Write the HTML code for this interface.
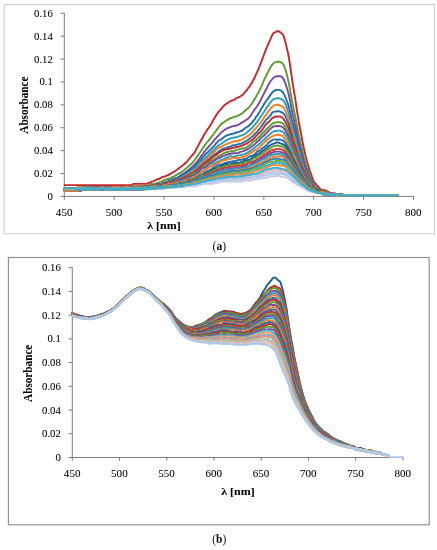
<!DOCTYPE html>
<html lang="en"><head><meta charset="utf-8"><title>Absorbance spectra</title>
<style>html,body{margin:0;padding:0;background:#fff}body{width:437px;height:550px;overflow:hidden}</style>
</head><body>
<svg width="437" height="550" viewBox="0 0 437 550" style="display:block">
<rect width="437" height="550" fill="#fff"/>
<rect x="4.2" y="4.6" width="430.2" height="229.1" fill="#fff" stroke="#d2d2d2" stroke-width="1.2"/>
<rect x="8.4" y="257.5" width="420.8" height="267.3" fill="#fff" stroke="#8e8e8e" stroke-width="1.15"/>
<g stroke="#7c7c7c" stroke-width="1" fill="none">
<path d="M64.30,12.78 V199.80"/>
<path d="M60.50,196.40 H414.00"/>
<path d="M60.50,173.51 H64.30"/>
<path d="M60.50,150.62 H64.30"/>
<path d="M60.50,127.73 H64.30"/>
<path d="M60.50,104.84 H64.30"/>
<path d="M60.50,81.95 H64.30"/>
<path d="M60.50,59.06 H64.30"/>
<path d="M60.50,36.17 H64.30"/>
<path d="M60.50,13.28 H64.30"/>
<path d="M114.19,196.40 V199.80"/>
<path d="M164.07,196.40 V199.80"/>
<path d="M213.96,196.40 V199.80"/>
<path d="M263.84,196.40 V199.80"/>
<path d="M313.73,196.40 V199.80"/>
<path d="M363.61,196.40 V199.80"/>
<path d="M413.50,196.40 V199.80"/>
</g>
<g font-family='"Liberation Serif", "DejaVu Serif", serif' font-size="11.4" fill="#000" stroke="#000" stroke-width="0.06">
<text transform="translate(52.85,199.85) scale(0.945,1)" text-anchor="end">0</text>
<text transform="translate(52.85,176.96) scale(0.945,1)" text-anchor="end">0.02</text>
<text transform="translate(52.85,154.07) scale(0.945,1)" text-anchor="end">0.04</text>
<text transform="translate(52.85,131.18) scale(0.945,1)" text-anchor="end">0.06</text>
<text transform="translate(52.85,108.29) scale(0.945,1)" text-anchor="end">0.08</text>
<text transform="translate(52.85,85.40) scale(0.945,1)" text-anchor="end">0.1</text>
<text transform="translate(52.85,62.51) scale(0.945,1)" text-anchor="end">0.12</text>
<text transform="translate(52.85,39.62) scale(0.945,1)" text-anchor="end">0.14</text>
<text transform="translate(52.85,16.73) scale(0.945,1)" text-anchor="end">0.16</text>
<text transform="translate(64.15,215.75) scale(0.970,1)" text-anchor="middle">450</text>
<text transform="translate(114.04,215.75) scale(0.970,1)" text-anchor="middle">500</text>
<text transform="translate(163.92,215.75) scale(0.970,1)" text-anchor="middle">550</text>
<text transform="translate(213.81,215.75) scale(0.970,1)" text-anchor="middle">600</text>
<text transform="translate(263.69,215.75) scale(0.970,1)" text-anchor="middle">650</text>
<text transform="translate(313.58,215.75) scale(0.970,1)" text-anchor="middle">700</text>
<text transform="translate(363.46,215.75) scale(0.970,1)" text-anchor="middle">750</text>
<text transform="translate(413.35,215.75) scale(0.970,1)" text-anchor="middle">800</text>
<text transform="translate(147.20,228.90) scale(1.120,1)" font-size="10.7" font-weight="bold">λ [nm]</text>
<text transform="translate(27.90,105.10) rotate(-90) scale(0.890,1)" text-anchor="middle" font-size="12.6" font-weight="bold">Absorbance</text>
</g>
<g fill="none" stroke-width="1.9" stroke-linejoin="round" stroke-linecap="round">
<path d="M64.5,188.5 83.4,188.5 84.4,187.4 87.4,187.4 88.4,188.5 95.4,188.5 96.4,187.4 103.4,187.4 104.4,188.5 115.4,188.5 116.4,187.4 119.3,187.4 120.3,188.5 140.3,188.5 141.3,187.4 143.3,187.4 144.3,188.5 147.3,188.5 148.3,187.4 167.2,187.4 168.2,186.2 182.2,186.2 183.2,185.1 191.1,185.1 192.1,183.9 197.1,183.9 198.1,182.8 202.1,182.8 203.1,181.6 206.1,181.6 207.1,180.5 208.1,181.6 209.1,180.5 211.1,180.5 212.1,180.1 213.1,180.1 214.1,179.7 215.1,179.7 216.1,179.4 217.1,179.0 219.1,179.0 220.1,178.6 221.1,178.6 222.1,178.2 223.1,178.2 224.1,178.6 225.0,178.2 227.0,178.2 228.0,177.8 229.0,177.8 230.0,177.5 231.0,177.5 232.0,177.1 235.0,177.1 236.0,177.8 237.0,177.5 239.0,177.5 240.0,176.7 245.0,176.7 246.0,176.3 248.0,176.3 249.0,175.9 250.0,175.9 251.0,175.6 252.0,174.8 253.0,174.8 254.0,174.4 255.0,174.0 256.0,174.4 257.0,174.0 258.0,173.7 260.0,173.7 260.9,173.3 261.9,172.9 262.9,172.9 263.9,172.1 264.9,171.7 265.9,171.4 266.9,171.4 267.9,171.0 268.9,170.6 269.9,170.2 270.9,170.2 271.9,169.8 274.9,169.8 275.9,169.5 278.9,169.5 279.9,169.8 280.9,169.8 281.9,170.2 282.9,170.2 283.9,170.6 284.9,171.0 285.9,171.4 286.9,172.1 287.9,172.5 288.9,173.3 289.9,174.0 290.9,175.2 291.9,176.3 292.9,177.5 293.9,178.2 294.9,179.0 295.9,179.7 296.8,180.5 297.8,181.6 298.8,182.8 299.8,182.8 300.8,183.9 301.8,185.1 302.8,186.2 303.8,186.2 304.8,187.4 305.8,187.4 306.8,188.5 307.8,188.5 308.8,189.6 309.8,189.6 310.8,190.8 312.8,190.8 313.8,191.9 316.8,191.9 317.8,193.1 326.8,193.1 327.8,194.2 338.7,194.2 339.7,195.4 397.6,195.4" stroke="#f2b0b0"/>
<path d="M64.5,189.6 72.5,189.6 73.5,188.5 115.4,188.5 116.4,187.4 119.3,187.4 120.3,188.5 155.2,188.5 156.2,187.4 175.2,187.4 176.2,186.2 188.2,186.2 189.1,185.1 197.1,185.1 198.1,183.9 202.1,183.9 203.1,182.8 206.1,182.8 207.1,181.6 208.1,182.8 209.1,182.8 210.1,181.6 212.1,181.6 213.1,180.5 219.1,180.5 220.1,179.7 221.1,179.7 222.1,179.4 223.1,179.4 224.1,179.7 225.0,179.4 227.0,179.4 228.0,179.0 229.0,179.0 230.0,178.6 235.0,178.6 236.0,179.0 239.0,179.0 240.0,178.2 241.0,178.2 242.0,177.8 244.0,177.8 245.0,177.5 249.0,177.5 250.0,177.1 251.0,177.1 252.0,176.7 253.0,176.7 254.0,176.3 255.0,176.3 256.0,175.9 257.0,175.6 258.0,175.6 259.0,175.2 260.0,175.2 260.9,174.8 261.9,174.8 262.9,174.4 263.9,173.7 264.9,173.3 265.9,172.9 267.9,172.9 268.9,172.5 269.9,172.5 270.9,172.1 271.9,171.7 273.9,171.7 274.9,171.4 275.9,171.7 280.9,171.7 281.9,172.1 282.9,172.1 283.9,172.9 284.9,173.3 285.9,173.7 286.9,174.0 287.9,174.0 288.9,174.8 289.9,175.6 290.9,176.7 291.9,177.8 292.9,178.6 293.9,179.4 294.9,180.1 295.9,180.5 296.8,181.6 297.8,182.8 298.8,182.8 299.8,183.9 300.8,185.1 301.8,185.1 302.8,186.2 303.8,187.4 304.8,187.4 305.8,188.5 306.8,188.5 307.8,189.6 308.8,189.6 309.8,190.8 311.8,190.8 312.8,191.9 315.8,191.9 316.8,193.1 322.8,193.1 323.8,194.2 338.7,194.2 339.7,195.4 397.6,195.4" stroke="#cbbfe0"/>
<path d="M64.5,188.5 67.5,188.5 68.5,189.6 79.5,189.6 80.5,188.5 81.5,188.5 82.4,187.4 111.4,187.4 112.4,188.5 115.4,188.5 116.4,187.4 163.2,187.4 164.2,186.2 183.2,186.2 184.2,185.1 194.1,185.1 195.1,183.9 204.1,183.9 205.1,182.8 208.1,182.8 209.1,181.6 216.1,181.6 217.1,180.5 221.1,180.5 222.1,180.1 231.0,180.1 232.0,179.7 234.0,179.7 235.0,179.4 236.0,179.7 238.0,179.7 239.0,179.4 240.0,179.7 241.0,179.7 242.0,179.4 243.0,179.4 244.0,179.0 245.0,178.6 249.0,178.6 250.0,178.2 251.0,178.2 252.0,177.8 253.0,177.8 254.0,177.5 256.0,177.5 257.0,177.1 258.0,177.1 259.0,176.7 260.0,176.7 260.9,176.3 261.9,175.9 262.9,175.9 263.9,175.6 264.9,175.6 265.9,175.2 266.9,175.2 267.9,174.8 268.9,174.4 269.9,174.4 270.9,174.0 271.9,173.7 277.9,173.7 278.9,174.0 279.9,173.7 280.9,173.7 281.9,174.0 282.9,174.0 283.9,174.4 284.9,174.8 285.9,175.2 286.9,175.6 287.9,175.9 288.9,176.3 289.9,177.1 290.9,177.8 291.9,179.4 292.9,180.1 293.9,180.5 294.9,181.6 295.9,181.6 296.8,182.8 297.8,182.8 298.8,183.9 299.8,185.1 300.8,185.1 301.8,186.2 302.8,186.2 303.8,187.4 304.8,187.4 305.8,188.5 306.8,188.5 307.8,189.6 308.8,189.6 309.8,190.8 311.8,190.8 312.8,191.9 317.8,191.9 318.8,193.1 325.8,193.1 326.8,194.2 338.7,194.2 339.7,195.4 397.6,195.4" stroke="#a8cbe8"/>
<path d="M64.5,190.8 67.5,190.8 68.5,189.6 71.5,189.6 72.5,190.8 75.5,190.8 76.5,189.6 80.5,189.6 81.5,188.5 83.4,188.5 84.4,189.6 87.4,189.6 88.4,188.5 107.4,188.5 108.4,189.6 111.4,189.6 112.4,188.5 163.2,188.5 164.2,187.4 185.2,187.4 186.2,186.2 196.1,186.2 197.1,185.1 201.1,185.1 202.1,183.9 213.1,183.9 214.1,182.8 219.1,182.8 220.1,181.6 242.0,181.6 243.0,180.5 250.0,180.5 251.0,180.1 252.0,180.1 253.0,179.7 255.0,179.7 256.0,179.4 257.0,179.4 258.0,179.0 259.0,179.0 260.0,178.6 260.9,178.2 261.9,178.2 262.9,177.8 263.9,178.2 264.9,177.8 265.9,177.8 266.9,177.5 267.9,177.1 268.9,176.7 269.9,176.7 270.9,176.3 274.9,176.3 275.9,175.9 278.9,175.9 279.9,176.3 280.9,176.7 283.9,176.7 284.9,177.1 285.9,177.5 286.9,177.8 287.9,178.2 288.9,178.6 289.9,179.4 290.9,180.1 291.9,181.6 292.9,181.6 293.9,182.8 294.9,182.8 295.9,183.9 296.8,183.9 297.8,185.1 298.8,185.1 299.8,186.2 300.8,186.2 301.8,187.4 302.8,187.4 303.8,188.5 304.8,188.5 305.8,189.6 306.8,189.6 307.8,190.8 309.8,190.8 310.8,191.9 316.8,191.9 317.8,193.1 320.8,193.1 321.8,194.2 334.7,194.2 335.7,195.4 397.6,195.4" stroke="#c9c6e6"/>
<path d="M64.5,185.1 132.3,185.1 133.3,183.9 147.3,183.9 148.3,182.8 150.3,182.8 151.3,181.6 153.3,181.6 154.2,180.5 155.2,180.5 156.2,179.7 157.2,179.4 158.2,179.0 159.2,179.0 160.2,178.2 161.2,177.8 162.2,177.1 163.2,176.7 164.2,176.7 165.2,176.3 166.2,175.9 167.2,175.2 168.2,175.2 169.2,174.4 170.2,174.0 171.2,173.3 172.2,172.9 173.2,172.1 174.2,171.7 175.2,171.0 176.2,170.2 177.2,169.5 178.2,168.7 179.2,167.9 180.2,167.2 181.2,166.4 182.2,165.7 183.2,164.9 184.2,164.1 185.2,163.4 186.2,162.2 187.2,161.5 188.2,159.9 189.1,158.8 190.1,157.7 191.1,156.5 192.1,155.4 193.1,154.2 194.1,153.1 195.1,151.6 196.1,149.3 197.1,147.8 198.1,145.8 199.1,143.9 200.1,142.0 201.1,140.1 202.1,138.6 203.1,136.7 204.1,134.8 205.1,133.3 206.1,131.8 207.1,129.9 208.1,128.7 209.1,127.2 210.1,125.7 211.1,124.1 212.1,122.2 213.1,120.3 214.1,118.8 215.1,116.9 216.1,115.4 217.1,113.9 218.1,112.3 219.1,111.2 220.1,110.1 221.1,108.9 222.1,107.8 223.1,106.6 224.1,105.5 225.0,104.7 226.0,104.0 227.0,103.2 228.0,102.8 229.0,102.1 230.0,101.3 231.0,100.9 232.0,100.5 233.0,100.1 234.0,99.8 235.0,99.4 236.0,98.2 237.0,97.9 238.0,97.5 239.0,97.1 240.0,96.7 241.0,96.0 242.0,95.2 243.0,94.4 244.0,93.3 245.0,92.2 246.0,91.0 247.0,89.9 248.0,88.3 249.0,87.2 250.0,85.7 251.0,83.8 252.0,82.6 253.0,80.7 254.0,78.8 255.0,76.9 256.0,74.3 257.0,72.3 258.0,70.1 259.0,67.8 260.0,65.1 260.9,62.8 261.9,60.2 262.9,57.5 263.9,54.8 264.9,52.2 265.9,49.5 266.9,47.2 267.9,44.9 268.9,42.6 269.9,40.4 270.9,38.1 271.9,35.8 272.9,33.9 273.9,32.7 274.9,32.4 275.9,32.0 276.9,31.2 278.9,31.2 279.9,32.0 280.9,32.7 281.9,33.5 282.9,34.6 283.9,36.9 284.9,40.4 285.9,44.2 286.9,48.4 287.9,52.5 288.9,57.5 289.9,64.0 290.9,70.8 291.9,78.1 292.9,84.9 293.9,91.0 294.9,96.7 295.9,103.2 296.8,109.7 297.8,115.8 298.8,121.9 299.8,127.2 300.8,132.5 301.8,137.9 302.8,143.2 303.8,148.1 304.8,152.7 305.8,156.9 306.8,160.7 307.8,164.1 308.8,167.6 309.8,170.6 310.8,173.3 311.8,176.3 312.8,179.0 313.8,181.6 314.8,182.8 315.8,183.9 316.8,185.1 317.8,186.2 318.8,187.4 319.8,188.5 320.8,189.6 321.8,189.6 322.8,190.8 323.8,189.6 324.8,190.8 326.8,190.8 327.8,191.9 328.8,191.9 329.8,193.1 334.7,193.1 335.7,194.2 342.7,194.2 343.7,195.4 397.6,195.4" stroke="#c8282d"/>
<path d="M64.5,188.5 76.5,188.5 77.5,187.4 131.3,187.4 132.3,186.2 135.3,186.2 136.3,187.4 139.3,187.4 140.3,186.2 147.3,186.2 148.3,185.1 150.3,185.1 151.3,183.9 152.3,185.1 153.3,183.9 156.2,183.9 157.2,182.8 159.2,182.8 160.2,181.6 162.2,181.6 163.2,180.5 164.2,180.1 165.2,179.7 166.2,179.4 167.2,179.0 168.2,179.4 169.2,178.6 170.2,178.2 171.2,177.8 172.2,177.1 173.2,176.7 174.2,176.3 175.2,175.6 176.2,175.2 177.2,174.4 178.2,174.0 179.2,173.3 180.2,172.9 181.2,172.1 182.2,171.7 183.2,171.0 184.2,169.8 185.2,169.1 186.2,168.3 187.2,167.6 188.2,166.8 189.1,166.0 190.1,164.9 191.1,164.1 192.1,163.0 193.1,161.8 194.1,160.7 195.1,159.6 196.1,158.0 197.1,156.5 198.1,155.4 199.1,153.8 200.1,152.3 201.1,150.8 202.1,149.3 203.1,147.8 204.1,146.2 205.1,144.7 206.1,143.6 207.1,142.0 208.1,141.3 209.1,139.8 210.1,138.6 211.1,137.5 212.1,135.9 213.1,134.8 214.1,133.3 215.1,131.8 216.1,130.6 217.1,129.1 218.1,128.0 219.1,126.8 220.1,125.3 221.1,124.1 222.1,123.4 223.1,122.6 224.1,122.2 225.0,121.5 226.0,120.7 227.0,120.0 228.0,119.6 229.0,118.8 230.0,118.4 231.0,118.0 232.0,117.7 233.0,117.3 234.0,116.9 235.0,116.9 236.0,116.5 237.0,116.1 238.0,115.8 239.0,115.0 240.0,114.6 241.0,114.2 242.0,113.5 243.0,112.7 244.0,111.6 245.0,110.8 246.0,109.7 247.0,108.9 248.0,108.5 249.0,107.4 250.0,106.2 251.0,104.7 252.0,103.6 253.0,101.7 254.0,100.1 255.0,98.6 256.0,96.7 257.0,94.8 258.0,93.3 259.0,91.4 260.0,89.5 260.9,87.6 261.9,85.3 262.9,83.0 263.9,80.3 264.9,78.4 265.9,76.2 266.9,74.3 267.9,72.3 268.9,70.4 269.9,68.5 270.9,66.6 271.9,65.1 272.9,64.0 273.9,62.8 274.9,62.4 275.9,62.1 276.9,61.7 279.9,61.7 280.9,62.4 281.9,62.8 282.9,64.0 283.9,65.5 284.9,68.2 285.9,71.2 286.9,74.6 287.9,79.2 288.9,83.4 289.9,88.7 290.9,94.4 291.9,99.8 292.9,105.1 293.9,110.1 294.9,115.0 295.9,120.3 296.8,125.3 297.8,130.2 298.8,135.6 299.8,139.8 300.8,144.3 301.8,148.5 302.8,152.7 303.8,157.3 304.8,161.1 305.8,164.5 306.8,167.6 307.8,170.2 308.8,173.3 309.8,175.6 310.8,177.8 311.8,180.5 312.8,182.8 313.8,183.9 314.8,186.2 315.8,187.4 316.8,187.4 317.8,188.5 318.8,189.6 319.8,189.6 320.8,190.8 322.8,190.8 323.8,191.9 326.8,191.9 327.8,193.1 330.8,193.1 331.7,194.2 337.7,194.2 338.7,195.4 339.7,194.2 340.7,195.4 397.6,195.4" stroke="#5a9e2f"/>
<path d="M64.5,190.8 75.5,190.8 76.5,188.5 79.5,188.5 80.5,189.6 83.4,189.6 84.4,188.5 91.4,188.5 92.4,189.6 95.4,189.6 96.4,188.5 99.4,188.5 100.4,189.6 103.4,189.6 104.4,188.5 111.4,188.5 112.4,189.6 115.4,189.6 116.4,188.5 144.3,188.5 145.3,187.4 149.3,187.4 150.3,186.2 155.2,186.2 156.2,185.1 158.2,185.1 159.2,183.9 162.2,183.9 163.2,182.8 165.2,182.8 166.2,181.6 168.2,181.6 169.2,180.5 170.2,180.5 171.2,180.1 172.2,179.4 173.2,179.0 174.2,178.6 175.2,178.2 176.2,178.2 177.2,177.8 178.2,177.1 179.2,176.7 180.2,175.6 181.2,175.2 182.2,174.4 183.2,173.7 184.2,173.3 185.2,172.5 186.2,171.7 187.2,171.0 188.2,170.2 189.1,169.5 190.1,168.7 191.1,167.9 192.1,166.8 193.1,166.0 194.1,164.9 195.1,163.7 196.1,163.0 197.1,161.8 198.1,160.3 199.1,159.2 200.1,157.7 201.1,156.1 202.1,155.0 203.1,153.5 204.1,151.9 205.1,150.8 206.1,149.7 207.1,148.5 208.1,147.4 209.1,146.2 210.1,145.1 211.1,143.9 212.1,142.8 213.1,141.7 214.1,140.1 215.1,139.0 216.1,138.2 217.1,136.7 218.1,135.9 219.1,134.8 220.1,133.7 221.1,132.5 222.1,131.8 223.1,131.0 224.1,130.2 225.0,129.5 226.0,129.1 227.0,128.3 228.0,128.0 229.0,127.6 230.0,127.2 231.0,126.8 232.0,126.4 233.0,126.4 234.0,126.0 235.0,125.7 236.0,125.7 237.0,125.3 238.0,124.9 239.0,124.5 240.0,123.8 241.0,123.0 242.0,122.6 243.0,121.9 244.0,121.5 245.0,120.7 246.0,120.0 247.0,119.2 248.0,118.8 249.0,117.7 250.0,116.5 251.0,115.4 252.0,113.5 253.0,112.0 254.0,110.4 255.0,108.9 256.0,107.8 257.0,106.2 258.0,104.7 259.0,103.2 260.0,101.3 260.9,99.4 261.9,97.5 262.9,95.6 263.9,93.7 264.9,91.4 265.9,89.9 266.9,88.0 267.9,85.7 268.9,84.2 269.9,82.3 270.9,80.7 271.9,79.6 272.9,78.4 273.9,77.3 274.9,76.9 275.9,76.5 276.9,76.2 279.9,76.2 280.9,76.5 281.9,76.9 282.9,78.1 283.9,79.6 284.9,82.3 285.9,84.9 286.9,88.0 287.9,91.4 288.9,95.2 289.9,100.1 290.9,105.1 291.9,110.4 292.9,115.4 293.9,119.6 294.9,124.1 295.9,128.7 296.8,133.3 297.8,137.9 298.8,142.4 299.8,146.6 300.8,150.4 301.8,154.2 302.8,158.0 303.8,161.5 304.8,164.9 305.8,167.9 306.8,170.6 307.8,173.3 308.8,175.9 309.8,177.8 310.8,180.1 311.8,181.6 312.8,183.9 313.8,185.1 314.8,187.4 315.8,187.4 316.8,188.5 317.8,189.6 318.8,189.6 319.8,190.8 320.8,191.9 323.8,191.9 324.8,193.1 329.8,193.1 330.8,194.2 338.7,194.2 339.7,195.4 397.6,195.4" stroke="#7a4aa3"/>
<path d="M64.5,189.6 71.5,189.6 72.5,188.5 80.5,188.5 81.5,187.4 144.3,187.4 145.3,186.2 151.3,186.2 152.3,185.1 155.2,185.1 156.2,183.9 162.2,183.9 163.2,182.8 165.2,182.8 166.2,181.6 168.2,181.6 169.2,180.5 170.2,180.5 171.2,180.1 172.2,179.7 173.2,179.4 174.2,179.0 175.2,178.6 176.2,178.6 177.2,178.2 178.2,177.5 179.2,177.1 180.2,175.9 181.2,175.6 182.2,175.2 183.2,174.4 184.2,174.0 185.2,173.7 186.2,172.9 187.2,172.1 188.2,171.7 189.1,171.0 190.1,170.2 191.1,169.5 192.1,168.7 193.1,167.9 194.1,167.2 195.1,166.4 196.1,164.9 197.1,163.7 198.1,162.6 199.1,161.5 200.1,160.7 201.1,159.6 202.1,158.0 203.1,156.9 204.1,155.8 205.1,154.6 206.1,153.5 207.1,152.7 208.1,151.9 209.1,150.8 210.1,150.0 211.1,148.9 212.1,147.8 213.1,147.0 214.1,145.8 215.1,144.7 216.1,143.2 217.1,142.4 218.1,141.3 219.1,140.5 220.1,140.1 221.1,139.4 222.1,138.6 223.1,137.9 224.1,137.1 225.0,136.3 226.0,135.9 227.0,135.2 228.0,135.2 229.0,134.8 230.0,134.4 231.0,134.0 232.0,134.0 233.0,133.7 234.0,133.3 235.0,133.3 236.0,132.5 237.0,132.5 238.0,132.1 239.0,131.8 240.0,131.4 241.0,131.0 242.0,130.6 243.0,129.9 244.0,129.1 245.0,128.3 246.0,127.6 247.0,126.8 248.0,126.4 249.0,125.7 250.0,124.5 251.0,123.8 252.0,122.6 253.0,121.1 254.0,120.0 255.0,118.8 256.0,116.9 257.0,115.8 258.0,114.2 259.0,112.7 260.0,111.2 260.9,109.3 261.9,107.8 262.9,106.2 263.9,104.3 264.9,102.8 265.9,101.3 266.9,99.8 267.9,98.6 268.9,97.1 269.9,95.6 270.9,94.1 271.9,92.9 272.9,91.8 273.9,91.0 274.9,90.6 275.9,89.9 278.9,89.9 279.9,90.2 280.9,90.6 281.9,91.4 282.9,92.2 283.9,94.1 284.9,96.0 285.9,98.2 286.9,101.3 287.9,103.6 288.9,107.0 289.9,111.2 290.9,115.4 291.9,120.0 292.9,124.1 293.9,128.0 294.9,131.8 295.9,135.9 296.8,140.1 297.8,143.9 298.8,147.8 299.8,151.9 300.8,155.4 301.8,158.8 302.8,162.2 303.8,165.3 304.8,168.3 305.8,171.0 306.8,173.3 307.8,175.2 308.8,177.5 309.8,179.4 310.8,181.6 311.8,182.8 312.8,185.1 313.8,186.2 314.8,187.4 315.8,188.5 316.8,188.5 317.8,189.6 318.8,190.8 320.8,190.8 321.8,191.9 324.8,191.9 325.8,193.1 329.8,193.1 330.8,194.2 337.7,194.2 338.7,195.4 397.6,195.4" stroke="#1f6fae"/>
<path d="M64.5,189.6 75.5,189.6 76.5,188.5 143.3,188.5 144.3,187.4 148.3,187.4 149.3,186.2 153.3,186.2 154.2,185.1 158.2,185.1 159.2,183.9 160.2,185.1 161.2,183.9 166.2,183.9 167.2,182.8 169.2,182.8 170.2,181.6 172.2,181.6 173.2,180.5 174.2,180.5 175.2,180.1 176.2,179.7 177.2,179.4 178.2,179.0 179.2,178.6 180.2,177.8 181.2,177.5 182.2,177.1 183.2,176.3 184.2,176.3 185.2,175.9 186.2,175.2 187.2,174.8 188.2,173.7 189.1,172.9 190.1,172.1 191.1,171.4 192.1,171.4 193.1,170.6 194.1,169.5 195.1,168.7 196.1,167.6 197.1,166.4 198.1,165.3 199.1,164.1 200.1,163.4 201.1,162.2 202.1,161.1 203.1,159.9 204.1,159.2 205.1,158.0 206.1,157.3 207.1,156.1 208.1,155.4 209.1,154.2 210.1,153.5 211.1,152.3 212.1,151.6 213.1,150.4 214.1,149.7 215.1,148.5 216.1,147.4 217.1,146.6 218.1,145.8 219.1,145.1 220.1,144.3 221.1,143.9 222.1,143.2 223.1,142.4 224.1,141.7 225.0,140.9 226.0,140.5 227.0,140.1 228.0,139.4 229.0,139.0 230.0,138.6 231.0,138.2 232.0,137.9 233.0,137.9 234.0,137.5 235.0,137.5 236.0,137.1 237.0,137.1 238.0,136.7 239.0,136.3 240.0,135.9 241.0,135.6 242.0,135.2 243.0,134.8 244.0,134.4 245.0,134.0 246.0,133.3 247.0,132.5 248.0,131.4 249.0,130.6 250.0,129.5 251.0,128.7 252.0,128.0 253.0,126.8 254.0,125.7 255.0,124.5 256.0,123.4 257.0,121.9 258.0,120.7 259.0,119.2 260.0,118.0 260.9,116.5 261.9,115.0 262.9,113.5 263.9,112.0 264.9,110.4 265.9,108.9 266.9,107.4 267.9,106.2 268.9,104.7 269.9,103.2 270.9,102.1 271.9,100.5 272.9,99.8 273.9,99.0 274.9,98.6 275.9,98.6 276.9,98.2 278.9,98.2 279.9,98.6 280.9,98.6 281.9,99.4 282.9,100.1 283.9,100.9 284.9,102.8 285.9,105.1 286.9,107.4 287.9,110.8 288.9,113.9 289.9,117.7 290.9,121.9 291.9,126.0 292.9,129.9 293.9,133.3 294.9,137.1 295.9,140.1 296.8,143.9 297.8,147.8 298.8,151.2 299.8,154.6 300.8,158.0 301.8,161.1 302.8,164.1 303.8,167.6 304.8,170.2 305.8,172.9 306.8,175.2 307.8,177.1 308.8,179.0 309.8,180.5 310.8,182.8 311.8,183.9 312.8,185.1 313.8,186.2 314.8,187.4 315.8,188.5 316.8,189.6 317.8,189.6 318.8,190.8 319.8,190.8 320.8,191.9 324.8,191.9 325.8,193.1 327.8,193.1 328.8,194.2 337.7,194.2 338.7,195.4 339.7,194.2 340.7,194.2 341.7,195.4 397.6,195.4" stroke="#2b9dbd"/>
<path d="M64.5,188.5 127.3,188.5 128.3,187.4 131.3,187.4 132.3,188.5 139.3,188.5 140.3,187.4 143.3,187.4 144.3,188.5 145.3,187.4 150.3,187.4 151.3,186.2 155.2,186.2 156.2,185.1 162.2,185.1 163.2,183.9 164.2,183.9 165.2,182.8 169.2,182.8 170.2,181.6 174.2,181.6 175.2,180.5 176.2,180.5 177.2,180.1 178.2,179.7 179.2,179.4 180.2,178.6 181.2,178.2 182.2,177.8 183.2,177.5 184.2,176.7 185.2,176.3 186.2,175.9 187.2,175.2 188.2,174.8 189.1,174.0 190.1,173.7 191.1,172.9 192.1,172.1 193.1,171.4 194.1,170.6 195.1,169.8 196.1,169.1 197.1,168.3 198.1,167.2 199.1,166.4 200.1,164.9 201.1,163.7 202.1,163.0 203.1,161.8 204.1,161.5 205.1,160.3 206.1,159.6 207.1,158.8 208.1,157.7 209.1,156.9 210.1,155.8 211.1,155.0 212.1,153.8 213.1,153.1 214.1,151.9 215.1,151.2 216.1,149.7 217.1,148.9 218.1,148.1 219.1,147.4 220.1,147.4 221.1,147.0 222.1,146.2 223.1,145.8 224.1,145.1 225.0,144.7 226.0,144.3 227.0,143.6 228.0,143.6 229.0,143.2 230.0,142.8 231.0,142.4 232.0,142.0 233.0,141.7 234.0,141.3 237.0,141.3 238.0,140.9 239.0,140.5 240.0,140.1 241.0,139.8 242.0,139.4 243.0,139.0 244.0,138.2 245.0,137.9 246.0,137.1 247.0,136.3 248.0,135.9 249.0,135.2 250.0,134.4 251.0,133.7 252.0,132.5 253.0,131.4 254.0,130.2 255.0,129.1 256.0,128.0 257.0,126.8 258.0,125.7 259.0,124.5 260.0,123.4 260.9,122.2 261.9,120.7 262.9,119.2 263.9,117.7 264.9,116.1 265.9,115.0 266.9,113.5 267.9,112.0 268.9,110.8 269.9,109.7 270.9,108.1 271.9,107.0 272.9,106.2 273.9,105.5 274.9,105.1 275.9,105.1 276.9,104.7 278.9,104.7 279.9,105.5 280.9,105.9 281.9,106.2 282.9,107.0 283.9,107.8 284.9,109.7 285.9,112.0 286.9,114.2 287.9,116.1 288.9,119.2 289.9,122.6 290.9,126.4 291.9,130.2 292.9,134.0 293.9,137.5 294.9,140.5 295.9,143.9 296.8,147.4 297.8,150.8 298.8,154.2 299.8,157.7 300.8,160.7 301.8,163.7 302.8,166.4 303.8,169.1 304.8,171.4 305.8,173.7 306.8,175.9 307.8,178.2 308.8,180.1 309.8,181.6 310.8,182.8 311.8,185.1 312.8,186.2 313.8,187.4 314.8,188.5 315.8,189.6 316.8,189.6 317.8,190.8 319.8,190.8 320.8,191.9 322.8,191.9 323.8,193.1 329.8,193.1 330.8,194.2 338.7,194.2 339.7,195.4 397.6,195.4" stroke="#f47d20"/>
<path d="M64.5,189.6 72.5,189.6 73.5,188.5 143.3,188.5 144.3,187.4 151.3,187.4 152.3,186.2 155.2,186.2 156.2,185.1 161.2,185.1 162.2,183.9 167.2,183.9 168.2,182.8 171.2,182.8 172.2,181.6 175.2,181.6 176.2,180.5 177.2,180.5 178.2,180.1 179.2,179.7 180.2,179.4 181.2,178.6 182.2,178.2 183.2,177.8 184.2,178.2 185.2,177.8 186.2,177.1 187.2,176.7 188.2,175.6 189.1,175.2 190.1,174.4 191.1,174.0 192.1,173.7 193.1,172.9 194.1,172.1 195.1,171.4 196.1,170.2 197.1,169.5 198.1,168.7 199.1,167.6 200.1,166.8 201.1,166.0 202.1,165.3 203.1,164.1 204.1,163.4 205.1,162.6 206.1,161.8 207.1,161.1 208.1,159.9 209.1,159.2 210.1,158.4 211.1,157.7 212.1,156.5 213.1,155.8 214.1,155.0 215.1,154.2 216.1,153.5 217.1,152.7 218.1,151.9 219.1,151.2 220.1,150.4 221.1,150.0 222.1,149.3 223.1,148.9 224.1,148.5 225.0,148.1 226.0,147.8 227.0,147.4 228.0,147.4 229.0,147.0 230.0,146.6 231.0,146.6 232.0,145.5 233.0,145.5 234.0,145.1 235.0,145.1 236.0,144.7 237.0,144.7 238.0,144.3 239.0,143.9 240.0,143.9 241.0,143.6 242.0,143.2 243.0,142.8 244.0,142.0 245.0,141.7 246.0,141.3 247.0,140.5 248.0,139.8 249.0,139.0 250.0,138.2 251.0,137.5 252.0,136.7 253.0,135.9 254.0,134.8 255.0,133.7 256.0,132.9 257.0,131.8 258.0,130.6 259.0,129.5 260.0,128.3 260.9,126.8 261.9,125.7 262.9,124.1 263.9,122.6 264.9,121.5 265.9,120.0 266.9,118.8 267.9,118.4 268.9,116.9 269.9,115.8 270.9,114.6 271.9,113.1 272.9,112.3 273.9,111.6 275.9,111.6 276.9,111.2 278.9,111.2 279.9,111.6 280.9,112.0 281.9,112.3 282.9,113.1 283.9,113.9 284.9,115.4 285.9,117.3 286.9,119.6 287.9,122.2 288.9,124.5 289.9,128.0 290.9,131.4 291.9,135.6 292.9,139.0 293.9,142.0 294.9,145.1 295.9,147.8 296.8,150.8 297.8,154.2 298.8,157.3 299.8,159.9 300.8,162.6 301.8,165.7 302.8,168.3 303.8,170.6 304.8,172.9 305.8,175.2 306.8,177.1 307.8,179.4 308.8,180.5 309.8,182.8 310.8,183.9 311.8,185.1 312.8,186.2 313.8,187.4 314.8,188.5 315.8,189.6 316.8,189.6 317.8,190.8 318.8,190.8 319.8,191.9 320.8,191.9 321.8,193.1 327.8,193.1 328.8,194.2 336.7,194.2 337.7,195.4 397.6,195.4" stroke="#1f6fae"/>
<path d="M64.5,188.5 80.5,188.5 81.5,187.4 135.3,187.4 136.3,186.2 139.3,186.2 140.3,187.4 142.3,187.4 143.3,186.2 151.3,186.2 152.3,185.1 157.2,185.1 158.2,183.9 164.2,183.9 165.2,182.8 169.2,182.8 170.2,181.6 173.2,181.6 174.2,180.5 175.2,180.5 176.2,180.1 177.2,180.1 178.2,179.7 179.2,179.4 180.2,179.0 181.2,178.6 182.2,178.6 183.2,177.8 184.2,177.1 185.2,176.7 186.2,176.3 187.2,175.9 188.2,175.6 189.1,175.2 190.1,174.8 191.1,174.0 192.1,173.3 193.1,172.9 194.1,172.1 195.1,171.4 196.1,171.0 197.1,170.2 198.1,169.5 199.1,168.7 200.1,167.6 201.1,166.4 202.1,165.7 203.1,164.9 204.1,164.1 205.1,163.4 206.1,162.6 207.1,161.8 208.1,161.1 209.1,160.3 210.1,159.6 211.1,158.8 212.1,157.7 213.1,156.9 214.1,156.1 215.1,155.4 216.1,155.0 217.1,154.2 218.1,153.5 219.1,152.7 220.1,151.9 221.1,151.6 222.1,150.8 223.1,150.4 224.1,150.0 225.0,149.7 226.0,149.3 227.0,148.9 228.0,149.3 229.0,148.9 230.0,148.5 231.0,148.5 232.0,148.1 233.0,147.8 234.0,147.8 235.0,147.4 236.0,147.0 237.0,147.0 238.0,146.6 239.0,146.6 240.0,146.2 241.0,145.8 242.0,145.5 243.0,145.1 244.0,144.7 245.0,144.3 246.0,143.9 247.0,143.2 248.0,142.8 249.0,142.0 250.0,141.3 251.0,140.5 252.0,140.1 253.0,139.4 254.0,138.2 255.0,137.5 256.0,135.9 257.0,135.2 258.0,134.0 259.0,132.9 260.0,132.5 260.9,131.4 261.9,130.2 262.9,128.7 263.9,127.2 264.9,125.7 265.9,124.5 266.9,123.4 267.9,122.6 268.9,121.9 269.9,120.7 270.9,119.6 271.9,118.4 272.9,117.7 273.9,117.3 274.9,116.9 275.9,116.5 279.9,116.5 280.9,116.9 281.9,117.3 282.9,118.0 283.9,119.6 284.9,121.1 285.9,123.0 286.9,124.9 287.9,126.8 288.9,129.5 289.9,132.5 290.9,135.6 291.9,139.0 292.9,142.0 293.9,145.1 294.9,147.8 295.9,150.8 296.8,153.8 297.8,156.5 298.8,159.6 299.8,162.2 300.8,164.9 301.8,167.2 302.8,169.8 303.8,171.4 304.8,173.7 305.8,175.6 306.8,177.5 307.8,179.7 308.8,181.6 309.8,182.8 310.8,183.9 311.8,185.1 312.8,186.2 313.8,187.4 314.8,188.5 315.8,189.6 316.8,189.6 317.8,190.8 319.8,190.8 320.8,191.9 322.8,191.9 323.8,193.1 329.8,193.1 330.8,194.2 340.7,194.2 341.7,195.4 397.6,195.4" stroke="#c8282d"/>
<path d="M64.5,188.5 76.5,188.5 77.5,187.4 125.3,187.4 126.3,186.2 127.3,186.2 128.3,187.4 139.3,187.4 140.3,186.2 143.3,186.2 144.3,187.4 145.3,187.4 146.3,186.2 153.3,186.2 154.2,185.1 159.2,185.1 160.2,183.9 167.2,183.9 168.2,182.8 171.2,182.8 172.2,181.6 175.2,181.6 176.2,180.5 178.2,180.5 179.2,180.1 180.2,179.7 181.2,179.4 182.2,179.0 183.2,178.6 184.2,178.2 185.2,177.8 186.2,177.5 187.2,177.1 188.2,176.7 189.1,176.3 190.1,175.6 191.1,175.2 192.1,174.4 193.1,173.7 194.1,173.3 195.1,172.5 196.1,172.5 197.1,172.1 198.1,171.4 199.1,170.6 200.1,169.1 201.1,168.3 202.1,167.6 203.1,166.8 204.1,166.0 205.1,165.7 206.1,164.9 207.1,164.1 208.1,163.4 209.1,162.6 210.1,161.8 211.1,161.1 212.1,160.3 213.1,159.9 214.1,159.2 215.1,158.4 216.1,157.7 217.1,157.3 218.1,156.5 219.1,156.1 220.1,155.4 221.1,155.0 222.1,154.6 223.1,153.8 224.1,153.1 225.0,152.7 226.0,152.3 227.0,152.3 228.0,151.9 229.0,151.6 230.0,151.6 231.0,151.2 233.0,151.2 234.0,150.8 235.0,150.8 236.0,150.0 237.0,149.7 238.0,149.7 239.0,149.3 240.0,148.9 241.0,148.9 242.0,148.5 243.0,148.1 244.0,148.5 245.0,148.1 246.0,147.8 247.0,147.0 248.0,146.2 249.0,145.5 250.0,145.1 251.0,144.3 252.0,142.8 253.0,142.0 254.0,141.3 255.0,140.5 256.0,140.1 257.0,139.0 258.0,138.2 259.0,137.1 260.0,136.3 260.9,135.2 261.9,134.0 262.9,132.9 263.9,132.1 264.9,131.0 265.9,129.9 266.9,128.7 267.9,128.0 268.9,126.8 269.9,126.0 270.9,124.9 271.9,124.1 272.9,123.4 273.9,123.0 274.9,122.6 275.9,122.6 276.9,122.2 279.9,122.2 280.9,122.6 281.9,123.0 282.9,123.4 283.9,124.9 284.9,126.0 285.9,128.0 286.9,129.9 287.9,131.8 288.9,134.0 289.9,136.7 290.9,139.8 291.9,143.2 292.9,145.8 293.9,148.5 294.9,151.2 295.9,153.5 296.8,156.1 297.8,158.8 298.8,161.5 299.8,164.5 300.8,166.8 301.8,169.1 302.8,171.4 303.8,173.3 304.8,175.6 305.8,177.1 306.8,179.0 307.8,180.1 308.8,181.6 309.8,182.8 310.8,183.9 311.8,186.2 312.8,187.4 313.8,188.5 314.8,188.5 315.8,189.6 316.8,189.6 317.8,190.8 318.8,190.8 319.8,191.9 322.8,191.9 323.8,193.1 329.8,193.1 330.8,194.2 338.7,194.2 339.7,195.4 397.6,195.4" stroke="#5a9e2f"/>
<path d="M64.5,188.5 81.5,188.5 82.4,187.4 146.3,187.4 147.3,186.2 156.2,186.2 157.2,185.1 161.2,185.1 162.2,183.9 169.2,183.9 170.2,182.8 173.2,182.8 174.2,181.6 177.2,181.6 178.2,180.5 179.2,180.5 180.2,180.1 181.2,179.7 182.2,179.7 183.2,179.4 184.2,179.0 185.2,178.6 186.2,178.2 187.2,177.8 188.2,177.5 189.1,177.1 190.1,176.7 191.1,175.9 192.1,175.9 193.1,175.6 194.1,174.8 195.1,174.4 196.1,173.7 197.1,172.9 198.1,172.1 199.1,171.4 200.1,169.8 201.1,169.1 202.1,168.3 203.1,167.9 204.1,167.9 205.1,167.2 206.1,166.8 207.1,166.0 208.1,164.9 209.1,164.1 210.1,163.7 211.1,163.0 212.1,162.2 213.1,161.5 214.1,161.1 215.1,160.3 216.1,159.6 217.1,158.8 218.1,158.4 219.1,158.0 220.1,157.7 221.1,156.9 222.1,156.5 223.1,156.1 224.1,155.8 225.0,155.4 226.0,155.0 227.0,154.6 228.0,154.2 229.0,154.2 230.0,153.8 231.0,153.8 232.0,153.5 233.0,153.5 234.0,153.1 237.0,153.1 238.0,152.7 239.0,152.7 240.0,151.9 241.0,151.9 242.0,151.6 243.0,151.2 244.0,150.8 245.0,150.4 246.0,150.0 247.0,149.7 248.0,148.9 249.0,148.5 250.0,147.8 251.0,147.0 252.0,146.2 253.0,145.5 254.0,144.7 255.0,143.9 256.0,142.8 257.0,142.0 258.0,141.3 259.0,140.5 260.0,139.4 260.9,138.2 261.9,137.5 262.9,136.3 263.9,135.6 264.9,134.4 265.9,133.7 266.9,132.5 267.9,131.4 268.9,130.2 269.9,129.5 270.9,128.3 271.9,127.6 272.9,126.8 273.9,126.4 274.9,126.4 275.9,126.0 279.9,126.0 280.9,126.4 281.9,126.8 282.9,127.2 283.9,128.7 284.9,129.9 285.9,131.8 286.9,133.3 287.9,135.2 288.9,137.1 289.9,139.8 290.9,142.8 291.9,145.5 292.9,148.1 293.9,150.8 294.9,153.1 295.9,156.1 296.8,158.8 297.8,161.1 298.8,163.7 299.8,165.7 300.8,167.9 301.8,170.2 302.8,172.5 303.8,174.8 304.8,176.7 305.8,178.2 306.8,179.7 307.8,181.6 308.8,182.8 309.8,183.9 310.8,185.1 311.8,186.2 312.8,187.4 313.8,188.5 314.8,189.6 315.8,189.6 316.8,190.8 317.8,190.8 318.8,191.9 321.8,191.9 322.8,193.1 330.8,193.1 331.7,194.2 338.7,194.2 339.7,195.4 397.6,195.4" stroke="#7a4aa3"/>
<path d="M64.5,190.8 67.5,190.8 68.5,189.6 77.5,189.6 78.5,188.5 87.4,188.5 88.4,189.6 91.4,189.6 92.4,188.5 111.4,188.5 112.4,189.6 115.4,189.6 116.4,188.5 139.3,188.5 140.3,189.6 143.3,189.6 144.3,188.5 150.3,188.5 151.3,187.4 157.2,187.4 158.2,186.2 165.2,186.2 166.2,185.1 171.2,185.1 172.2,183.9 173.2,183.9 174.2,182.8 180.2,182.8 181.2,181.6 183.2,181.6 184.2,180.5 185.2,180.5 186.2,180.1 187.2,179.7 188.2,179.4 189.1,179.0 190.1,178.6 191.1,177.8 192.1,177.8 193.1,177.5 194.1,176.7 195.1,176.3 196.1,175.2 197.1,174.8 198.1,174.0 199.1,173.3 200.1,172.9 201.1,172.1 202.1,171.4 203.1,170.6 204.1,170.2 205.1,169.5 206.1,169.1 207.1,168.3 208.1,167.6 209.1,166.8 210.1,166.4 211.1,165.7 212.1,164.9 213.1,164.1 214.1,163.7 215.1,163.0 216.1,162.6 217.1,161.8 218.1,161.5 219.1,161.1 220.1,160.3 221.1,159.9 222.1,159.6 223.1,159.2 224.1,158.8 225.0,158.4 226.0,158.0 227.0,157.7 228.0,156.9 229.0,156.5 230.0,156.5 231.0,156.1 232.0,156.9 233.0,156.9 234.0,156.5 235.0,156.5 236.0,155.8 237.0,155.8 238.0,155.4 240.0,155.4 241.0,155.0 242.0,154.6 243.0,154.6 244.0,154.2 245.0,153.8 246.0,153.5 247.0,152.7 248.0,152.3 249.0,151.6 250.0,151.2 251.0,150.4 252.0,149.7 253.0,148.9 254.0,148.1 255.0,147.4 256.0,146.6 257.0,145.8 258.0,145.1 259.0,144.3 260.0,143.6 260.9,142.4 261.9,141.7 262.9,140.5 263.9,139.8 264.9,138.6 265.9,137.9 266.9,136.7 267.9,135.9 268.9,135.2 269.9,134.0 270.9,133.3 271.9,132.5 272.9,131.8 273.9,131.4 274.9,131.0 275.9,131.0 276.9,130.6 279.9,130.6 280.9,131.0 281.9,131.4 282.9,131.8 283.9,132.9 284.9,134.4 285.9,135.6 286.9,137.5 287.9,139.0 288.9,140.9 289.9,143.6 290.9,146.2 291.9,148.9 292.9,151.2 293.9,153.8 294.9,156.1 295.9,158.4 296.8,161.1 297.8,163.4 298.8,165.7 299.8,168.3 300.8,170.6 301.8,172.5 302.8,174.8 303.8,176.7 304.8,178.2 305.8,180.1 306.8,181.6 307.8,182.8 308.8,183.9 309.8,185.1 310.8,186.2 311.8,187.4 312.8,188.5 313.8,188.5 314.8,189.6 315.8,190.8 316.8,190.8 317.8,191.9 320.8,191.9 321.8,193.1 328.8,193.1 329.8,194.2 336.7,194.2 337.7,195.4 397.6,195.4" stroke="#2b9dbd"/>
<path d="M64.5,189.6 76.5,189.6 77.5,188.5 87.4,188.5 88.4,187.4 95.4,187.4 96.4,188.5 107.4,188.5 108.4,187.4 127.3,187.4 128.3,188.5 131.3,188.5 132.3,187.4 135.3,187.4 136.3,188.5 139.3,188.5 140.3,187.4 150.3,187.4 151.3,186.2 162.2,186.2 163.2,185.1 167.2,185.1 168.2,183.9 174.2,183.9 175.2,182.8 179.2,182.8 180.2,181.6 183.2,181.6 184.2,180.5 185.2,180.5 186.2,180.1 187.2,179.7 188.2,179.7 189.1,179.4 190.1,179.0 191.1,178.6 192.1,177.8 193.1,177.5 194.1,177.1 195.1,176.7 196.1,175.9 197.1,175.6 198.1,174.8 199.1,174.4 200.1,173.3 201.1,172.5 202.1,171.7 203.1,171.4 204.1,170.6 205.1,169.8 206.1,169.5 207.1,168.7 208.1,167.9 209.1,167.6 210.1,166.8 211.1,166.4 212.1,166.4 213.1,166.0 214.1,165.3 215.1,164.9 216.1,164.1 217.1,163.4 218.1,163.0 219.1,162.6 220.1,161.8 221.1,161.1 222.1,160.7 223.1,160.7 224.1,160.3 225.0,160.3 226.0,159.9 227.0,159.6 228.0,159.2 229.0,159.2 230.0,158.8 231.0,158.8 232.0,158.0 234.0,158.0 235.0,157.7 236.0,158.0 237.0,158.0 238.0,157.7 240.0,157.7 241.0,157.3 242.0,156.9 243.0,156.9 244.0,156.5 245.0,156.1 246.0,155.8 247.0,155.4 248.0,154.6 249.0,153.8 250.0,153.5 251.0,152.7 252.0,152.3 253.0,151.6 254.0,150.8 255.0,150.0 256.0,150.0 257.0,149.3 258.0,148.5 259.0,147.8 260.0,146.6 260.9,145.8 261.9,145.1 262.9,143.9 263.9,142.8 264.9,141.7 265.9,140.9 266.9,140.1 267.9,139.4 268.9,138.6 269.9,137.9 270.9,137.1 271.9,136.3 272.9,135.9 273.9,135.6 274.9,135.6 275.9,134.8 278.9,134.8 279.9,135.2 280.9,135.2 281.9,135.6 282.9,135.9 283.9,137.5 284.9,138.6 285.9,140.1 286.9,141.7 287.9,142.8 288.9,144.7 289.9,147.0 290.9,149.3 291.9,151.9 292.9,154.2 293.9,156.1 294.9,158.4 295.9,160.7 296.8,163.0 297.8,165.3 298.8,167.6 299.8,169.8 300.8,172.1 301.8,174.0 302.8,175.9 303.8,177.1 304.8,178.6 305.8,180.1 306.8,181.6 307.8,182.8 308.8,183.9 309.8,185.1 310.8,186.2 311.8,187.4 312.8,188.5 313.8,188.5 314.8,189.6 315.8,190.8 316.8,191.9 322.8,191.9 323.8,193.1 325.8,193.1 326.8,194.2 327.8,193.1 328.8,193.1 329.8,194.2 338.7,194.2 339.7,195.4 397.6,195.4" stroke="#f47d20"/>
<path d="M64.5,189.6 75.5,189.6 76.5,188.5 83.4,188.5 84.4,189.6 87.4,189.6 88.4,188.5 91.4,188.5 92.4,189.6 99.4,189.6 100.4,188.5 103.4,188.5 104.4,189.6 118.3,189.6 119.3,188.5 123.3,188.5 124.3,189.6 127.3,189.6 128.3,188.5 131.3,188.5 132.3,189.6 143.3,189.6 144.3,188.5 147.3,188.5 148.3,187.4 160.2,187.4 161.2,186.2 167.2,186.2 168.2,185.1 174.2,185.1 175.2,183.9 179.2,183.9 180.2,182.8 184.2,182.8 185.2,181.6 187.2,181.6 188.2,180.5 190.1,180.5 191.1,179.7 192.1,179.7 193.1,179.4 194.1,179.0 195.1,178.6 196.1,177.8 197.1,177.1 198.1,176.7 199.1,175.9 200.1,175.6 201.1,174.8 202.1,174.4 203.1,173.7 204.1,172.9 205.1,172.5 206.1,171.7 207.1,171.4 208.1,171.0 209.1,170.6 210.1,169.8 211.1,169.5 212.1,168.7 213.1,167.9 214.1,167.6 215.1,167.2 216.1,166.4 217.1,165.7 218.1,165.3 219.1,164.9 220.1,164.9 221.1,164.5 222.1,164.1 223.1,163.7 224.1,163.4 225.0,163.0 226.0,163.0 227.0,162.6 228.0,162.2 229.0,162.2 230.0,161.8 231.0,161.8 232.0,161.5 233.0,161.1 235.0,161.1 236.0,160.7 237.0,160.3 238.0,160.3 239.0,159.9 241.0,159.9 242.0,159.6 243.0,159.2 244.0,159.2 245.0,158.8 246.0,158.8 247.0,158.4 248.0,157.3 249.0,156.9 250.0,156.5 251.0,155.8 252.0,156.1 253.0,155.4 254.0,154.6 255.0,154.2 256.0,152.7 257.0,151.9 258.0,151.2 259.0,150.8 260.0,150.4 260.9,149.7 261.9,148.5 262.9,147.8 263.9,147.4 264.9,146.6 265.9,145.8 266.9,145.1 267.9,143.2 268.9,142.4 269.9,141.7 270.9,140.9 271.9,140.5 272.9,139.8 273.9,139.4 274.9,139.4 275.9,139.8 276.9,139.8 277.9,139.4 278.9,139.8 279.9,139.4 280.9,139.8 281.9,140.1 282.9,140.5 283.9,141.3 284.9,142.4 285.9,143.6 286.9,145.1 287.9,146.6 288.9,148.1 289.9,150.4 290.9,152.7 291.9,155.4 292.9,157.7 293.9,159.6 294.9,161.8 295.9,163.4 296.8,165.7 297.8,167.6 298.8,169.8 299.8,171.4 300.8,173.3 301.8,175.2 302.8,176.7 303.8,178.6 304.8,180.1 305.8,181.6 306.8,182.8 307.8,183.9 308.8,185.1 309.8,186.2 310.8,187.4 311.8,188.5 312.8,188.5 313.8,189.6 314.8,190.8 317.8,190.8 318.8,191.9 319.8,193.1 325.8,193.1 326.8,194.2 332.7,194.2 333.7,195.4 334.7,195.4 335.7,194.2 338.7,194.2 339.7,195.4 397.6,195.4" stroke="#1f6fae"/>
<path d="M64.5,190.8 80.5,190.8 81.5,189.6 95.4,189.6 96.4,188.5 99.4,188.5 100.4,189.6 103.4,189.6 104.4,188.5 107.4,188.5 108.4,189.6 111.4,189.6 112.4,188.5 115.4,188.5 116.4,189.6 123.3,189.6 124.3,188.5 127.3,188.5 128.3,189.6 131.3,189.6 132.3,188.5 155.2,188.5 156.2,187.4 165.2,187.4 166.2,186.2 171.2,186.2 172.2,185.1 177.2,185.1 178.2,183.9 181.2,183.9 182.2,182.8 187.2,182.8 188.2,181.6 189.1,180.5 190.1,180.5 191.1,180.1 192.1,180.1 193.1,179.7 194.1,179.4 195.1,178.6 196.1,178.2 197.1,177.8 198.1,177.5 199.1,176.7 200.1,176.3 201.1,175.9 202.1,175.2 203.1,174.8 204.1,174.0 205.1,173.7 206.1,173.3 207.1,172.9 208.1,172.1 209.1,171.7 210.1,171.0 211.1,170.6 212.1,170.2 213.1,169.8 214.1,169.1 215.1,168.7 216.1,168.7 217.1,167.9 218.1,167.6 219.1,167.2 220.1,166.4 221.1,166.0 222.1,165.7 223.1,165.3 224.1,164.5 225.0,164.1 226.0,164.1 227.0,163.7 228.0,164.5 229.0,164.5 230.0,164.1 231.0,164.1 232.0,163.4 233.0,163.4 234.0,163.0 237.0,163.0 238.0,162.6 240.0,162.6 241.0,162.2 242.0,161.8 243.0,161.8 244.0,161.1 245.0,160.7 246.0,160.3 248.0,160.3 249.0,159.9 250.0,159.6 251.0,158.8 252.0,158.0 253.0,157.7 254.0,156.9 255.0,156.1 256.0,155.4 257.0,154.6 258.0,154.2 259.0,153.5 260.0,153.1 260.9,152.3 261.9,151.6 262.9,150.8 263.9,150.0 264.9,149.3 265.9,148.5 266.9,147.8 267.9,147.0 268.9,146.2 269.9,145.5 270.9,144.7 271.9,144.3 272.9,143.9 273.9,143.6 274.9,143.2 275.9,142.8 276.9,142.4 277.9,142.4 278.9,142.8 279.9,143.2 280.9,143.6 281.9,143.9 282.9,144.3 283.9,144.7 284.9,145.5 285.9,146.6 286.9,148.1 287.9,150.0 288.9,151.6 289.9,153.5 290.9,155.8 291.9,157.7 292.9,159.6 293.9,161.5 294.9,163.4 295.9,165.3 296.8,167.2 297.8,169.5 298.8,171.4 299.8,173.7 300.8,175.6 301.8,177.1 302.8,178.6 303.8,179.7 304.8,181.6 305.8,182.8 306.8,183.9 307.8,185.1 308.8,186.2 309.8,187.4 310.8,188.5 311.8,188.5 312.8,189.6 313.8,190.8 316.8,190.8 317.8,191.9 318.8,191.9 319.8,193.1 322.8,193.1 323.8,194.2 338.7,194.2 339.7,195.4 397.6,195.4" stroke="#1a5a90"/>
<path d="M64.5,190.8 67.5,190.8 68.5,189.6 78.5,189.6 79.5,188.5 148.3,188.5 149.3,187.4 159.2,187.4 160.2,186.2 168.2,186.2 169.2,185.1 173.2,185.1 174.2,183.9 175.2,183.9 176.2,185.1 177.2,183.9 181.2,183.9 182.2,182.8 184.2,182.8 185.2,181.6 189.1,181.6 190.1,180.5 191.1,180.5 192.1,180.1 193.1,180.1 194.1,179.7 195.1,179.0 196.1,178.6 197.1,178.2 198.1,177.5 199.1,177.1 200.1,176.3 201.1,175.9 202.1,175.2 203.1,174.8 204.1,175.2 205.1,174.8 206.1,174.0 207.1,173.7 208.1,172.9 209.1,172.5 210.1,172.1 211.1,171.7 212.1,171.4 213.1,170.6 214.1,170.2 215.1,169.8 216.1,169.5 217.1,168.7 218.1,168.3 219.1,167.9 220.1,167.6 221.1,167.2 222.1,167.2 223.1,166.8 224.1,166.4 225.0,166.4 226.0,166.0 227.0,165.7 228.0,165.3 229.0,165.3 230.0,164.9 234.0,164.9 235.0,164.5 236.0,164.1 238.0,164.1 239.0,163.7 240.0,163.7 241.0,163.4 242.0,163.4 243.0,163.0 244.0,163.0 245.0,162.6 246.0,162.6 247.0,162.2 248.0,161.5 249.0,161.1 250.0,160.7 251.0,160.3 252.0,159.6 253.0,158.8 254.0,158.4 255.0,157.7 256.0,157.7 257.0,156.9 258.0,156.1 259.0,155.8 260.0,155.4 260.9,154.6 261.9,153.8 262.9,153.1 263.9,152.3 264.9,151.6 265.9,150.8 266.9,150.0 267.9,149.7 268.9,148.9 269.9,148.5 270.9,147.8 271.9,147.0 272.9,146.6 273.9,146.2 274.9,145.8 275.9,145.8 276.9,145.5 277.9,145.5 278.9,145.8 279.9,146.2 280.9,146.2 281.9,146.6 282.9,147.0 283.9,147.8 284.9,148.5 285.9,149.7 286.9,150.8 287.9,151.9 288.9,153.5 289.9,155.4 290.9,157.3 291.9,159.9 292.9,161.8 293.9,163.4 294.9,165.3 295.9,166.8 296.8,168.7 297.8,170.2 298.8,172.1 299.8,174.0 300.8,175.9 301.8,177.5 302.8,179.0 303.8,180.5 304.8,181.6 305.8,182.8 306.8,183.9 307.8,185.1 308.8,186.2 309.8,187.4 310.8,187.4 311.8,188.5 312.8,188.5 313.8,189.6 314.8,189.6 315.8,190.8 316.8,191.9 318.8,191.9 319.8,193.1 324.8,193.1 325.8,194.2 337.7,194.2 338.7,195.4 339.7,194.2 340.7,194.2 341.7,195.4 397.6,195.4" stroke="#5a9e2f"/>
<path d="M64.5,188.5 75.5,188.5 76.5,189.6 83.4,189.6 84.4,188.5 91.4,188.5 92.4,189.6 95.4,189.6 96.4,188.5 111.4,188.5 112.4,189.6 123.3,189.6 124.3,188.5 139.3,188.5 140.3,189.6 143.3,189.6 144.3,188.5 154.2,188.5 155.2,187.4 166.2,187.4 167.2,186.2 171.2,186.2 172.2,185.1 177.2,185.1 178.2,183.9 185.2,183.9 186.2,182.8 189.1,182.8 190.1,181.6 192.1,181.6 193.1,180.5 194.1,180.5 195.1,180.1 196.1,179.4 197.1,179.0 198.1,178.6 199.1,178.2 200.1,178.2 201.1,177.8 202.1,177.1 203.1,176.7 204.1,175.6 205.1,175.2 206.1,174.8 207.1,174.4 208.1,174.4 209.1,174.0 210.1,173.3 211.1,172.9 212.1,172.5 213.1,172.1 214.1,171.7 215.1,171.4 216.1,170.6 217.1,170.2 218.1,169.8 219.1,169.5 220.1,169.1 221.1,168.7 222.1,168.3 223.1,168.3 224.1,167.9 225.0,167.9 226.0,167.6 227.0,167.6 228.0,167.2 229.0,166.8 233.0,166.8 234.0,166.4 235.0,166.4 236.0,166.0 237.0,166.0 238.0,165.7 240.0,165.7 241.0,165.3 242.0,165.3 243.0,164.9 245.0,164.9 246.0,164.5 247.0,164.1 248.0,163.4 249.0,163.0 250.0,162.6 251.0,162.2 252.0,162.2 253.0,161.5 254.0,161.1 255.0,160.7 256.0,159.9 257.0,159.6 258.0,158.8 259.0,158.4 260.0,158.0 260.9,157.3 261.9,156.5 262.9,155.8 263.9,155.0 264.9,154.2 265.9,153.8 266.9,153.1 267.9,152.3 268.9,151.6 269.9,151.2 270.9,150.4 271.9,150.4 272.9,150.0 273.9,149.7 274.9,149.7 275.9,148.9 278.9,148.9 279.9,149.3 280.9,149.3 281.9,149.7 282.9,150.0 283.9,150.8 284.9,151.6 285.9,152.7 286.9,153.8 287.9,155.4 288.9,156.9 289.9,158.8 290.9,160.7 291.9,162.2 292.9,163.7 293.9,165.7 294.9,167.2 295.9,168.7 296.8,170.2 297.8,171.7 298.8,173.7 299.8,175.6 300.8,177.1 301.8,178.6 302.8,180.1 303.8,181.6 304.8,182.8 305.8,183.9 306.8,185.1 307.8,186.2 308.8,187.4 309.8,188.5 311.8,188.5 312.8,189.6 313.8,190.8 314.8,190.8 315.8,191.9 317.8,191.9 318.8,193.1 322.8,193.1 323.8,194.2 338.7,194.2 339.7,195.4 397.6,195.4" stroke="#d8383a"/>
<path d="M64.5,190.8 71.5,190.8 72.5,189.6 75.5,189.6 76.5,190.8 81.5,190.8 82.4,189.6 87.4,189.6 88.4,188.5 91.4,188.5 92.4,189.6 103.4,189.6 104.4,188.5 107.4,188.5 108.4,189.6 115.4,189.6 116.4,188.5 119.3,188.5 120.3,189.6 136.3,189.6 137.3,188.5 139.3,188.5 140.3,189.6 141.3,188.5 155.2,188.5 156.2,187.4 166.2,187.4 167.2,186.2 176.2,186.2 177.2,185.1 180.2,185.1 181.2,183.9 188.2,183.9 189.1,182.8 191.1,182.8 192.1,181.6 193.1,181.6 194.1,180.5 196.1,180.5 197.1,180.1 198.1,179.7 199.1,179.4 200.1,178.6 201.1,178.2 202.1,177.8 203.1,177.5 204.1,177.1 205.1,176.7 206.1,176.3 207.1,175.9 208.1,175.6 209.1,175.2 210.1,174.8 211.1,174.4 212.1,174.0 213.1,173.7 214.1,173.3 215.1,172.9 216.1,172.1 217.1,171.7 218.1,171.4 219.1,171.0 220.1,170.6 221.1,170.2 222.1,169.8 223.1,169.8 224.1,170.2 225.0,169.8 226.0,169.8 227.0,169.5 228.0,168.7 229.0,168.3 231.0,168.3 232.0,168.7 233.0,168.3 236.0,168.3 237.0,167.9 239.0,167.9 240.0,167.2 241.0,167.2 242.0,166.8 244.0,166.8 245.0,166.4 246.0,166.0 247.0,165.7 249.0,165.7 250.0,165.3 251.0,164.5 252.0,163.4 253.0,163.0 254.0,162.6 255.0,161.8 256.0,162.2 257.0,161.5 258.0,161.1 259.0,160.7 260.0,159.6 260.9,159.2 261.9,158.4 262.9,157.7 263.9,157.3 264.9,156.5 265.9,155.8 266.9,155.4 267.9,154.6 268.9,153.8 269.9,153.5 270.9,152.7 271.9,152.7 272.9,152.3 273.9,151.9 274.9,151.9 275.9,151.6 278.9,151.6 279.9,151.9 280.9,152.3 281.9,152.3 282.9,152.7 283.9,153.1 284.9,153.8 285.9,154.6 286.9,155.8 287.9,157.3 288.9,158.8 289.9,160.3 290.9,162.2 291.9,163.7 292.9,165.7 293.9,167.2 294.9,168.7 295.9,169.8 296.8,171.4 297.8,172.9 298.8,174.4 299.8,176.3 300.8,177.8 301.8,179.4 302.8,180.5 303.8,181.6 304.8,182.8 305.8,183.9 306.8,185.1 307.8,186.2 308.8,186.2 309.8,187.4 310.8,188.5 311.8,189.6 312.8,189.6 313.8,190.8 314.8,190.8 315.8,191.9 316.8,191.9 317.8,193.1 322.8,193.1 323.8,194.2 334.7,194.2 335.7,195.4 397.6,195.4" stroke="#7a4aa3"/>
<path d="M64.5,189.6 72.5,189.6 73.5,188.5 135.3,188.5 136.3,187.4 139.3,187.4 140.3,188.5 143.3,188.5 144.3,187.4 156.2,187.4 157.2,186.2 159.2,186.2 160.2,187.4 162.2,187.4 163.2,186.2 164.2,187.4 165.2,186.2 172.2,186.2 173.2,185.1 176.2,185.1 177.2,183.9 184.2,183.9 185.2,182.8 190.1,182.8 191.1,181.6 193.1,181.6 194.1,180.5 195.1,180.5 196.1,180.1 197.1,179.7 198.1,179.4 199.1,179.0 200.1,178.2 201.1,177.8 202.1,177.5 203.1,177.1 204.1,177.5 205.1,177.1 206.1,176.7 207.1,176.3 208.1,175.6 209.1,175.2 210.1,174.8 211.1,174.4 212.1,174.0 213.1,173.7 214.1,173.3 215.1,172.9 216.1,172.9 217.1,172.5 218.1,172.1 219.1,171.7 220.1,171.4 221.1,171.0 222.1,171.0 223.1,170.6 224.1,170.6 225.0,170.2 226.0,170.2 227.0,169.8 228.0,170.2 229.0,170.2 230.0,169.8 231.0,169.8 232.0,169.1 233.0,169.1 234.0,168.7 237.0,168.7 238.0,168.3 242.0,168.3 243.0,167.9 244.0,167.9 245.0,167.6 246.0,167.6 247.0,167.2 248.0,166.4 249.0,166.0 250.0,165.7 251.0,165.3 252.0,165.3 253.0,164.5 254.0,164.1 255.0,163.7 256.0,163.0 257.0,162.6 258.0,162.2 259.0,161.8 260.0,161.1 260.9,160.3 261.9,159.9 262.9,159.2 263.9,159.2 264.9,158.4 265.9,158.0 266.9,157.7 267.9,156.5 268.9,156.1 269.9,155.8 270.9,155.0 271.9,155.0 272.9,154.6 273.9,154.2 275.9,154.2 276.9,153.8 277.9,153.8 278.9,154.2 280.9,154.2 281.9,154.6 282.9,155.0 283.9,155.4 284.9,156.1 285.9,157.3 286.9,158.4 287.9,159.2 288.9,160.3 289.9,161.8 290.9,163.4 291.9,165.3 292.9,166.8 293.9,168.3 294.9,169.8 295.9,171.4 296.8,172.9 297.8,174.4 298.8,175.9 299.8,177.1 300.8,178.6 301.8,179.7 302.8,181.6 303.8,181.6 304.8,182.8 305.8,183.9 306.8,185.1 307.8,186.2 308.8,187.4 309.8,188.5 310.8,188.5 311.8,189.6 312.8,189.6 313.8,190.8 314.8,190.8 315.8,191.9 318.8,191.9 319.8,193.1 324.8,193.1 325.8,194.2 338.7,194.2 339.7,195.4 397.6,195.4" stroke="#2b9dbd"/>
<path d="M64.5,190.8 78.5,190.8 79.5,189.6 99.4,189.6 100.4,188.5 103.4,188.5 104.4,189.6 131.3,189.6 132.3,188.5 135.3,188.5 136.3,189.6 138.3,189.6 139.3,188.5 140.3,189.6 141.3,189.6 142.3,188.5 156.2,188.5 157.2,187.4 168.2,187.4 169.2,186.2 179.2,186.2 180.2,185.1 183.2,185.1 184.2,183.9 188.2,183.9 189.1,182.8 194.1,182.8 195.1,181.6 198.1,181.6 199.1,180.5 200.1,180.1 201.1,179.7 202.1,179.4 203.1,179.0 204.1,178.6 205.1,178.2 206.1,177.8 207.1,177.5 208.1,177.5 209.1,177.1 210.1,176.7 211.1,176.3 212.1,175.6 213.1,175.2 214.1,175.2 215.1,174.8 216.1,174.4 217.1,174.0 218.1,174.0 219.1,173.7 220.1,173.3 221.1,172.9 222.1,172.9 223.1,172.5 224.1,171.7 225.0,171.7 226.0,171.4 227.0,171.4 228.0,171.7 229.0,171.4 231.0,171.4 232.0,171.0 234.0,171.0 235.0,170.6 236.0,170.6 237.0,170.2 239.0,170.2 240.0,169.8 242.0,169.8 243.0,169.5 245.0,169.5 246.0,169.1 247.0,168.7 248.0,168.3 249.0,168.3 250.0,167.9 251.0,167.6 252.0,167.2 253.0,166.8 254.0,166.4 255.0,166.0 256.0,164.9 257.0,164.5 258.0,164.1 259.0,163.7 260.0,163.4 260.9,163.0 261.9,162.2 262.9,161.8 263.9,161.5 264.9,161.1 265.9,160.3 266.9,159.9 267.9,159.2 268.9,158.8 269.9,158.4 270.9,157.7 271.9,157.3 272.9,156.9 273.9,156.5 278.9,156.5 279.9,156.1 280.9,156.5 281.9,156.5 282.9,156.9 283.9,157.7 284.9,158.4 285.9,159.2 286.9,160.3 287.9,161.5 288.9,162.6 289.9,164.1 290.9,165.7 291.9,167.2 292.9,168.7 293.9,170.2 294.9,171.4 295.9,173.3 296.8,174.4 297.8,175.9 298.8,177.5 299.8,178.2 300.8,179.7 301.8,180.5 302.8,181.6 303.8,182.8 304.8,183.9 305.8,185.1 306.8,186.2 307.8,186.2 308.8,187.4 309.8,188.5 310.8,188.5 311.8,189.6 312.8,190.8 313.8,190.8 314.8,191.9 315.8,191.9 316.8,193.1 321.8,193.1 322.8,194.2 332.7,194.2 333.7,195.4 397.6,195.4" stroke="#f47d20"/>
<path d="M64.5,189.6 67.5,189.6 68.5,188.5 75.5,188.5 76.5,189.6 79.5,189.6 80.5,188.5 81.5,187.4 83.4,187.4 84.4,188.5 87.4,188.5 88.4,187.4 99.4,187.4 100.4,188.5 103.4,188.5 104.4,187.4 111.4,187.4 112.4,188.5 119.3,188.5 120.3,187.4 123.3,187.4 124.3,188.5 126.3,188.5 127.3,187.4 128.3,188.5 131.3,188.5 132.3,187.4 156.2,187.4 157.2,186.2 159.2,186.2 160.2,187.4 161.2,186.2 169.2,186.2 170.2,185.1 179.2,185.1 180.2,183.9 185.2,183.9 186.2,182.8 190.1,182.8 191.1,181.6 195.1,181.6 196.1,180.5 197.1,180.5 198.1,180.1 199.1,179.7 200.1,179.4 201.1,179.0 202.1,178.6 203.1,178.2 204.1,178.2 205.1,177.8 206.1,177.5 207.1,177.1 208.1,176.3 209.1,176.3 210.1,175.9 211.1,175.6 212.1,175.9 213.1,175.6 214.1,175.2 215.1,174.8 216.1,174.4 217.1,174.0 218.1,173.7 220.1,173.7 221.1,173.3 222.1,173.3 223.1,172.9 224.1,172.5 225.0,172.5 226.0,172.1 227.0,172.1 228.0,171.7 229.0,171.7 230.0,171.4 231.0,171.4 232.0,171.0 235.0,171.0 236.0,171.4 237.0,171.4 238.0,171.0 239.0,171.0 240.0,170.6 242.0,170.6 243.0,170.2 244.0,170.2 245.0,169.8 246.0,169.8 247.0,169.5 248.0,169.5 249.0,169.1 250.0,168.7 251.0,168.7 252.0,168.3 253.0,167.9 254.0,167.6 255.0,167.2 256.0,166.4 257.0,166.0 258.0,165.7 259.0,165.3 260.0,165.3 260.9,164.9 261.9,164.1 262.9,163.7 263.9,162.6 264.9,162.2 265.9,161.8 266.9,161.5 267.9,161.1 268.9,160.7 269.9,159.9 270.9,159.6 271.9,159.6 272.9,159.2 273.9,158.8 278.9,158.8 279.9,159.2 280.9,159.2 281.9,159.6 282.9,159.9 283.9,159.6 284.9,160.3 285.9,161.1 286.9,161.8 287.9,163.7 288.9,164.5 289.9,166.0 290.9,167.6 291.9,168.3 292.9,169.5 293.9,171.0 294.9,172.1 295.9,173.7 296.8,174.8 297.8,176.3 298.8,177.5 299.8,179.0 300.8,180.1 301.8,181.6 302.8,182.8 303.8,183.9 304.8,185.1 305.8,185.1 306.8,186.2 307.8,186.2 308.8,187.4 309.8,188.5 310.8,188.5 311.8,189.6 312.8,189.6 313.8,190.8 314.8,190.8 315.8,191.9 317.8,191.9 318.8,193.1 327.8,193.1 328.8,194.2 337.7,194.2 338.7,195.4 339.7,194.2 340.7,195.4 397.6,195.4" stroke="#2f7fc0"/>
<path d="M64.5,188.5 71.5,188.5 72.5,189.6 75.5,189.6 76.5,188.5 119.3,188.5 120.3,189.6 123.3,189.6 124.3,188.5 143.3,188.5 144.3,189.6 146.3,189.6 147.3,188.5 155.2,188.5 156.2,187.4 162.2,187.4 163.2,186.2 164.2,187.4 168.2,187.4 169.2,186.2 178.2,186.2 179.2,185.1 184.2,185.1 185.2,183.9 191.1,183.9 192.1,182.8 194.1,182.8 195.1,181.6 196.1,182.8 197.1,181.6 199.1,181.6 200.1,180.5 201.1,180.5 202.1,180.1 203.1,179.7 204.1,179.4 205.1,179.0 206.1,178.6 207.1,178.6 208.1,178.2 209.1,177.8 210.1,177.5 212.1,177.5 213.1,177.1 214.1,176.7 215.1,176.3 216.1,175.9 217.1,175.9 218.1,175.6 219.1,175.2 220.1,175.2 221.1,174.8 222.1,174.8 223.1,174.4 224.1,174.0 225.0,174.0 226.0,173.7 227.0,173.7 228.0,173.3 229.0,173.3 230.0,172.9 231.0,172.9 232.0,173.3 235.0,173.3 236.0,172.9 237.0,172.5 240.0,172.5 241.0,172.1 242.0,172.1 243.0,171.7 245.0,171.7 246.0,171.4 247.0,171.0 248.0,171.0 249.0,170.6 250.0,170.6 251.0,170.2 252.0,169.5 253.0,169.1 254.0,168.7 255.0,168.3 256.0,168.3 257.0,167.9 258.0,167.6 259.0,167.2 260.0,166.8 260.9,166.0 261.9,165.7 262.9,165.3 263.9,164.9 264.9,164.5 265.9,163.7 266.9,163.4 267.9,162.6 268.9,162.2 269.9,161.8 270.9,161.5 271.9,161.8 272.9,161.8 273.9,161.5 274.9,161.5 275.9,160.7 278.9,160.7 279.9,161.1 280.9,161.5 281.9,161.5 282.9,161.8 283.9,162.2 284.9,163.0 285.9,163.7 286.9,164.5 287.9,165.7 288.9,166.4 289.9,167.9 290.9,169.1 291.9,170.6 292.9,172.1 293.9,173.3 294.9,174.4 295.9,175.2 296.8,176.3 297.8,177.8 298.8,179.0 299.8,180.1 300.8,181.6 301.8,182.8 302.8,183.9 303.8,183.9 304.8,185.1 305.8,186.2 306.8,186.2 307.8,188.5 308.8,188.5 309.8,189.6 311.8,189.6 312.8,190.8 314.8,190.8 315.8,191.9 317.8,191.9 318.8,193.1 322.8,193.1 323.8,194.2 333.7,194.2 334.7,195.4 397.6,195.4" stroke="#6aae3f"/>
<path d="M64.5,189.6 99.4,189.6 100.4,188.5 103.4,188.5 104.4,189.6 131.3,189.6 132.3,188.5 135.3,188.5 136.3,189.6 143.3,189.6 144.3,188.5 147.3,188.5 148.3,189.6 149.3,188.5 163.2,188.5 164.2,187.4 175.2,187.4 176.2,186.2 180.2,186.2 181.2,185.1 189.1,185.1 190.1,183.9 195.1,183.9 196.1,182.8 199.1,182.8 200.1,181.6 203.1,181.6 204.1,180.5 205.1,180.5 206.1,180.1 207.1,180.1 208.1,179.4 209.1,179.0 210.1,178.6 212.1,178.6 213.1,178.2 214.1,178.2 215.1,177.8 216.1,177.1 217.1,177.1 218.1,176.7 219.1,176.3 220.1,176.7 221.1,176.3 222.1,176.3 223.1,175.9 224.1,175.6 225.0,175.6 226.0,175.2 227.0,175.2 228.0,174.8 234.0,174.8 235.0,174.4 239.0,174.4 240.0,173.7 241.0,173.3 243.0,173.3 244.0,173.7 245.0,173.7 246.0,173.3 247.0,173.3 248.0,172.9 249.0,172.5 250.0,172.5 251.0,172.1 252.0,171.7 253.0,171.4 254.0,171.0 255.0,170.6 256.0,169.8 257.0,169.5 258.0,169.1 259.0,168.7 260.0,168.3 260.9,167.6 261.9,167.2 262.9,166.8 263.9,166.8 264.9,166.4 265.9,166.0 266.9,165.7 267.9,165.3 268.9,164.9 269.9,164.5 270.9,164.1 271.9,163.7 272.9,163.4 274.9,163.4 275.9,163.0 276.9,162.6 277.9,162.6 278.9,163.0 279.9,163.4 280.9,163.4 281.9,163.7 282.9,164.1 283.9,163.7 284.9,164.5 285.9,165.3 286.9,166.0 287.9,166.8 288.9,167.9 289.9,169.1 290.9,170.2 291.9,171.7 292.9,173.3 293.9,174.0 294.9,175.2 295.9,176.3 296.8,177.5 297.8,178.6 298.8,179.7 299.8,180.5 300.8,181.6 301.8,182.8 302.8,183.9 303.8,185.1 304.8,185.1 305.8,186.2 306.8,187.4 307.8,188.5 308.8,189.6 309.8,189.6 310.8,190.8 313.8,190.8 314.8,191.9 315.8,191.9 316.8,193.1 320.8,193.1 321.8,194.2 331.7,194.2 332.7,195.4 397.6,195.4" stroke="#2fb4d6"/>
<path d="M64.5,189.6 73.5,189.6 74.5,188.5 75.5,188.5 76.5,187.4 87.4,187.4 88.4,188.5 99.4,188.5 100.4,187.4 103.4,187.4 104.4,188.5 111.4,188.5 112.4,187.4 119.3,187.4 120.3,188.5 123.3,188.5 124.3,187.4 131.3,187.4 132.3,188.5 135.3,188.5 136.3,187.4 139.3,187.4 140.3,188.5 143.3,188.5 144.3,187.4 163.2,187.4 164.2,186.2 177.2,186.2 178.2,185.1 179.2,185.1 180.2,186.2 183.2,186.2 184.2,185.1 185.2,185.1 186.2,183.9 187.2,183.9 188.2,185.1 189.1,183.9 192.1,183.9 193.1,182.8 196.1,182.8 197.1,181.6 201.1,181.6 202.1,180.5 204.1,180.5 205.1,180.1 206.1,180.1 207.1,179.7 208.1,179.4 209.1,179.0 210.1,179.0 211.1,178.6 212.1,178.6 213.1,178.2 214.1,177.8 215.1,177.8 216.1,177.5 217.1,177.1 218.1,177.1 219.1,176.7 220.1,176.7 221.1,176.3 223.1,176.3 224.1,175.9 226.0,175.9 227.0,175.6 228.0,175.2 229.0,175.2 230.0,174.8 231.0,174.8 232.0,175.2 233.0,175.2 234.0,174.8 235.0,174.8 236.0,174.4 242.0,174.4 243.0,174.0 245.0,174.0 246.0,173.7 247.0,173.7 248.0,173.3 249.0,173.3 250.0,172.9 251.0,172.5 252.0,172.1 253.0,172.1 254.0,171.7 255.0,171.4 256.0,171.0 257.0,170.6 258.0,170.2 259.0,169.8 260.0,169.8 260.9,169.5 261.9,169.1 262.9,168.7 263.9,168.3 264.9,167.9 265.9,167.6 266.9,167.6 267.9,167.2 268.9,166.8 269.9,166.4 270.9,166.0 271.9,165.3 272.9,164.9 274.9,164.9 275.9,165.3 279.9,165.3 280.9,165.7 281.9,165.7 282.9,166.0 283.9,166.0 284.9,166.4 285.9,167.2 286.9,167.9 287.9,168.7 288.9,169.5 289.9,170.6 290.9,171.7 291.9,172.9 292.9,174.0 293.9,175.2 294.9,176.3 295.9,177.5 296.8,178.6 297.8,179.4 298.8,180.5 299.8,180.5 300.8,181.6 301.8,182.8 302.8,183.9 303.8,185.1 304.8,186.2 305.8,186.2 306.8,187.4 307.8,187.4 308.8,188.5 309.8,188.5 310.8,189.6 311.8,190.8 313.8,190.8 314.8,191.9 316.8,191.9 317.8,193.1 326.8,193.1 327.8,194.2 335.7,194.2 336.7,195.4 397.6,195.4" stroke="#f68c3a"/>
<path d="M64.5,188.5 83.4,188.5 84.4,187.4 87.4,187.4 88.4,188.5 143.3,188.5 144.3,187.4 147.3,187.4 148.3,188.5 149.3,188.5 150.3,187.4 165.2,187.4 166.2,186.2 167.2,186.2 168.2,187.4 171.2,187.4 172.2,186.2 183.2,186.2 184.2,185.1 190.1,185.1 191.1,183.9 197.1,183.9 198.1,182.8 200.1,182.8 201.1,181.6 205.1,181.6 206.1,180.5 208.1,180.5 209.1,180.1 210.1,180.1 211.1,179.7 213.1,179.7 214.1,179.4 215.1,179.0 216.1,178.6 217.1,178.6 218.1,178.2 221.1,178.2 222.1,177.8 223.1,177.8 224.1,177.5 225.0,177.5 226.0,177.1 227.0,177.1 228.0,176.7 237.0,176.7 238.0,176.3 243.0,176.3 244.0,175.9 245.0,175.6 246.0,175.6 247.0,175.2 248.0,175.2 249.0,174.8 250.0,174.8 251.0,174.4 252.0,174.4 253.0,174.0 254.0,174.0 255.0,173.7 256.0,173.7 257.0,173.3 258.0,172.9 259.0,172.5 260.0,172.1 260.9,171.7 261.9,171.4 262.9,171.0 263.9,170.2 264.9,169.8 265.9,169.5 266.9,169.1 267.9,169.5 268.9,169.1 269.9,169.1 270.9,168.7 271.9,168.3 272.9,167.9 278.9,167.9 279.9,168.7 280.9,168.7 281.9,169.1 283.9,169.1 284.9,169.5 285.9,169.8 286.9,170.6 287.9,171.4 288.9,172.1 289.9,173.3 290.9,174.4 291.9,174.8 292.9,175.9 293.9,176.7 294.9,177.8 295.9,179.0 296.8,179.7 297.8,180.5 298.8,181.6 299.8,182.8 300.8,183.9 301.8,185.1 302.8,185.1 303.8,186.2 304.8,186.2 305.8,187.4 306.8,188.5 307.8,188.5 308.8,189.6 310.8,189.6 311.8,190.8 312.8,190.8 313.8,191.9 316.8,191.9 317.8,193.1 321.8,193.1 322.8,194.2 323.8,193.1 324.8,194.2 338.7,194.2 339.7,195.4 397.6,195.4" stroke="#2fb4d6"/>
</g>
<g stroke="#7c7c7c" stroke-width="1" fill="none">
<path d="M72.30,267.20 V460.70"/>
<path d="M68.50,457.50 H403.35"/>
<path d="M68.50,433.77 H72.30"/>
<path d="M68.50,410.05 H72.30"/>
<path d="M68.50,386.32 H72.30"/>
<path d="M68.50,362.60 H72.30"/>
<path d="M68.50,338.88 H72.30"/>
<path d="M68.50,315.15 H72.30"/>
<path d="M68.50,291.42 H72.30"/>
<path d="M68.50,267.70 H72.30"/>
<path d="M119.52,457.50 V460.70"/>
<path d="M166.74,457.50 V460.70"/>
<path d="M213.96,457.50 V460.70"/>
<path d="M261.19,457.50 V460.70"/>
<path d="M308.41,457.50 V460.70"/>
<path d="M355.63,457.50 V460.70"/>
<path d="M402.85,457.50 V460.70"/>
</g>
<g font-family='"Liberation Serif", "DejaVu Serif", serif' font-size="11.4" fill="#000" stroke="#000" stroke-width="0.06">
<text transform="translate(60.85,460.95) scale(0.945,1)" text-anchor="end">0</text>
<text transform="translate(60.85,437.22) scale(0.945,1)" text-anchor="end">0.02</text>
<text transform="translate(60.85,413.50) scale(0.945,1)" text-anchor="end">0.04</text>
<text transform="translate(60.85,389.77) scale(0.945,1)" text-anchor="end">0.06</text>
<text transform="translate(60.85,366.05) scale(0.945,1)" text-anchor="end">0.08</text>
<text transform="translate(60.85,342.32) scale(0.945,1)" text-anchor="end">0.1</text>
<text transform="translate(60.85,318.60) scale(0.945,1)" text-anchor="end">0.12</text>
<text transform="translate(60.85,294.87) scale(0.945,1)" text-anchor="end">0.14</text>
<text transform="translate(60.85,271.15) scale(0.945,1)" text-anchor="end">0.16</text>
<text transform="translate(72.15,477.00) scale(0.970,1)" text-anchor="middle">450</text>
<text transform="translate(119.37,477.00) scale(0.970,1)" text-anchor="middle">500</text>
<text transform="translate(166.59,477.00) scale(0.970,1)" text-anchor="middle">550</text>
<text transform="translate(213.81,477.00) scale(0.970,1)" text-anchor="middle">600</text>
<text transform="translate(261.04,477.00) scale(0.970,1)" text-anchor="middle">650</text>
<text transform="translate(308.26,477.00) scale(0.970,1)" text-anchor="middle">700</text>
<text transform="translate(355.48,477.00) scale(0.970,1)" text-anchor="middle">750</text>
<text transform="translate(402.70,477.00) scale(0.970,1)" text-anchor="middle">800</text>
<text transform="translate(221.20,494.60) scale(1.120,1)" font-size="10.7" font-weight="bold">λ [nm]</text>
<text transform="translate(31.90,373.30) rotate(-90) scale(0.890,1)" text-anchor="middle" font-size="12.6" font-weight="bold">Absorbance</text>
</g>
<g fill="none" stroke-width="1.9" stroke-linejoin="round" stroke-linecap="round">
<path d="M72.5,313.3 73.4,313.7 74.4,314.5 75.3,314.9 76.3,314.5 77.2,314.9 78.2,315.3 79.1,315.7 80.1,315.7 81.0,316.1 81.9,316.1 82.9,316.5 83.8,316.9 85.7,316.9 86.7,317.3 87.6,316.9 91.4,316.9 92.3,316.5 93.3,316.5 94.2,316.1 95.2,316.9 96.1,316.5 97.0,316.1 98.0,316.1 98.9,314.9 99.9,314.9 100.8,314.5 101.8,314.1 102.7,314.1 103.7,313.7 104.6,313.3 105.5,312.9 106.5,312.5 107.4,312.1 108.4,311.4 109.3,311.0 110.3,310.6 111.2,309.8 112.1,309.0 113.1,308.6 114.0,308.2 115.0,307.4 115.9,306.6 116.9,305.8 117.8,304.6 118.8,303.8 119.7,303.1 120.6,301.9 121.6,301.1 122.5,300.3 123.5,299.5 124.4,298.3 125.4,297.5 126.3,296.7 127.3,295.9 128.2,295.2 129.1,294.0 130.1,293.2 131.0,292.4 132.0,291.6 132.9,291.6 133.9,290.8 134.8,290.4 135.7,289.6 136.7,289.2 137.6,288.8 138.6,288.4 139.5,288.0 140.5,287.6 141.4,287.6 142.4,288.0 143.3,288.4 144.2,288.8 145.2,289.6 146.1,290.0 147.1,290.4 148.0,290.8 149.0,291.6 149.9,292.4 150.9,293.2 151.8,294.4 152.7,295.6 153.7,296.3 154.6,297.1 155.6,297.5 156.5,298.3 157.5,299.1 158.4,299.9 159.3,300.7 160.3,301.5 161.2,302.3 162.2,303.1 163.1,303.4 164.1,304.2 165.0,305.0 166.0,306.2 166.9,307.0 167.8,307.8 168.8,309.0 169.7,310.2 170.7,311.0 171.6,312.1 172.6,313.7 173.5,315.3 174.5,316.5 175.4,317.7 176.3,318.9 177.3,319.6 178.2,320.4 179.2,321.6 180.1,322.4 181.1,323.2 182.0,323.6 182.9,324.4 183.9,324.8 184.8,325.2 185.8,325.6 186.7,326.0 187.7,326.4 188.6,326.8 189.6,327.1 190.5,327.1 191.4,327.5 192.4,327.1 193.3,326.8 194.3,326.4 195.2,326.0 196.2,326.0 197.1,325.6 198.1,325.2 199.0,325.2 199.9,324.8 200.9,324.4 201.8,324.0 202.8,323.2 203.7,322.8 204.7,322.4 205.6,321.6 206.5,321.2 207.5,320.4 208.4,319.6 209.4,319.2 210.3,318.5 211.3,318.1 212.2,317.3 213.2,316.5 214.1,315.7 215.0,314.9 216.0,314.5 216.9,313.7 217.9,313.3 218.8,312.9 219.8,312.5 220.7,312.1 221.7,311.7 222.6,311.4 223.5,311.0 226.4,311.0 227.3,311.4 229.2,311.4 230.1,311.7 231.1,311.4 232.0,311.7 233.9,311.7 234.9,312.5 235.8,312.9 236.8,312.9 237.7,313.3 238.6,314.1 239.6,314.1 240.5,314.5 241.5,314.5 242.4,313.7 243.4,313.3 244.3,313.3 245.3,312.9 246.2,312.5 247.1,312.1 248.1,311.4 249.0,311.0 250.0,310.2 250.9,309.4 251.9,308.2 252.8,307.0 253.7,305.4 254.7,304.2 255.6,303.1 256.6,301.9 257.5,301.1 258.5,299.5 259.4,298.3 260.4,296.7 261.3,294.8 262.2,293.2 263.2,291.6 264.1,290.0 265.1,288.8 266.0,286.9 267.0,285.3 267.9,284.1 268.9,283.3 269.8,282.1 270.7,280.9 271.7,279.8 272.6,278.2 273.6,277.8 274.5,277.4 275.5,277.8 276.4,278.6 277.3,279.4 278.3,280.5 279.2,280.9 280.2,281.7 281.1,284.5 282.1,287.6 283.0,291.2 284.0,295.6 284.9,299.9 285.8,304.6 286.8,310.2 287.7,316.9 288.7,323.6 289.6,329.9 290.6,335.8 291.5,341.0 292.5,346.1 293.4,351.6 294.3,356.8 295.3,361.9 296.2,366.3 297.2,371.0 298.1,374.9 299.1,379.3 300.0,383.2 300.9,387.2 301.9,390.7 302.8,394.7 303.8,397.9 304.7,400.6 305.7,403.4 306.6,405.4 307.6,407.3 308.5,409.7 309.4,411.7 310.4,413.3 311.3,414.8 312.3,416.8 313.2,418.4 314.2,421.2 315.1,422.7 316.1,423.9 317.0,425.1 317.9,425.5 318.9,426.7 319.8,427.5 320.8,428.7 321.7,429.9 322.7,431.0 323.6,431.8 324.5,432.6 325.5,432.2 326.4,433.0 327.4,433.8 328.3,434.2 329.3,435.4 330.2,436.2 331.2,436.6 332.1,437.4 333.0,438.1 334.0,438.5 334.9,438.9 335.9,439.7 336.8,439.7 337.8,440.1 338.7,440.9 339.7,440.9 340.6,442.1 341.5,442.1 342.5,443.3 344.4,443.3 345.3,444.5 348.1,444.5 349.1,445.6 351.0,445.6 351.9,446.8 353.8,446.8 354.8,448.0 356.6,448.0 357.6,449.2 358.5,449.2 359.5,448.0 361.4,448.0 362.3,449.2 363.3,449.2 364.2,450.4 368.0,450.4 368.9,451.6 373.6,451.6 374.6,452.8 377.4,452.8 378.4,453.9 382.1,453.9 383.1,455.1 385.9,455.1 386.9,456.3 388.7,456.3" stroke="#1c5f94"/>
<path d="M72.5,312.9 73.4,313.7 74.4,314.1 75.3,314.5 76.3,314.5 77.2,314.9 78.2,315.3 79.1,315.7 80.1,316.1 81.0,316.1 81.9,316.5 82.9,316.5 83.8,317.3 85.7,317.3 86.7,317.7 87.6,317.3 90.4,317.3 91.4,317.7 92.3,317.3 93.3,317.3 94.2,316.9 95.2,316.1 96.1,316.1 97.0,315.7 98.0,315.3 98.9,315.3 99.9,314.9 100.8,314.5 101.8,314.5 102.7,314.1 103.7,313.7 104.6,313.3 105.5,312.9 106.5,312.9 107.4,312.5 108.4,312.1 109.3,311.7 110.3,310.6 111.2,310.2 112.1,309.4 113.1,308.6 114.0,308.2 115.0,307.4 115.9,306.6 116.9,305.8 117.8,304.2 118.8,303.4 119.7,302.7 120.6,301.5 121.6,301.1 122.5,299.9 123.5,299.1 124.4,298.3 125.4,297.5 126.3,296.7 127.3,295.9 128.2,295.2 129.1,293.6 130.1,292.8 131.0,292.0 132.0,291.2 132.9,290.8 133.9,290.4 134.8,289.6 135.7,289.2 136.7,288.8 137.6,288.4 138.6,288.0 139.5,288.0 140.5,287.6 141.4,287.6 142.4,288.0 143.3,288.4 144.2,289.2 145.2,289.6 146.1,290.0 147.1,290.4 148.0,291.2 149.0,291.6 149.9,292.4 150.9,293.2 151.8,294.0 152.7,294.8 153.7,295.6 154.6,296.3 155.6,297.5 156.5,298.3 157.5,299.1 158.4,299.9 159.3,300.7 160.3,301.5 161.2,302.3 162.2,303.1 163.1,303.8 164.1,304.6 165.0,305.4 166.0,306.2 166.9,306.6 167.8,307.4 168.8,308.6 169.7,309.4 170.7,311.0 171.6,312.1 172.6,313.7 173.5,314.9 174.5,316.9 175.4,318.1 176.3,318.9 177.3,320.0 178.2,320.4 179.2,321.2 180.1,322.0 181.1,322.8 182.0,324.0 182.9,324.4 183.9,325.2 184.8,325.6 185.8,326.0 186.7,326.4 187.7,326.8 188.6,326.8 189.6,327.1 193.3,327.1 194.3,326.8 195.2,326.8 196.2,326.4 197.1,325.2 198.1,325.2 199.0,324.8 199.9,324.4 200.9,324.4 201.8,324.0 202.8,323.6 203.7,323.2 204.7,322.8 205.6,322.4 206.5,321.6 207.5,321.2 208.4,319.6 209.4,319.2 210.3,318.9 211.3,318.1 212.2,318.1 213.2,317.3 214.1,316.5 215.0,315.7 216.0,315.3 216.9,314.5 217.9,314.1 218.8,313.7 219.8,314.1 220.7,313.7 221.7,313.3 222.6,312.9 223.5,311.4 227.3,311.4 228.3,311.7 230.1,311.7 231.1,312.1 232.0,312.1 233.0,312.5 234.9,312.5 235.8,312.9 236.8,313.3 238.6,313.3 239.6,313.7 240.5,313.7 241.5,314.1 242.4,314.5 243.4,314.5 244.3,314.1 245.3,313.7 246.2,312.9 247.1,312.1 248.1,311.7 249.0,311.0 250.0,310.6 250.9,309.8 251.9,308.6 252.8,307.4 253.7,306.2 254.7,305.0 255.6,304.2 256.6,303.1 257.5,301.5 258.5,300.3 259.4,299.1 260.4,297.9 261.3,297.1 262.2,295.9 263.2,295.2 264.1,294.0 265.1,293.2 266.0,292.0 267.0,290.8 267.9,290.0 268.9,288.8 269.8,288.0 270.7,287.6 271.7,286.9 272.6,286.5 273.6,286.1 274.5,285.7 275.5,286.1 276.4,286.5 277.3,287.3 278.3,288.0 279.2,288.0 280.2,288.8 281.1,290.8 282.1,293.2 283.0,296.3 284.0,299.9 284.9,303.1 285.8,307.4 286.8,312.9 287.7,319.2 288.7,325.2 289.6,331.5 290.6,337.4 291.5,342.6 292.5,347.7 293.4,352.8 294.3,358.0 295.3,361.9 296.2,366.6 297.2,370.6 298.1,374.9 299.1,380.1 300.0,384.0 300.9,388.0 301.9,391.5 302.8,394.3 303.8,397.5 304.7,400.2 305.7,403.0 306.6,405.4 307.6,407.7 308.5,409.7 309.4,411.7 310.4,413.7 311.3,415.6 312.3,417.2 313.2,418.8 314.2,421.2 315.1,422.7 316.1,423.9 317.0,425.1 317.9,426.3 318.9,427.1 319.8,428.3 320.8,429.1 321.7,429.9 322.7,430.6 323.6,431.4 324.5,432.2 325.5,433.0 326.4,433.4 327.4,434.2 328.3,435.0 329.3,435.8 330.2,436.6 331.2,437.0 332.1,437.8 333.0,438.5 334.0,438.9 334.9,439.3 335.9,440.1 336.8,439.7 337.8,440.5 338.7,440.9 339.7,440.9 340.6,442.1 342.5,442.1 343.4,443.3 344.4,443.3 345.3,444.5 347.2,444.5 348.1,445.6 350.0,445.6 351.0,446.8 354.8,446.8 355.7,448.0 359.5,448.0 360.4,449.2 362.3,449.2 363.3,450.4 368.9,450.4 369.9,451.6 373.6,451.6 374.6,452.8 379.3,452.8 380.2,453.9 383.1,453.9 384.0,455.1 386.9,455.1 387.8,456.3 388.7,456.3" stroke="#c8282d"/>
<path d="M72.5,312.9 73.4,313.7 74.4,314.1 75.3,314.5 76.3,314.9 77.2,315.3 78.2,315.3 79.1,315.7 80.1,316.1 81.0,316.5 83.8,316.5 84.8,316.9 86.7,316.9 87.6,317.7 93.3,317.7 94.2,317.3 95.2,316.5 96.1,316.1 97.0,316.1 98.0,315.7 98.9,315.3 99.9,314.9 100.8,314.5 101.8,314.5 102.7,313.7 103.7,313.3 104.6,312.9 105.5,312.5 106.5,312.5 107.4,312.1 108.4,311.4 109.3,311.0 110.3,311.0 111.2,310.6 112.1,309.8 113.1,309.0 114.0,307.8 115.0,307.0 115.9,306.2 116.9,305.4 117.8,305.0 118.8,303.8 119.7,303.1 120.6,302.3 121.6,301.5 122.5,300.3 123.5,299.5 124.4,298.7 125.4,296.7 126.3,295.9 127.3,295.2 128.2,294.4 129.1,294.0 130.1,293.2 131.0,292.4 132.0,291.6 132.9,290.8 133.9,290.4 134.8,289.6 135.7,289.2 136.7,288.8 137.6,288.4 138.6,288.0 139.5,287.6 140.5,287.3 141.4,287.6 142.4,287.6 143.3,288.0 144.2,288.8 145.2,289.6 146.1,290.0 147.1,290.4 148.0,290.8 149.0,291.2 149.9,292.0 150.9,292.8 151.8,294.4 152.7,295.2 153.7,295.9 154.6,296.7 155.6,297.9 156.5,298.7 157.5,299.5 158.4,300.3 159.3,300.3 160.3,301.1 161.2,301.9 162.2,302.7 163.1,303.4 164.1,304.2 165.0,305.0 166.0,305.8 166.9,307.0 167.8,307.8 168.8,309.0 169.7,310.2 170.7,311.4 171.6,312.9 172.6,314.1 173.5,315.7 174.5,316.9 175.4,318.1 176.3,319.2 177.3,320.0 178.2,321.2 179.2,322.0 180.1,323.2 181.1,323.6 182.0,324.0 182.9,324.4 183.9,324.8 184.8,325.6 185.8,326.0 186.7,326.8 187.7,327.1 188.6,327.1 189.6,327.5 193.3,327.5 194.3,327.1 195.2,327.1 196.2,326.8 197.1,326.4 198.1,326.0 199.0,325.6 199.9,325.2 200.9,325.2 201.8,324.8 202.8,324.0 203.7,323.6 204.7,323.2 205.6,322.4 206.5,322.0 207.5,321.2 208.4,321.2 209.4,320.8 210.3,320.4 211.3,319.6 212.2,318.5 213.2,318.1 214.1,317.3 215.0,316.5 216.0,315.3 216.9,314.9 217.9,314.5 218.8,314.1 219.8,314.5 220.7,314.1 221.7,313.7 222.6,313.3 223.5,312.9 226.4,312.9 227.3,312.5 228.3,312.9 230.1,312.9 231.1,313.3 233.0,313.3 233.9,313.7 234.9,314.1 235.8,314.1 236.8,314.5 237.7,314.5 238.6,315.7 239.6,315.7 240.5,316.1 241.5,316.1 242.4,315.3 243.4,315.3 244.3,314.9 245.3,314.5 246.2,314.5 247.1,314.1 248.1,313.7 249.0,312.9 250.0,312.1 250.9,311.0 251.9,310.2 252.8,309.0 253.7,307.4 254.7,306.2 255.6,305.4 256.6,304.2 257.5,303.4 258.5,302.3 259.4,301.1 260.4,300.3 261.3,298.7 262.2,297.9 263.2,296.7 264.1,295.6 265.1,293.6 266.0,292.8 267.0,291.6 267.9,290.8 268.9,290.8 269.8,290.0 270.7,289.6 271.7,288.8 272.6,288.4 273.6,288.0 275.5,288.0 276.4,289.2 277.3,289.6 278.3,290.4 279.2,290.8 280.2,292.0 281.1,294.0 282.1,296.3 283.0,299.5 284.0,302.7 284.9,306.2 285.8,310.2 286.8,315.7 287.7,321.2 288.7,327.1 289.6,333.5 290.6,339.0 291.5,344.5 292.5,349.7 293.4,354.8 294.3,359.5 295.3,364.3 296.2,368.6 297.2,373.0 298.1,376.9 299.1,380.9 300.0,384.8 300.9,388.4 301.9,391.9 302.8,395.5 303.8,398.6 304.7,401.4 305.7,404.2 306.6,406.5 307.6,408.9 308.5,410.9 309.4,412.9 310.4,414.8 311.3,416.4 312.3,418.4 313.2,420.0 314.2,420.8 315.1,422.3 316.1,423.9 317.0,425.1 317.9,426.3 318.9,427.5 319.8,428.3 320.8,429.5 321.7,429.9 322.7,430.6 323.6,431.4 324.5,432.2 325.5,433.0 326.4,433.8 327.4,434.2 328.3,435.0 329.3,436.2 330.2,436.6 331.2,437.4 332.1,437.8 333.0,438.1 334.0,438.5 334.9,438.9 335.9,439.7 336.8,440.5 337.8,440.9 338.7,442.1 339.7,442.1 340.6,440.9 341.5,442.1 342.5,442.1 343.4,443.3 345.3,443.3 346.3,444.5 347.2,444.5 348.1,445.6 350.0,445.6 351.0,446.8 352.9,446.8 353.8,448.0 358.5,448.0 359.5,449.2 361.4,449.2 362.3,450.4 369.9,450.4 370.8,451.6 373.6,451.6 374.6,452.8 379.3,452.8 380.2,453.9 382.1,453.9 383.1,455.1 386.9,455.1 387.8,456.3 388.7,456.3" stroke="#5a9e2f"/>
<path d="M72.5,312.9 73.4,313.3 74.4,314.1 75.3,314.5 76.3,315.3 77.2,315.7 78.2,316.1 79.1,316.5 80.1,315.7 81.0,316.1 82.9,316.1 83.8,317.3 85.7,317.3 86.7,317.7 87.6,316.9 90.4,316.9 91.4,317.7 92.3,317.7 93.3,317.3 94.2,317.3 95.2,316.5 96.1,316.1 97.0,315.7 99.9,315.7 100.8,315.3 101.8,314.9 102.7,314.5 103.7,314.1 104.6,313.7 105.5,313.3 106.5,312.5 107.4,312.1 108.4,311.7 109.3,311.4 110.3,310.6 111.2,310.2 112.1,309.4 113.1,308.6 114.0,308.6 115.0,307.8 115.9,306.6 116.9,305.8 117.8,304.2 118.8,303.4 119.7,302.3 120.6,301.5 121.6,301.1 122.5,300.3 123.5,299.5 124.4,298.7 125.4,297.5 126.3,296.7 127.3,295.9 128.2,294.8 129.1,294.0 130.1,293.2 131.0,292.4 132.0,291.6 132.9,290.8 133.9,290.4 134.8,289.6 135.7,289.2 136.7,289.6 137.6,288.8 138.6,288.8 139.5,288.4 140.5,287.6 141.4,287.6 142.4,288.0 143.3,288.0 144.2,288.8 145.2,289.2 146.1,290.0 147.1,290.4 148.0,291.2 149.0,292.0 149.9,292.4 150.9,293.6 151.8,294.4 152.7,295.2 153.7,296.3 154.6,297.1 155.6,297.9 156.5,298.7 157.5,299.5 158.4,300.3 159.3,301.1 160.3,301.9 161.2,302.7 162.2,303.4 163.1,303.8 164.1,304.6 165.0,305.4 166.0,306.2 166.9,307.4 167.8,308.2 168.8,309.4 169.7,310.6 170.7,312.1 171.6,313.3 172.6,314.9 173.5,316.5 174.5,317.3 175.4,318.5 176.3,319.6 177.3,320.4 178.2,320.8 179.2,322.0 180.1,322.8 181.1,323.6 182.0,324.8 182.9,325.6 183.9,326.0 184.8,326.4 185.8,326.8 186.7,327.5 187.7,327.9 194.3,327.9 195.2,327.5 196.2,327.1 197.1,327.1 198.1,326.8 199.0,326.8 199.9,326.4 200.9,326.0 201.8,325.6 202.8,325.2 203.7,324.8 204.7,324.4 205.6,324.0 206.5,323.6 207.5,322.8 208.4,322.4 209.4,321.6 210.3,321.2 211.3,320.4 212.2,319.6 213.2,319.2 214.1,318.5 215.0,318.1 216.0,317.3 216.9,316.5 217.9,316.1 218.8,315.7 219.8,315.3 220.7,314.9 221.7,314.5 222.6,314.1 223.5,313.7 226.4,313.7 227.3,314.1 229.2,314.1 230.1,314.5 231.1,314.5 232.0,314.9 233.9,314.9 234.9,315.7 235.8,315.7 236.8,316.1 237.7,316.5 238.6,316.9 239.6,316.9 240.5,317.3 241.5,317.3 242.4,316.9 243.4,316.9 244.3,316.5 245.3,316.1 246.2,315.7 247.1,315.3 248.1,314.5 249.0,314.1 250.0,313.3 250.9,312.1 251.9,311.4 252.8,310.2 253.7,309.0 254.7,308.2 255.6,307.0 256.6,306.2 257.5,305.4 258.5,304.2 259.4,303.1 260.4,302.3 261.3,301.1 262.2,299.9 263.2,299.1 264.1,297.9 265.1,296.7 266.0,295.6 267.0,294.8 267.9,294.0 268.9,293.2 269.8,292.4 270.7,292.0 271.7,291.2 272.6,291.2 273.6,290.8 274.5,290.8 275.5,291.2 276.4,291.2 277.3,292.0 278.3,292.8 279.2,292.8 280.2,294.4 281.1,296.3 282.1,299.1 283.0,301.9 284.0,305.4 284.9,308.6 285.8,312.9 286.8,318.1 287.7,323.2 288.7,329.1 289.6,335.4 290.6,341.0 291.5,345.3 292.5,350.5 293.4,355.6 294.3,360.3 295.3,365.5 296.2,369.8 297.2,374.2 298.1,378.1 299.1,381.7 300.0,385.2 300.9,389.2 301.9,392.3 302.8,395.5 303.8,398.6 304.7,401.4 305.7,403.8 306.6,406.1 307.6,408.5 308.5,410.5 309.4,412.5 310.4,415.2 311.3,416.8 312.3,418.4 313.2,420.0 314.2,420.8 315.1,422.3 316.1,423.5 317.0,425.1 317.9,426.7 318.9,427.5 319.8,428.7 320.8,429.5 321.7,430.6 322.7,431.4 323.6,432.2 324.5,433.0 325.5,433.8 326.4,434.2 327.4,435.0 328.3,435.8 329.3,435.8 330.2,436.6 331.2,437.0 332.1,437.8 333.0,438.5 334.0,438.9 334.9,439.3 335.9,440.1 336.8,440.5 337.8,440.9 338.7,440.9 339.7,442.1 341.5,442.1 342.5,443.3 343.4,443.3 344.4,444.5 346.3,444.5 347.2,445.6 349.1,445.6 350.0,446.8 354.8,446.8 355.7,448.0 359.5,448.0 360.4,449.2 362.3,449.2 363.3,450.4 369.9,450.4 370.8,451.6 376.5,451.6 377.4,452.8 378.4,453.9 383.1,453.9 384.0,455.1 386.9,455.1 387.8,456.3 388.7,456.3" stroke="#7a4aa3"/>
<path d="M72.5,312.9 73.4,313.3 74.4,313.7 75.3,314.1 76.3,315.3 77.2,315.7 78.2,316.1 79.1,316.1 80.1,316.5 81.0,316.9 81.9,316.9 82.9,317.3 83.8,316.9 85.7,316.9 86.7,317.3 91.4,317.3 92.3,316.9 93.3,316.9 94.2,316.5 95.2,316.9 96.1,316.5 97.0,316.5 98.0,316.1 98.9,315.7 99.9,315.3 100.8,314.9 101.8,314.5 102.7,314.1 103.7,313.7 104.6,313.3 105.5,312.9 106.5,312.9 107.4,312.5 108.4,312.1 109.3,311.4 110.3,311.0 111.2,310.6 112.1,309.8 113.1,309.0 114.0,307.8 115.0,307.0 115.9,306.2 116.9,305.4 117.8,304.2 118.8,303.4 119.7,302.3 120.6,301.5 121.6,301.5 122.5,300.3 123.5,299.5 124.4,298.7 125.4,298.3 126.3,297.5 127.3,296.7 128.2,295.9 129.1,294.8 130.1,293.6 131.0,292.8 132.0,292.4 132.9,291.6 133.9,290.8 134.8,290.4 135.7,289.6 136.7,288.8 137.6,288.4 138.6,288.0 139.5,288.0 140.5,287.6 141.4,288.0 142.4,288.0 143.3,288.4 144.2,289.2 145.2,289.6 146.1,290.0 147.1,290.4 148.0,291.2 149.0,292.0 149.9,292.8 150.9,293.6 151.8,294.0 152.7,295.2 153.7,295.9 154.6,296.7 155.6,297.9 156.5,298.7 157.5,299.5 158.4,300.3 159.3,300.7 160.3,301.9 161.2,302.7 162.2,303.4 163.1,304.2 164.1,305.0 165.0,305.8 166.0,306.6 166.9,306.6 167.8,307.8 168.8,308.6 169.7,309.8 170.7,311.7 171.6,312.9 172.6,314.5 173.5,316.1 174.5,317.7 175.4,318.9 176.3,320.0 177.3,320.8 178.2,322.0 179.2,322.8 180.1,324.0 181.1,324.8 182.0,325.2 182.9,326.0 183.9,326.4 184.8,326.8 185.8,327.5 186.7,327.9 187.7,328.3 188.6,328.7 189.6,328.7 190.5,329.1 192.4,329.1 193.3,328.7 194.3,328.7 195.2,328.3 196.2,328.3 197.1,327.5 198.1,327.1 199.0,327.1 199.9,326.8 200.9,326.8 201.8,326.4 202.8,326.0 203.7,325.2 204.7,325.2 205.6,324.4 206.5,324.0 207.5,323.6 208.4,323.2 209.4,322.4 210.3,322.0 211.3,321.6 212.2,320.8 213.2,320.4 214.1,319.6 215.0,319.2 216.0,318.1 216.9,317.7 217.9,317.3 218.8,316.9 219.8,316.5 220.7,316.1 221.7,315.7 222.6,315.7 223.5,314.9 226.4,314.9 227.3,315.3 228.3,315.7 233.0,315.7 233.9,316.1 234.9,316.5 235.8,316.5 236.8,316.9 237.7,317.3 238.6,317.3 239.6,317.7 241.5,317.7 242.4,318.5 243.4,318.5 244.3,318.1 245.3,317.7 246.2,316.9 247.1,316.5 248.1,316.1 249.0,315.3 250.0,314.1 250.9,313.3 251.9,312.1 252.8,311.4 253.7,310.2 254.7,309.0 255.6,308.2 256.6,307.0 257.5,306.2 258.5,305.4 259.4,304.2 260.4,303.4 261.3,302.3 262.2,301.5 263.2,300.3 264.1,299.1 265.1,298.7 266.0,297.5 267.0,296.7 267.9,295.9 268.9,295.2 269.8,294.8 270.7,294.4 271.7,293.6 272.6,293.6 273.6,293.2 274.5,293.2 275.5,293.6 276.4,293.6 277.3,294.4 278.3,295.2 279.2,295.6 280.2,297.1 281.1,299.1 282.1,301.5 283.0,304.6 284.0,307.8 284.9,311.4 285.8,315.3 286.8,320.0 287.7,326.0 288.7,331.5 289.6,337.4 290.6,342.9 291.5,347.7 292.5,352.8 293.4,357.6 294.3,362.3 295.3,366.6 296.2,371.0 297.2,374.9 298.1,378.9 299.1,383.2 300.0,386.8 300.9,390.4 301.9,393.9 302.8,396.3 303.8,399.4 304.7,401.8 305.7,404.6 306.6,407.3 307.6,409.3 308.5,411.7 309.4,413.3 310.4,415.2 311.3,417.2 312.3,418.8 313.2,420.4 314.2,421.6 315.1,422.7 316.1,424.3 317.0,425.5 317.9,426.7 318.9,427.5 319.8,428.7 320.8,429.5 321.7,430.6 322.7,431.4 323.6,432.2 324.5,433.0 325.5,433.8 326.4,434.2 327.4,435.0 328.3,435.4 329.3,436.6 330.2,437.4 331.2,437.8 332.1,438.1 333.0,438.9 334.0,439.3 334.9,439.7 335.9,440.1 336.8,440.9 337.8,442.1 341.5,442.1 342.5,443.3 343.4,443.3 344.4,444.5 345.3,444.5 346.3,445.6 351.0,445.6 351.9,446.8 352.9,446.8 353.8,448.0 357.6,448.0 358.5,449.2 363.3,449.2 364.2,450.4 368.9,450.4 369.9,451.6 370.8,450.4 371.7,451.6 374.6,451.6 375.5,452.8 379.3,452.8 380.2,453.9 382.1,453.9 383.1,455.1 387.8,455.1 388.7,456.3" stroke="#2b9dbd"/>
<path d="M72.5,313.3 73.4,313.7 74.4,314.5 75.3,314.9 76.3,315.3 77.2,315.7 78.2,315.7 79.1,316.1 80.1,316.5 81.0,316.5 81.9,316.9 83.8,316.9 84.8,317.3 86.7,317.3 87.6,317.7 92.3,317.7 93.3,317.3 94.2,317.3 95.2,316.5 96.1,316.1 97.0,316.1 98.0,315.7 98.9,316.1 99.9,315.7 100.8,315.7 101.8,315.3 102.7,314.5 103.7,314.1 104.6,313.7 105.5,313.3 106.5,312.1 107.4,311.7 108.4,311.4 109.3,311.0 110.3,311.7 111.2,311.0 112.1,310.6 113.1,309.8 114.0,308.2 115.0,307.4 115.9,306.6 116.9,305.8 117.8,304.6 118.8,303.4 119.7,302.7 120.6,301.9 121.6,301.5 122.5,300.7 123.5,299.9 124.4,299.1 125.4,296.7 126.3,295.9 127.3,295.2 128.2,294.4 129.1,295.2 130.1,294.0 131.0,293.2 132.0,292.4 132.9,290.8 133.9,290.0 134.8,289.6 135.7,289.2 136.7,288.4 137.6,288.0 138.6,287.6 140.5,287.6 141.4,288.0 142.4,288.0 143.3,288.4 144.2,289.2 145.2,289.6 146.1,290.0 147.1,290.8 148.0,291.2 149.0,291.6 149.9,292.4 150.9,293.2 151.8,294.4 152.7,295.6 153.7,296.3 154.6,297.1 155.6,297.5 156.5,298.3 157.5,299.1 158.4,299.9 159.3,301.1 160.3,302.3 161.2,303.1 162.2,303.8 163.1,304.2 164.1,305.0 165.0,305.8 166.0,307.0 166.9,307.4 167.8,308.2 168.8,309.4 169.7,310.6 170.7,312.5 171.6,313.7 172.6,315.3 173.5,316.9 174.5,318.1 175.4,318.9 176.3,320.0 177.3,321.2 178.2,322.0 179.2,322.8 180.1,324.0 181.1,324.8 182.0,326.0 182.9,326.4 183.9,327.1 184.8,327.5 185.8,327.1 186.7,327.5 187.7,327.9 188.6,328.3 189.6,329.1 192.4,329.1 193.3,329.5 194.3,329.5 195.2,329.1 196.2,329.1 197.1,328.3 198.1,327.9 199.0,327.9 199.9,327.5 200.9,327.5 201.8,327.1 202.8,326.8 203.7,326.4 204.7,325.6 205.6,325.2 206.5,324.8 207.5,324.4 208.4,323.6 209.4,323.2 210.3,322.4 211.3,322.0 212.2,321.6 213.2,321.2 214.1,320.4 215.0,320.0 216.0,318.9 216.9,318.5 217.9,318.1 218.8,317.7 219.8,317.7 220.7,317.3 221.7,317.3 222.6,316.9 223.5,316.1 226.4,316.1 227.3,316.5 228.3,316.5 229.2,316.9 233.0,316.9 233.9,317.3 234.9,317.7 235.8,318.1 236.8,318.1 237.7,318.5 238.6,318.9 240.5,318.9 241.5,319.2 243.4,319.2 244.3,318.9 245.3,318.5 246.2,317.7 247.1,317.3 248.1,316.5 249.0,316.1 250.0,315.3 250.9,314.5 251.9,313.3 252.8,312.5 253.7,311.4 254.7,310.2 255.6,309.4 256.6,308.2 257.5,307.8 258.5,306.6 259.4,305.8 260.4,304.6 261.3,304.2 262.2,303.1 263.2,302.3 264.1,301.5 265.1,300.3 266.0,299.5 267.0,298.7 267.9,297.9 268.9,297.1 269.8,296.7 270.7,296.3 271.7,295.6 272.6,295.6 273.6,295.2 274.5,295.2 275.5,295.6 276.4,295.9 277.3,296.7 278.3,297.9 279.2,298.3 280.2,299.9 281.1,301.9 282.1,304.2 283.0,307.0 284.0,310.6 284.9,314.1 285.8,318.1 286.8,322.8 287.7,328.3 288.7,333.9 289.6,339.8 290.6,345.3 291.5,349.7 292.5,354.4 293.4,359.1 294.3,363.5 295.3,368.2 296.2,372.6 297.2,376.5 298.1,380.1 299.1,384.0 300.0,388.0 300.9,391.1 301.9,394.7 302.8,397.5 303.8,400.2 304.7,403.0 305.7,405.4 306.6,408.1 307.6,410.1 308.5,412.1 309.4,414.1 310.4,416.0 311.3,417.6 312.3,419.2 313.2,420.8 314.2,422.3 315.1,423.9 316.1,425.1 317.0,426.3 317.9,427.9 318.9,428.7 319.8,429.9 320.8,430.6 321.7,430.6 322.7,431.4 323.6,432.2 324.5,433.0 325.5,434.2 326.4,435.0 327.4,435.8 328.3,436.2 329.3,436.6 330.2,437.4 331.2,437.8 332.1,438.5 333.0,438.9 334.0,439.3 334.9,440.1 335.9,440.5 336.8,440.5 337.8,440.9 338.7,440.9 339.7,442.1 340.6,442.1 341.5,443.3 343.4,443.3 344.4,444.5 346.3,444.5 347.2,445.6 348.1,445.6 349.1,446.8 353.8,446.8 354.8,448.0 356.6,448.0 357.6,449.2 363.3,449.2 364.2,450.4 368.0,450.4 368.9,451.6 369.9,451.6 370.8,450.4 371.7,451.6 374.6,451.6 375.5,452.8 379.3,452.8 380.2,453.9 383.1,453.9 384.0,455.1 386.9,455.1 387.8,456.3 388.7,456.3" stroke="#f47d20"/>
<path d="M72.5,313.7 73.4,314.5 74.4,314.9 75.3,315.3 76.3,314.9 77.2,315.3 78.2,315.7 79.1,316.1 80.1,316.5 81.0,316.5 81.9,316.9 84.8,316.9 85.7,317.3 87.6,317.3 88.5,317.7 90.4,317.7 91.4,318.1 92.3,317.7 93.3,317.7 94.2,317.3 95.2,317.3 96.1,316.9 97.0,316.5 98.0,316.5 98.9,315.3 99.9,314.9 100.8,314.5 101.8,314.1 102.7,314.5 103.7,314.1 104.6,313.7 105.5,313.3 106.5,313.3 107.4,312.9 108.4,312.1 109.3,311.7 110.3,311.0 111.2,310.2 112.1,309.4 113.1,309.0 114.0,308.2 115.0,307.4 115.9,306.6 116.9,305.8 117.8,305.4 118.8,304.2 119.7,303.4 120.6,302.7 121.6,301.9 122.5,301.1 123.5,299.9 124.4,299.1 125.4,298.3 126.3,297.1 127.3,296.3 128.2,295.6 129.1,294.0 130.1,293.2 131.0,292.4 132.0,291.6 132.9,291.2 133.9,290.8 134.8,290.0 135.7,289.6 136.7,289.2 137.6,288.8 138.6,288.4 139.5,288.0 141.4,288.0 142.4,288.4 143.3,288.8 144.2,288.8 145.2,289.6 146.1,290.0 147.1,290.4 148.0,291.6 149.0,292.4 149.9,293.2 150.9,294.0 151.8,294.4 152.7,295.2 153.7,296.3 154.6,297.1 155.6,297.9 156.5,298.7 157.5,299.5 158.4,300.3 159.3,301.5 160.3,302.3 161.2,303.1 162.2,303.8 163.1,304.6 164.1,305.4 165.0,306.2 166.0,307.0 166.9,307.8 167.8,309.0 168.8,309.8 169.7,311.0 170.7,312.5 171.6,313.7 172.6,315.3 173.5,316.9 174.5,318.5 175.4,319.6 176.3,320.8 177.3,321.6 178.2,322.4 179.2,323.6 180.1,324.4 181.1,325.2 182.0,325.2 182.9,326.0 183.9,326.4 184.8,326.8 185.8,328.3 186.7,328.7 187.7,329.1 188.6,329.5 189.6,329.9 190.5,330.3 192.4,330.3 193.3,329.5 194.3,329.5 195.2,329.1 196.2,329.1 197.1,328.7 198.1,328.3 199.0,328.3 199.9,327.9 200.9,327.5 201.8,327.1 202.8,326.8 203.7,326.4 204.7,326.4 205.6,326.0 206.5,325.6 207.5,325.2 208.4,324.0 209.4,323.6 210.3,323.2 211.3,322.8 212.2,322.8 213.2,322.0 214.1,321.6 215.0,321.2 216.0,320.4 216.9,320.0 217.9,319.6 218.8,319.2 219.8,318.9 220.7,318.5 221.7,318.1 222.6,318.1 223.5,317.7 226.4,317.7 227.3,317.3 228.3,317.7 230.1,317.7 231.1,318.1 232.0,318.1 233.0,318.5 233.9,318.5 234.9,318.9 235.8,318.9 236.8,319.2 237.7,319.6 238.6,319.2 239.6,319.6 241.5,319.6 242.4,320.0 243.4,320.0 244.3,319.6 245.3,319.2 246.2,318.9 247.1,318.1 248.1,317.7 249.0,317.3 250.0,317.3 250.9,316.5 251.9,315.3 252.8,314.5 253.7,313.7 254.7,312.9 255.6,311.7 256.6,311.0 257.5,309.4 258.5,308.6 259.4,307.4 260.4,306.6 261.3,306.2 262.2,305.4 263.2,304.6 264.1,303.4 265.1,302.3 266.0,301.5 267.0,300.7 267.9,299.9 268.9,299.5 269.8,299.1 270.7,298.7 271.7,298.3 272.6,297.9 274.5,297.9 275.5,298.3 276.4,299.1 277.3,299.9 278.3,301.1 279.2,301.5 280.2,302.3 281.1,304.6 282.1,307.0 283.0,309.8 284.0,314.1 284.9,317.3 285.8,321.2 286.8,326.0 287.7,329.9 288.7,335.8 289.6,341.4 290.6,346.9 291.5,351.2 292.5,356.0 293.4,360.7 294.3,365.1 295.3,369.8 296.2,374.2 297.2,377.7 298.1,381.7 299.1,385.2 300.0,388.8 300.9,392.3 301.9,395.5 302.8,398.2 303.8,401.0 304.7,403.8 305.7,406.1 306.6,408.1 307.6,410.1 308.5,412.1 309.4,414.1 310.4,416.4 311.3,418.4 312.3,420.0 313.2,421.6 314.2,422.7 315.1,423.9 316.1,425.1 317.0,426.3 317.9,427.5 318.9,428.7 319.8,429.5 320.8,430.2 321.7,431.0 322.7,431.8 323.6,432.6 324.5,433.4 325.5,434.2 326.4,435.0 327.4,435.4 328.3,436.2 329.3,436.6 330.2,437.0 331.2,437.8 332.1,438.1 333.0,438.9 334.0,439.7 334.9,440.1 335.9,440.5 336.8,440.9 337.8,440.9 338.7,442.1 339.7,442.1 340.6,443.3 342.5,443.3 343.4,444.5 345.3,444.5 346.3,445.6 349.1,445.6 350.0,446.8 353.8,446.8 354.8,448.0 356.6,448.0 357.6,449.2 358.5,449.2 359.5,448.0 360.4,449.2 363.3,449.2 364.2,450.4 366.1,450.4 367.0,451.6 373.6,451.6 374.6,452.8 379.3,452.8 380.2,453.9 383.1,453.9 384.0,455.1 387.8,455.1 388.7,456.3" stroke="#1f6fae"/>
<path d="M72.5,313.7 73.4,314.1 74.4,314.5 75.3,314.9 76.3,314.5 77.2,314.9 78.2,315.3 79.1,315.7 80.1,317.3 81.0,317.3 81.9,317.7 82.9,317.7 83.8,317.3 85.7,317.3 86.7,317.7 90.4,317.7 91.4,318.1 92.3,317.7 93.3,317.7 94.2,317.3 95.2,317.3 96.1,316.9 97.0,316.9 98.0,316.5 98.9,314.9 99.9,314.9 100.8,314.5 101.8,314.1 102.7,314.5 103.7,314.1 104.6,313.7 105.5,313.3 106.5,312.1 107.4,311.7 108.4,311.4 109.3,311.0 110.3,311.0 111.2,310.2 112.1,309.4 113.1,309.0 114.0,308.2 115.0,307.4 115.9,306.6 116.9,305.8 117.8,304.6 118.8,303.8 119.7,302.7 120.6,301.9 121.6,301.1 122.5,299.9 123.5,299.1 124.4,298.3 125.4,297.5 126.3,296.3 127.3,295.6 128.2,294.8 129.1,294.0 130.1,293.2 131.0,292.4 132.0,291.6 132.9,291.2 133.9,290.4 134.8,290.0 135.7,289.6 136.7,288.8 137.6,288.4 138.6,288.4 139.5,288.0 140.5,287.6 141.4,288.0 142.4,288.0 143.3,288.4 144.2,288.8 145.2,289.6 146.1,290.0 147.1,290.4 148.0,291.6 149.0,292.0 149.9,292.8 150.9,293.6 151.8,294.4 152.7,295.6 153.7,296.3 154.6,297.1 155.6,297.5 156.5,298.7 157.5,299.5 158.4,300.3 159.3,301.5 160.3,302.3 161.2,303.1 162.2,303.8 163.1,304.6 164.1,305.4 165.0,306.2 166.0,307.0 166.9,308.2 167.8,309.4 168.8,310.2 169.7,311.4 170.7,312.5 171.6,314.1 172.6,315.7 173.5,316.9 174.5,318.1 175.4,319.2 176.3,320.4 177.3,321.6 178.2,322.4 179.2,323.2 180.1,324.4 181.1,325.2 182.0,326.4 182.9,326.8 183.9,327.5 184.8,327.9 185.8,327.9 186.7,328.3 187.7,328.7 188.6,329.1 189.6,329.9 190.5,330.3 192.4,330.3 193.3,329.1 194.3,329.1 195.2,328.7 196.2,328.7 197.1,329.1 198.1,329.1 199.0,328.7 199.9,328.3 200.9,328.3 201.8,327.9 202.8,327.5 203.7,327.1 204.7,327.1 205.6,326.8 206.5,326.4 207.5,326.0 208.4,326.0 209.4,325.6 210.3,325.2 211.3,324.8 212.2,323.6 213.2,322.8 214.1,322.4 215.0,322.0 216.0,321.2 216.9,320.8 217.9,320.4 218.8,320.0 219.8,319.2 220.7,318.9 221.7,318.9 222.6,318.5 223.5,319.2 226.4,319.2 227.3,318.5 229.2,318.5 230.1,318.9 231.1,319.6 233.0,319.6 233.9,320.0 234.9,319.6 235.8,320.0 236.8,320.0 237.7,320.4 238.6,321.6 239.6,321.6 240.5,322.0 241.5,322.0 242.4,321.2 243.4,321.2 244.3,320.8 245.3,320.4 246.2,320.4 247.1,319.6 248.1,319.2 249.0,318.9 250.0,317.7 250.9,316.9 251.9,316.1 252.8,315.3 253.7,314.5 254.7,313.7 255.6,312.9 256.6,312.1 257.5,311.4 258.5,310.6 259.4,309.8 260.4,309.0 261.3,307.4 262.2,306.6 263.2,305.8 264.1,304.6 265.1,303.8 266.0,303.1 267.0,302.3 267.9,301.9 268.9,301.5 269.8,301.1 270.7,300.7 271.7,300.3 272.6,299.9 273.6,299.5 274.5,299.9 275.5,300.3 276.4,301.1 277.3,301.9 278.3,303.1 279.2,303.8 280.2,305.4 281.1,307.8 282.1,310.2 283.0,312.9 284.0,316.5 284.9,319.6 285.8,323.2 286.8,327.9 287.7,333.1 288.7,338.6 289.6,344.1 290.6,349.3 291.5,353.6 292.5,358.0 293.4,362.7 294.3,367.0 295.3,371.4 296.2,375.3 297.2,378.9 298.1,382.5 299.1,386.4 300.0,389.6 300.9,393.1 301.9,396.3 302.8,399.4 303.8,402.2 304.7,404.6 305.7,406.9 306.6,409.3 307.6,411.3 308.5,413.3 309.4,414.8 310.4,416.8 311.3,418.4 312.3,420.0 313.2,421.6 314.2,423.1 315.1,424.3 316.1,425.9 317.0,427.1 317.9,427.9 318.9,429.1 319.8,429.9 320.8,430.6 321.7,430.6 322.7,431.4 323.6,432.2 324.5,433.0 325.5,434.2 326.4,435.0 327.4,435.8 328.3,436.2 329.3,437.0 330.2,437.8 331.2,438.1 332.1,438.9 333.0,439.3 334.0,440.1 334.9,440.5 335.9,440.9 336.8,440.9 337.8,442.1 340.6,442.1 341.5,443.3 343.4,443.3 344.4,444.5 346.3,444.5 347.2,445.6 349.1,445.6 350.0,446.8 353.8,446.8 354.8,448.0 357.6,448.0 358.5,449.2 361.4,449.2 362.3,450.4 363.3,449.2 364.2,449.2 365.1,450.4 368.9,450.4 369.9,451.6 370.8,450.4 371.7,450.4 372.7,451.6 373.6,451.6 374.6,452.8 378.4,452.8 379.3,453.9 384.0,453.9 385.0,455.1 386.9,455.1 387.8,456.3 388.7,456.3" stroke="#c8282d"/>
<path d="M72.5,313.7 73.4,314.1 74.4,314.5 75.3,314.9 76.3,315.3 77.2,315.7 78.2,316.1 79.1,316.1 80.1,316.5 81.0,316.9 81.9,316.9 82.9,317.3 83.8,316.9 84.8,317.3 88.5,317.3 89.5,317.7 92.3,317.7 93.3,317.3 94.2,316.9 95.2,316.9 96.1,316.5 97.0,316.5 98.0,316.1 98.9,315.7 99.9,315.7 100.8,315.3 101.8,314.9 102.7,314.5 103.7,314.1 104.6,313.7 105.5,313.3 106.5,312.5 107.4,312.1 108.4,311.7 109.3,311.4 110.3,311.0 111.2,310.6 112.1,309.8 113.1,309.0 114.0,308.2 115.0,307.4 115.9,306.6 116.9,305.4 117.8,305.0 118.8,303.8 119.7,303.1 120.6,302.3 121.6,301.5 122.5,300.7 123.5,299.9 124.4,299.1 125.4,297.9 126.3,297.1 127.3,296.3 128.2,295.6 129.1,294.0 130.1,293.2 131.0,292.4 132.0,291.6 132.9,291.2 133.9,290.4 134.8,290.0 135.7,289.6 136.7,288.8 137.6,288.0 138.6,288.0 139.5,287.6 140.5,288.0 141.4,288.4 142.4,288.4 143.3,288.8 144.2,288.8 145.2,289.6 146.1,290.0 147.1,290.4 148.0,290.8 149.0,291.6 149.9,292.4 150.9,293.2 151.8,294.0 152.7,295.2 153.7,295.9 154.6,296.7 155.6,297.9 156.5,298.7 157.5,299.9 158.4,300.7 159.3,301.1 160.3,302.3 161.2,303.1 162.2,303.8 163.1,304.6 164.1,305.4 165.0,306.2 166.0,307.0 166.9,308.6 167.8,309.4 168.8,310.6 169.7,311.7 170.7,312.5 171.6,314.1 172.6,315.7 173.5,317.3 174.5,318.5 175.4,319.2 176.3,320.4 177.3,321.6 178.2,323.2 179.2,324.0 180.1,325.2 181.1,326.0 182.0,326.0 182.9,326.8 183.9,327.1 184.8,327.9 185.8,329.1 186.7,329.5 187.7,329.9 188.6,330.3 189.6,330.3 190.5,330.7 194.3,330.7 195.2,330.3 197.1,330.3 198.1,329.9 199.0,329.9 199.9,329.5 200.9,329.1 201.8,328.7 202.8,328.3 203.7,327.9 204.7,327.5 205.6,327.1 206.5,326.8 207.5,326.4 208.4,325.6 209.4,325.2 210.3,324.8 211.3,324.4 212.2,324.0 213.2,323.6 214.1,323.2 215.0,322.8 216.0,322.0 216.9,321.6 217.9,321.2 218.8,321.2 219.8,320.8 220.7,320.8 221.7,320.4 222.6,320.0 223.5,320.4 226.4,320.4 227.3,320.0 228.3,320.0 229.2,320.4 230.1,320.4 231.1,320.8 232.0,320.8 233.0,321.2 233.9,321.2 234.9,320.8 235.8,321.2 236.8,321.2 237.7,321.6 238.6,322.0 239.6,322.0 240.5,322.4 241.5,322.4 242.4,322.0 243.4,321.6 244.3,321.6 245.3,321.2 246.2,321.2 247.1,320.8 248.1,320.0 249.0,319.6 250.0,318.9 250.9,318.1 251.9,317.3 252.8,316.5 253.7,316.1 254.7,314.9 255.6,314.1 256.6,313.3 257.5,312.5 258.5,311.7 259.4,311.0 260.4,310.2 261.3,309.0 262.2,308.2 263.2,307.4 264.1,306.6 265.1,305.8 266.0,305.0 267.0,304.2 267.9,303.8 268.9,303.8 269.8,303.4 270.7,303.1 271.7,302.7 272.6,302.3 274.5,302.3 275.5,302.7 276.4,303.1 277.3,304.2 278.3,305.4 279.2,305.8 280.2,308.6 281.1,310.6 282.1,312.9 283.0,315.7 284.0,318.9 284.9,321.6 285.8,325.6 286.8,329.9 287.7,335.1 288.7,340.6 289.6,346.1 290.6,351.2 291.5,356.4 292.5,360.7 293.4,365.1 294.3,369.4 295.3,372.6 296.2,376.5 297.2,380.1 298.1,383.6 299.1,387.6 300.0,390.7 300.9,393.9 301.9,397.1 302.8,399.8 303.8,402.6 304.7,405.4 305.7,407.7 306.6,409.3 307.6,411.3 308.5,413.3 309.4,414.8 310.4,416.4 311.3,418.0 312.3,419.6 313.2,421.2 314.2,423.5 315.1,425.1 316.1,426.3 317.0,427.5 317.9,427.9 318.9,428.7 319.8,429.9 320.8,430.6 321.7,431.4 322.7,432.2 323.6,433.0 324.5,433.8 325.5,434.6 326.4,435.4 327.4,435.8 328.3,436.6 329.3,437.0 330.2,437.4 331.2,438.1 332.1,438.5 333.0,439.3 334.0,439.7 334.9,440.1 335.9,440.9 336.8,440.5 337.8,440.9 338.7,442.1 339.7,442.1 340.6,443.3 343.4,443.3 344.4,444.5 346.3,444.5 347.2,445.6 350.0,445.6 351.0,446.8 353.8,446.8 354.8,448.0 358.5,448.0 359.5,449.2 365.1,449.2 366.1,450.4 368.9,450.4 369.9,451.6 373.6,451.6 374.6,452.8 378.4,452.8 379.3,453.9 382.1,453.9 383.1,455.1 387.8,455.1 388.7,456.3" stroke="#5a9e2f"/>
<path d="M72.5,313.7 73.4,314.1 74.4,314.5 75.3,314.9 76.3,315.3 77.2,315.7 78.2,316.1 79.1,316.1 80.1,316.5 81.0,316.9 81.9,316.9 82.9,317.3 83.8,317.7 85.7,317.7 86.7,318.1 87.6,317.3 90.4,317.3 91.4,318.1 92.3,317.7 93.3,317.7 94.2,317.3 95.2,317.3 96.1,316.9 97.0,316.9 98.0,316.5 98.9,316.1 99.9,316.1 100.8,315.7 101.8,315.3 102.7,314.5 103.7,314.1 104.6,313.7 105.5,313.3 106.5,312.5 107.4,312.1 108.4,311.7 109.3,311.4 110.3,310.6 111.2,310.2 112.1,309.4 113.1,308.6 114.0,308.2 115.0,307.4 115.9,306.6 116.9,305.8 117.8,305.4 118.8,304.2 119.7,303.4 120.6,302.7 121.6,301.5 122.5,300.7 123.5,299.5 124.4,298.7 125.4,297.9 126.3,297.1 127.3,296.3 128.2,295.6 129.1,294.4 130.1,293.6 131.0,292.8 132.0,292.0 132.9,292.0 133.9,291.2 134.8,290.8 135.7,290.0 136.7,289.2 137.6,288.8 138.6,288.4 139.5,288.0 141.4,288.0 142.4,288.4 143.3,288.8 144.2,289.2 145.2,289.6 146.1,290.4 147.1,290.8 148.0,291.2 149.0,291.6 149.9,292.4 150.9,293.6 151.8,294.8 152.7,295.6 153.7,296.7 154.6,297.5 155.6,298.3 156.5,299.1 157.5,299.9 158.4,301.1 159.3,301.5 160.3,302.3 161.2,303.1 162.2,304.2 163.1,304.2 164.1,305.4 165.0,306.2 166.0,307.0 166.9,308.2 167.8,309.0 168.8,310.2 169.7,311.4 170.7,312.9 171.6,314.5 172.6,316.1 173.5,317.7 174.5,318.5 175.4,319.6 176.3,320.8 177.3,322.0 178.2,323.2 179.2,324.4 180.1,325.6 181.1,326.4 182.0,326.4 182.9,327.1 183.9,327.9 184.8,328.3 185.8,329.1 186.7,329.5 187.7,329.9 188.6,330.3 189.6,331.1 191.4,331.1 192.4,331.5 193.3,330.7 199.0,330.7 199.9,330.3 200.9,329.9 201.8,329.9 202.8,329.5 203.7,329.1 204.7,328.7 205.6,328.3 206.5,327.9 207.5,327.5 208.4,326.8 209.4,326.4 210.3,326.0 211.3,325.6 212.2,325.2 213.2,324.8 214.1,324.4 215.0,324.0 216.0,323.6 216.9,323.2 217.9,322.8 218.8,322.4 219.8,322.0 220.7,322.0 221.7,321.6 222.6,321.6 223.5,320.8 226.4,320.8 227.3,321.2 228.3,321.6 230.1,321.6 231.1,322.0 232.0,322.0 233.0,322.4 233.9,322.4 234.9,322.0 235.8,322.0 236.8,322.4 237.7,322.4 238.6,322.8 241.5,322.8 242.4,323.2 244.3,323.2 245.3,322.8 246.2,322.8 247.1,322.4 248.1,322.0 249.0,321.6 250.0,320.8 250.9,320.0 251.9,319.2 252.8,318.5 253.7,317.3 254.7,316.5 255.6,315.7 256.6,314.9 257.5,314.1 258.5,313.3 259.4,312.5 260.4,311.7 261.3,310.6 262.2,309.8 263.2,309.0 264.1,308.2 265.1,308.6 266.0,307.8 267.0,307.0 267.9,306.6 268.9,305.4 269.8,305.0 270.7,305.0 271.7,304.6 272.6,305.0 274.5,305.0 275.5,305.4 276.4,305.8 277.3,307.0 278.3,308.2 279.2,309.0 280.2,311.4 281.1,313.3 282.1,315.7 283.0,318.5 284.0,321.2 284.9,324.0 285.8,327.9 286.8,332.3 287.7,337.4 288.7,342.6 289.6,348.1 290.6,353.2 291.5,358.4 292.5,362.7 293.4,367.0 294.3,371.0 295.3,374.9 296.2,378.5 297.2,382.1 298.1,385.6 299.1,388.8 300.0,391.9 300.9,395.1 301.9,398.2 302.8,401.0 303.8,403.8 304.7,406.1 305.7,408.5 306.6,410.1 307.6,412.1 308.5,414.1 309.4,415.6 310.4,417.2 311.3,418.8 312.3,420.4 313.2,421.9 314.2,423.5 315.1,425.1 316.1,426.3 317.0,427.5 317.9,428.7 318.9,429.9 319.8,430.6 320.8,431.4 321.7,431.8 322.7,432.6 323.6,433.4 324.5,434.2 325.5,435.0 326.4,435.8 327.4,436.2 328.3,437.0 329.3,437.0 330.2,437.4 331.2,438.1 332.1,438.5 333.0,439.3 334.0,439.7 334.9,440.1 335.9,440.9 336.8,440.9 337.8,442.1 339.7,442.1 340.6,443.3 341.5,443.3 342.5,444.5 343.4,444.5 344.4,445.6 348.1,445.6 349.1,446.8 351.9,446.8 352.9,448.0 357.6,448.0 358.5,449.2 362.3,449.2 363.3,450.4 367.0,450.4 368.0,451.6 373.6,451.6 374.6,452.8 377.4,452.8 378.4,453.9 383.1,453.9 384.0,455.1 386.9,455.1 387.8,456.3 388.7,456.3" stroke="#7a4aa3"/>
<path d="M72.5,313.3 73.4,313.7 74.4,314.1 75.3,314.5 76.3,316.1 77.2,316.5 78.2,316.9 81.0,316.9 81.9,317.3 83.8,317.3 84.8,317.7 87.6,317.7 88.5,318.1 91.4,318.1 92.3,317.7 93.3,317.7 94.2,317.3 95.2,317.3 96.1,316.9 97.0,316.5 98.0,316.5 98.9,315.7 99.9,315.3 100.8,314.9 102.7,314.9 103.7,314.5 104.6,314.1 105.5,313.7 106.5,312.9 107.4,312.5 108.4,312.1 109.3,311.7 110.3,311.0 111.2,310.6 112.1,309.8 113.1,309.0 114.0,308.2 115.0,307.4 115.9,306.6 116.9,305.8 117.8,305.0 118.8,304.2 119.7,303.1 120.6,302.3 121.6,301.1 122.5,299.9 123.5,299.1 124.4,298.3 125.4,297.9 126.3,297.1 127.3,295.9 128.2,295.2 129.1,294.4 130.1,293.6 131.0,292.8 132.0,292.0 132.9,291.2 133.9,290.8 134.8,290.4 135.7,289.6 136.7,289.6 137.6,289.2 138.6,288.8 139.5,288.4 141.4,288.4 142.4,288.8 143.3,289.2 144.2,289.6 145.2,290.0 146.1,290.4 147.1,291.2 148.0,291.2 149.0,292.0 149.9,292.8 150.9,293.6 151.8,294.8 152.7,295.6 153.7,296.7 154.6,297.5 155.6,298.3 156.5,299.1 157.5,299.9 158.4,300.7 159.3,301.5 160.3,302.3 161.2,303.1 162.2,303.8 163.1,304.6 164.1,305.4 165.0,306.6 166.0,307.4 166.9,309.0 167.8,310.2 168.8,311.0 169.7,312.1 170.7,312.5 171.6,314.1 172.6,315.7 173.5,317.3 174.5,319.2 175.4,320.4 176.3,321.2 177.3,322.4 178.2,323.6 179.2,324.8 180.1,325.6 181.1,326.8 182.0,327.1 182.9,327.9 183.9,328.3 184.8,328.7 185.8,329.5 186.7,330.3 187.7,330.7 188.6,331.1 189.6,331.5 190.5,331.5 191.4,331.9 192.4,331.9 193.3,331.1 194.3,331.1 195.2,330.7 196.2,330.7 197.1,331.5 198.1,331.5 199.0,331.1 199.9,331.1 200.9,330.3 201.8,330.3 202.8,329.9 203.7,329.5 204.7,328.7 205.6,328.7 206.5,328.3 207.5,327.9 208.4,327.9 209.4,327.5 210.3,327.1 211.3,326.8 212.2,326.4 213.2,325.6 214.1,325.2 215.0,324.8 216.0,324.4 216.9,324.0 217.9,323.6 218.8,323.2 219.8,322.4 220.7,322.4 221.7,322.0 222.6,321.6 223.5,322.8 224.5,322.4 225.4,322.4 226.4,322.8 227.3,322.4 228.3,322.4 229.2,322.8 233.0,322.8 233.9,323.2 234.9,323.6 235.8,323.6 236.8,324.0 237.7,324.0 238.6,324.4 239.6,324.8 241.5,324.8 242.4,324.4 243.4,324.4 244.3,324.0 245.3,324.0 246.2,323.6 247.1,323.2 248.1,322.8 249.0,322.4 250.0,321.6 250.9,320.8 251.9,320.0 252.8,319.2 253.7,318.5 254.7,317.7 255.6,316.9 256.6,316.1 257.5,315.3 258.5,314.9 259.4,314.1 260.4,313.3 261.3,312.5 262.2,312.1 263.2,311.4 264.1,310.6 265.1,309.8 266.0,309.0 267.0,308.6 267.9,308.2 268.9,308.2 269.8,307.8 270.7,307.8 271.7,307.4 272.6,307.0 273.6,307.0 274.5,307.4 275.5,307.8 276.4,308.6 277.3,309.8 278.3,311.4 279.2,312.1 280.2,314.1 281.1,316.1 282.1,318.5 283.0,321.2 284.0,324.0 284.9,327.1 285.8,330.7 286.8,335.1 287.7,339.8 288.7,344.9 289.6,350.1 290.6,355.2 291.5,359.1 292.5,363.5 293.4,367.8 294.3,371.8 295.3,375.3 296.2,378.9 297.2,382.5 298.1,385.6 299.1,390.0 300.0,393.1 300.9,395.9 301.9,399.0 302.8,401.4 303.8,404.2 304.7,406.5 305.7,408.9 306.6,411.3 307.6,412.9 308.5,414.8 309.4,416.4 310.4,417.6 311.3,419.6 312.3,420.8 313.2,422.3 314.2,423.9 315.1,425.5 316.1,426.7 317.0,427.5 317.9,428.7 318.9,429.9 319.8,430.6 320.8,431.4 321.7,432.2 322.7,433.0 323.6,433.8 324.5,434.6 325.5,435.0 326.4,435.8 327.4,436.2 328.3,437.0 329.3,437.8 330.2,438.5 331.2,438.9 332.1,439.3 333.0,439.3 334.0,439.7 334.9,440.5 335.9,440.9 336.8,442.1 338.7,442.1 339.7,443.3 342.5,443.3 343.4,444.5 345.3,444.5 346.3,445.6 350.0,445.6 351.0,446.8 352.9,446.8 353.8,448.0 358.5,448.0 359.5,449.2 361.4,449.2 362.3,450.4 363.3,449.2 364.2,450.4 368.0,450.4 368.9,451.6 373.6,451.6 374.6,452.8 379.3,452.8 380.2,453.9 381.2,453.9 382.1,455.1 387.8,455.1 388.7,456.3" stroke="#f47d20"/>
<path d="M72.5,314.5 73.4,314.9 74.4,315.3 75.3,315.7 76.3,316.1 77.2,316.1 78.2,316.5 79.1,316.9 80.1,317.3 81.0,317.7 82.9,317.7 83.8,316.9 84.8,317.3 86.7,317.3 87.6,318.1 88.5,318.5 90.4,318.5 91.4,317.7 93.3,317.7 94.2,317.3 95.2,317.3 96.1,316.9 97.0,316.9 98.0,316.5 98.9,316.5 99.9,316.1 100.8,316.1 101.8,315.7 102.7,314.9 103.7,314.5 104.6,314.1 105.5,313.7 106.5,312.9 107.4,312.5 108.4,311.7 109.3,311.4 110.3,311.0 111.2,310.6 112.1,309.8 113.1,309.4 114.0,308.2 115.0,307.4 115.9,306.6 116.9,305.4 117.8,305.0 118.8,304.2 119.7,303.1 120.6,302.3 121.6,301.5 122.5,300.3 123.5,299.5 124.4,298.7 125.4,297.9 126.3,297.1 127.3,296.3 128.2,295.6 129.1,294.4 130.1,293.6 131.0,292.8 132.0,292.0 132.9,290.8 133.9,290.4 134.8,289.6 135.7,289.2 136.7,289.2 137.6,288.8 138.6,288.4 139.5,288.0 140.5,288.0 141.4,288.4 142.4,288.4 143.3,288.8 144.2,289.6 145.2,290.0 146.1,290.4 147.1,290.8 148.0,291.6 149.0,292.4 149.9,293.2 150.9,294.0 151.8,294.0 152.7,295.2 153.7,295.9 154.6,296.7 155.6,298.3 156.5,299.5 157.5,300.3 158.4,301.1 159.3,301.9 160.3,302.7 161.2,303.4 162.2,304.2 163.1,305.0 164.1,305.8 165.0,306.6 166.0,307.8 166.9,309.0 167.8,309.8 168.8,311.0 169.7,312.1 170.7,312.9 171.6,314.5 172.6,315.7 173.5,317.3 174.5,320.0 175.4,321.2 176.3,322.4 177.3,323.6 178.2,324.0 179.2,324.8 180.1,326.0 181.1,326.8 182.0,327.5 182.9,328.3 183.9,328.7 184.8,329.5 185.8,330.3 186.7,331.1 187.7,331.5 188.6,331.9 189.6,331.9 190.5,332.3 192.4,332.3 193.3,331.9 196.2,331.9 197.1,331.1 199.0,331.1 199.9,330.7 200.9,331.5 201.8,331.1 202.8,330.7 203.7,330.3 204.7,330.3 205.6,329.9 206.5,329.5 207.5,329.5 208.4,328.3 209.4,327.9 210.3,327.5 211.3,327.1 212.2,326.8 213.2,326.4 214.1,326.0 215.0,325.6 216.0,325.6 216.9,325.2 217.9,324.8 218.8,324.8 219.8,325.2 220.7,324.8 221.7,324.4 222.6,324.4 223.5,323.2 226.4,323.2 227.3,323.6 228.3,323.6 229.2,324.0 230.1,324.0 231.1,323.6 232.0,324.0 233.9,324.0 234.9,324.8 235.8,324.8 236.8,325.2 237.7,325.2 238.6,325.6 240.5,325.6 241.5,326.0 242.4,326.0 243.4,325.6 244.3,325.6 245.3,325.2 246.2,324.4 247.1,324.0 248.1,323.6 249.0,323.2 250.0,322.4 250.9,322.0 251.9,321.2 252.8,320.4 253.7,320.8 254.7,320.0 255.6,319.2 256.6,318.9 257.5,317.7 258.5,316.9 259.4,316.1 260.4,315.3 261.3,314.1 262.2,313.3 263.2,312.5 264.1,312.1 265.1,311.7 266.0,311.4 267.0,311.0 267.9,310.2 269.8,310.2 270.7,309.8 271.7,309.8 272.6,309.4 273.6,309.4 274.5,309.8 275.5,310.2 276.4,311.4 277.3,312.5 278.3,314.1 279.2,314.9 280.2,316.9 281.1,318.9 282.1,321.2 283.0,324.0 284.0,326.8 284.9,329.9 285.8,333.5 286.8,337.4 287.7,342.2 288.7,346.9 289.6,352.0 290.6,357.2 291.5,361.9 292.5,365.9 293.4,370.2 294.3,373.8 295.3,377.3 296.2,380.9 297.2,384.4 298.1,387.6 299.1,391.1 300.0,394.3 300.9,397.1 301.9,399.8 302.8,402.6 303.8,405.0 304.7,407.3 305.7,409.7 306.6,411.7 307.6,413.7 308.5,415.2 309.4,417.2 310.4,418.4 311.3,420.0 312.3,421.2 313.2,422.7 314.2,424.3 315.1,425.5 316.1,427.1 317.0,427.9 317.9,429.1 318.9,429.9 319.8,431.0 320.8,431.8 321.7,432.2 322.7,433.0 323.6,433.8 324.5,434.6 325.5,435.4 326.4,435.8 327.4,436.6 328.3,437.0 329.3,437.4 330.2,437.8 331.2,438.5 332.1,438.9 333.0,439.7 334.0,440.1 334.9,440.5 335.9,440.9 337.8,440.9 338.7,442.1 339.7,442.1 340.6,443.3 342.5,443.3 343.4,444.5 345.3,444.5 346.3,445.6 348.1,445.6 349.1,446.8 353.8,446.8 354.8,448.0 357.6,448.0 358.5,449.2 362.3,449.2 363.3,450.4 366.1,450.4 367.0,451.6 374.6,451.6 375.5,452.8 379.3,452.8 380.2,453.9 381.2,453.9 382.1,455.1 388.7,455.1" stroke="#1f6fae"/>
<path d="M72.5,314.1 73.4,314.5 74.4,314.9 75.3,315.3 76.3,316.1 77.2,316.5 78.2,316.5 79.1,316.9 80.1,316.9 81.0,317.3 81.9,317.3 82.9,317.7 83.8,318.1 84.8,318.1 85.7,318.5 86.7,318.5 87.6,318.1 88.5,318.1 89.5,318.5 92.3,318.5 93.3,318.1 94.2,318.1 95.2,316.9 96.1,316.9 97.0,316.5 98.0,316.1 98.9,316.1 99.9,315.7 100.8,315.3 101.8,315.3 102.7,314.5 103.7,314.1 104.6,313.7 105.5,313.3 106.5,312.9 107.4,312.5 108.4,312.1 109.3,311.7 110.3,311.4 111.2,310.6 112.1,310.2 113.1,309.4 114.0,308.2 115.0,307.4 115.9,306.6 116.9,305.8 117.8,305.0 118.8,304.2 119.7,303.4 120.6,302.3 121.6,301.1 122.5,300.3 123.5,299.5 124.4,298.7 125.4,297.9 126.3,297.1 127.3,295.9 128.2,295.2 129.1,294.8 130.1,294.0 131.0,293.2 132.0,292.4 132.9,291.2 133.9,290.8 134.8,290.4 135.7,289.6 136.7,289.2 137.6,288.8 138.6,288.4 141.4,288.4 142.4,288.8 143.3,289.2 144.2,289.2 145.2,289.6 146.1,290.0 147.1,290.4 148.0,290.8 149.0,291.6 149.9,292.4 150.9,293.2 151.8,294.8 152.7,295.6 153.7,296.7 154.6,297.5 155.6,298.3 156.5,299.1 157.5,299.9 158.4,300.7 159.3,302.3 160.3,303.1 161.2,304.2 162.2,305.0 163.1,305.0 164.1,306.2 165.0,307.0 166.0,307.8 166.9,309.0 167.8,310.2 168.8,311.0 169.7,312.1 170.7,314.1 171.6,315.7 172.6,317.3 173.5,318.9 174.5,319.6 175.4,320.8 176.3,322.0 177.3,323.2 178.2,324.0 179.2,325.2 180.1,326.4 181.1,327.1 182.0,328.3 182.9,329.1 183.9,329.5 184.8,330.3 185.8,330.7 186.7,331.1 187.7,331.5 188.6,331.9 189.6,332.3 190.5,332.7 191.4,332.7 192.4,333.1 193.3,332.3 196.2,332.3 197.1,332.7 199.0,332.7 199.9,332.3 200.9,331.9 201.8,331.5 202.8,331.5 203.7,331.1 204.7,329.9 205.6,329.9 206.5,329.5 207.5,329.1 208.4,329.5 209.4,329.1 210.3,328.7 211.3,328.3 212.2,327.9 213.2,327.5 214.1,327.1 215.0,326.8 216.0,326.8 216.9,326.4 217.9,326.0 218.8,325.6 219.8,326.0 220.7,325.6 221.7,325.2 222.6,325.2 223.5,324.8 229.2,324.8 230.1,325.2 231.1,325.6 232.0,325.6 233.0,326.0 233.9,326.0 234.9,325.6 235.8,326.0 236.8,326.0 237.7,326.4 238.6,326.0 239.6,326.4 244.3,326.4 245.3,326.0 246.2,326.4 247.1,326.0 248.1,325.6 249.0,325.2 250.0,324.4 250.9,324.0 251.9,323.2 252.8,322.4 253.7,322.0 254.7,321.2 255.6,320.8 256.6,320.0 257.5,318.5 258.5,318.1 259.4,317.3 260.4,316.5 261.3,316.1 262.2,315.3 263.2,314.9 264.1,314.1 265.1,313.7 266.0,312.9 267.0,312.5 267.9,312.1 269.8,312.1 270.7,311.7 272.6,311.7 273.6,312.1 274.5,312.5 275.5,312.9 276.4,313.7 277.3,314.9 278.3,316.5 279.2,317.7 280.2,319.6 281.1,321.6 282.1,324.0 283.0,326.8 284.0,329.9 284.9,332.7 285.8,336.2 286.8,340.2 287.7,344.1 288.7,349.3 289.6,354.0 290.6,359.1 291.5,363.5 292.5,367.4 293.4,371.4 294.3,375.3 295.3,378.9 296.2,382.5 297.2,385.6 298.1,388.8 299.1,392.3 300.0,395.1 300.9,398.2 301.9,401.0 302.8,403.8 303.8,406.5 304.7,408.5 305.7,410.9 306.6,412.5 307.6,414.1 308.5,416.0 309.4,417.6 310.4,419.2 311.3,420.8 312.3,421.9 313.2,423.5 314.2,425.1 315.1,426.3 316.1,427.5 317.0,428.7 317.9,429.5 318.9,430.2 319.8,431.4 320.8,432.2 321.7,433.0 322.7,433.8 323.6,434.6 324.5,435.0 325.5,435.4 326.4,435.8 327.4,436.6 328.3,437.0 329.3,437.8 330.2,438.5 331.2,438.9 332.1,439.3 333.0,439.7 334.0,440.5 334.9,440.9 335.9,440.9 336.8,442.1 337.8,442.1 338.7,443.3 340.6,443.3 341.5,444.5 344.4,444.5 345.3,445.6 347.2,445.6 348.1,446.8 351.0,446.8 351.9,448.0 356.6,448.0 357.6,449.2 362.3,449.2 363.3,450.4 369.9,450.4 370.8,451.6 372.7,451.6 373.6,452.8 377.4,452.8 378.4,453.9 382.1,453.9 383.1,455.1 388.7,455.1" stroke="#c8282d"/>
<path d="M72.5,314.1 73.4,314.5 74.4,314.9 75.3,315.3 76.3,315.7 77.2,316.1 78.2,316.5 79.1,316.9 80.1,316.9 81.0,317.3 81.9,317.3 82.9,317.7 85.7,317.7 86.7,318.1 87.6,317.7 88.5,317.7 89.5,318.1 90.4,318.1 91.4,317.7 93.3,317.7 94.2,317.3 95.2,317.3 96.1,316.9 97.0,316.5 98.0,316.1 98.9,316.1 99.9,315.7 100.8,315.3 101.8,315.3 102.7,314.9 103.7,314.5 104.6,314.1 105.5,313.7 106.5,313.3 107.4,312.9 108.4,312.1 109.3,311.7 110.3,311.4 111.2,311.0 112.1,310.2 113.1,309.4 114.0,308.2 115.0,307.4 115.9,306.6 116.9,305.8 117.8,305.8 118.8,304.6 119.7,303.8 120.6,303.1 121.6,301.5 122.5,300.7 123.5,299.9 124.4,298.7 125.4,297.1 126.3,296.3 127.3,295.6 128.2,294.8 129.1,294.8 130.1,293.6 131.0,292.8 132.0,292.0 132.9,291.6 133.9,291.2 134.8,290.8 135.7,290.0 136.7,289.2 137.6,288.8 138.6,288.4 139.5,288.4 140.5,288.0 141.4,288.0 142.4,288.4 143.3,288.8 144.2,289.6 145.2,290.0 146.1,290.4 147.1,290.8 148.0,291.2 149.0,292.0 149.9,292.8 150.9,293.6 151.8,294.8 152.7,295.6 153.7,296.3 154.6,297.5 155.6,298.3 156.5,299.1 157.5,300.3 158.4,301.1 159.3,300.7 160.3,301.5 161.2,302.7 162.2,303.4 163.1,305.0 164.1,306.2 165.0,307.0 166.0,307.8 166.9,309.0 167.8,310.2 168.8,311.4 169.7,312.5 170.7,314.1 171.6,315.7 172.6,317.3 173.5,318.5 174.5,319.6 175.4,320.8 176.3,322.0 177.3,323.2 178.2,324.4 179.2,325.6 180.1,326.8 181.1,327.5 182.0,328.3 182.9,329.1 183.9,329.5 184.8,330.3 185.8,331.1 186.7,331.5 187.7,331.9 188.6,332.3 189.6,333.1 190.5,333.1 191.4,333.5 192.4,333.5 193.3,333.1 195.2,333.1 196.2,332.7 197.1,333.1 198.1,333.1 199.0,332.7 199.9,332.7 200.9,332.3 201.8,332.3 202.8,331.9 204.7,331.9 205.6,331.5 206.5,331.1 207.5,331.1 208.4,330.3 209.4,329.9 210.3,329.9 211.3,329.5 212.2,329.1 213.2,328.7 214.1,328.3 215.0,327.9 216.0,327.5 216.9,327.1 217.9,327.1 218.8,326.8 219.8,327.1 220.7,326.8 221.7,326.8 222.6,326.4 223.5,326.0 228.3,326.0 229.2,326.4 230.1,326.4 231.1,326.8 232.0,326.8 233.0,327.1 235.8,327.1 236.8,327.5 237.7,327.5 238.6,327.9 240.5,327.9 241.5,328.3 242.4,327.5 244.3,327.5 245.3,327.1 246.2,327.9 247.1,327.5 248.1,327.1 249.0,326.8 250.0,325.6 250.9,324.8 251.9,324.4 252.8,323.6 253.7,323.6 254.7,322.8 255.6,322.0 256.6,321.6 257.5,320.4 258.5,320.0 259.4,319.2 260.4,318.9 261.3,317.7 262.2,317.3 263.2,316.5 264.1,316.1 265.1,315.7 266.0,315.3 267.0,314.9 267.9,314.5 268.9,314.1 269.8,314.1 270.7,313.7 271.7,313.7 272.6,314.1 273.6,314.1 274.5,314.5 275.5,315.3 276.4,315.7 277.3,316.9 278.3,318.5 279.2,319.6 280.2,322.0 281.1,324.4 282.1,326.8 283.0,329.1 284.0,331.9 284.9,334.7 285.8,338.2 286.8,342.2 287.7,346.9 288.7,351.6 289.6,356.8 290.6,361.5 291.5,365.9 292.5,369.8 293.4,373.8 294.3,377.3 295.3,380.1 296.2,383.6 297.2,386.8 298.1,389.6 299.1,393.1 300.0,395.9 300.9,399.0 301.9,401.4 302.8,404.2 303.8,406.5 304.7,408.9 305.7,410.9 306.6,412.9 307.6,414.4 308.5,416.4 309.4,418.0 310.4,420.0 311.3,421.6 312.3,423.1 313.2,424.3 314.2,425.1 315.1,426.3 316.1,427.5 317.0,428.7 317.9,429.9 318.9,430.6 319.8,431.4 320.8,432.2 321.7,433.0 322.7,433.8 323.6,434.2 324.5,435.0 325.5,436.2 326.4,436.6 327.4,437.4 328.3,437.8 329.3,438.1 330.2,438.5 331.2,438.9 332.1,439.3 333.0,440.5 334.0,440.9 334.9,440.9 335.9,442.1 338.7,442.1 339.7,443.3 342.5,443.3 343.4,444.5 345.3,444.5 346.3,445.6 348.1,445.6 349.1,446.8 352.9,446.8 353.8,448.0 354.8,448.0 355.7,449.2 362.3,449.2 363.3,450.4 368.0,450.4 368.9,451.6 372.7,451.6 373.6,452.8 376.5,452.8 377.4,453.9 384.0,453.9 385.0,455.1 388.7,455.1" stroke="#5a9e2f"/>
<path d="M72.5,314.1 73.4,314.5 74.4,314.9 75.3,315.3 76.3,316.1 77.2,316.5 78.2,316.9 79.1,316.9 80.1,316.5 81.0,316.5 81.9,316.9 82.9,316.9 83.8,317.7 85.7,317.7 86.7,318.1 87.6,318.5 90.4,318.5 91.4,317.7 92.3,317.7 93.3,317.3 94.2,317.3 95.2,316.9 96.1,316.5 97.0,316.1 98.0,316.1 98.9,316.5 99.9,316.5 100.8,316.1 101.8,315.7 102.7,314.5 103.7,314.1 104.6,313.7 105.5,313.3 106.5,313.3 107.4,312.9 108.4,312.5 109.3,311.7 110.3,311.0 111.2,310.2 112.1,309.4 113.1,309.0 114.0,308.6 115.0,307.8 115.9,307.0 116.9,306.2 117.8,305.4 118.8,304.6 119.7,303.8 120.6,302.7 121.6,301.5 122.5,300.3 123.5,299.5 124.4,298.7 125.4,297.9 126.3,296.7 127.3,295.9 128.2,295.2 129.1,294.0 130.1,293.2 131.0,292.4 132.0,291.6 132.9,290.8 133.9,290.4 134.8,290.0 135.7,289.2 136.7,289.2 137.6,288.8 138.6,288.4 139.5,288.0 140.5,288.4 141.4,288.4 142.4,288.8 143.3,289.2 144.2,289.6 145.2,290.0 146.1,290.4 147.1,291.2 148.0,291.6 149.0,292.4 149.9,293.2 150.9,294.0 151.8,295.2 152.7,295.9 153.7,296.7 154.6,297.9 155.6,298.3 156.5,299.5 157.5,300.3 158.4,301.1 159.3,302.7 160.3,303.4 161.2,304.2 162.2,305.4 163.1,305.4 164.1,306.2 165.0,307.0 166.0,308.2 166.9,309.0 167.8,310.2 168.8,311.4 169.7,312.5 170.7,313.3 171.6,314.9 172.6,316.5 173.5,318.1 174.5,320.0 175.4,321.2 176.3,322.4 177.3,323.6 178.2,325.2 179.2,326.0 180.1,327.1 181.1,328.3 182.0,328.7 182.9,329.5 183.9,330.3 184.8,330.7 185.8,331.9 186.7,332.3 187.7,332.7 188.6,333.1 189.6,333.1 190.5,333.5 191.4,333.5 192.4,333.9 193.3,334.3 196.2,334.3 197.1,333.1 199.0,333.1 199.9,332.7 201.8,332.7 202.8,332.3 205.6,332.3 206.5,331.9 207.5,331.5 208.4,331.1 209.4,330.7 210.3,330.7 211.3,330.3 212.2,329.5 213.2,329.1 214.1,329.1 215.0,328.7 216.0,328.3 216.9,328.3 217.9,327.9 218.8,327.5 220.7,327.5 221.7,327.1 225.4,327.1 226.4,327.5 231.1,327.5 232.0,327.9 235.8,327.9 236.8,328.3 237.7,328.3 238.6,329.1 241.5,329.1 242.4,329.5 243.4,329.5 244.3,329.1 245.3,328.7 246.2,327.9 247.1,327.5 248.1,327.1 249.0,326.8 250.0,327.1 250.9,326.4 251.9,326.0 252.8,325.2 253.7,324.0 254.7,323.2 255.6,322.8 256.6,322.4 257.5,322.0 258.5,321.2 259.4,320.8 260.4,320.0 261.3,319.2 262.2,318.9 263.2,318.5 264.1,317.7 265.1,316.9 266.0,316.5 267.0,316.1 269.8,316.1 270.7,315.7 272.6,315.7 273.6,316.1 274.5,316.5 275.5,317.3 276.4,318.9 277.3,320.4 278.3,322.0 279.2,323.2 280.2,325.2 281.1,327.5 282.1,329.9 283.0,332.3 284.0,334.7 284.9,337.4 285.8,340.6 286.8,344.5 287.7,348.5 288.7,353.2 289.6,358.0 290.6,362.7 291.5,367.0 292.5,371.0 293.4,374.6 294.3,378.1 295.3,381.3 296.2,384.4 297.2,387.6 298.1,390.4 299.1,393.9 300.0,397.1 300.9,399.8 301.9,402.2 302.8,405.0 303.8,407.3 304.7,409.3 305.7,411.3 306.6,413.3 307.6,414.8 308.5,416.8 309.4,418.4 310.4,420.0 311.3,421.6 312.3,423.1 313.2,424.3 314.2,425.5 315.1,427.1 316.1,427.9 317.0,429.1 317.9,430.2 318.9,431.0 319.8,431.8 320.8,432.6 321.7,433.0 322.7,433.8 323.6,434.6 324.5,435.0 325.5,436.2 326.4,437.0 327.4,437.4 328.3,438.1 329.3,438.1 330.2,438.5 331.2,439.3 332.1,439.7 333.0,440.9 334.0,440.9 334.9,442.1 338.7,442.1 339.7,443.3 340.6,444.5 345.3,444.5 346.3,445.6 347.2,445.6 348.1,446.8 350.0,446.8 351.0,448.0 351.9,446.8 352.9,448.0 358.5,448.0 359.5,449.2 360.4,449.2 361.4,450.4 367.0,450.4 368.0,451.6 369.9,451.6 370.8,452.8 378.4,452.8 379.3,453.9 382.1,453.9 383.1,455.1 388.7,455.1" stroke="#7a4aa3"/>
<path d="M72.5,314.5 73.4,314.9 74.4,315.3 75.3,315.7 76.3,316.1 77.2,316.5 78.2,316.9 79.1,316.9 80.1,316.5 81.0,316.5 81.9,316.9 82.9,316.9 83.8,318.1 84.8,318.5 86.7,318.5 87.6,318.1 90.4,318.1 91.4,317.7 93.3,317.7 94.2,317.3 95.2,318.1 96.1,317.7 97.0,317.3 98.0,317.3 98.9,316.9 99.9,316.5 100.8,316.1 101.8,315.7 102.7,314.9 103.7,314.5 104.6,314.1 105.5,313.7 106.5,313.3 107.4,312.9 108.4,312.5 109.3,312.1 110.3,311.0 111.2,310.6 112.1,309.8 113.1,309.4 114.0,308.2 115.0,307.4 115.9,306.6 116.9,305.8 117.8,305.4 118.8,304.2 119.7,303.4 120.6,302.7 121.6,301.9 122.5,301.1 123.5,299.9 124.4,299.1 125.4,298.7 126.3,297.9 127.3,297.1 128.2,296.3 129.1,294.4 130.1,293.6 131.0,292.8 132.0,292.0 132.9,291.6 133.9,291.2 134.8,290.8 135.7,290.0 136.7,289.2 137.6,288.8 138.6,288.4 141.4,288.4 142.4,288.8 143.3,289.2 144.2,290.0 145.2,290.4 146.1,290.8 147.1,291.2 148.0,290.8 149.0,291.6 149.9,292.4 150.9,293.2 151.8,294.4 152.7,295.6 153.7,296.3 154.6,297.1 155.6,298.3 156.5,299.1 157.5,299.9 158.4,300.7 159.3,302.3 160.3,303.1 161.2,304.2 162.2,305.0 163.1,305.4 164.1,306.6 165.0,307.4 166.0,308.6 166.9,309.4 167.8,310.6 168.8,311.7 169.7,312.9 170.7,314.5 171.6,316.1 172.6,317.7 173.5,319.2 174.5,320.8 175.4,322.0 176.3,323.2 177.3,324.4 178.2,325.2 179.2,326.4 180.1,327.1 181.1,328.3 182.0,329.1 182.9,329.9 183.9,330.7 184.8,331.1 185.8,331.9 186.7,332.3 187.7,332.7 188.6,333.1 189.6,333.5 190.5,333.9 191.4,334.3 192.4,334.3 193.3,333.9 199.9,333.9 200.9,334.7 201.8,334.3 202.8,334.3 203.7,333.9 204.7,333.1 205.6,332.7 206.5,332.7 207.5,332.3 208.4,331.9 209.4,331.5 210.3,331.5 211.3,331.1 212.2,330.7 213.2,330.3 214.1,329.9 215.0,329.5 216.0,329.9 216.9,329.5 217.9,329.1 218.8,329.1 219.8,328.7 221.7,328.7 222.6,328.3 230.1,328.3 231.1,329.1 233.9,329.1 234.9,329.5 235.8,329.5 236.8,329.9 237.7,329.9 238.6,330.3 241.5,330.3 242.4,329.9 244.3,329.9 245.3,329.5 246.2,329.5 247.1,329.1 248.1,329.1 249.0,328.7 250.0,328.3 250.9,327.9 251.9,327.1 252.8,326.8 253.7,325.6 254.7,324.8 255.6,324.4 256.6,324.0 257.5,323.6 258.5,323.2 259.4,322.8 260.4,322.0 261.3,321.2 262.2,320.8 263.2,320.4 264.1,319.6 265.1,319.2 266.0,318.9 267.0,318.5 267.9,318.5 268.9,318.1 272.6,318.1 273.6,318.5 274.5,318.9 275.5,319.6 276.4,321.2 277.3,322.8 278.3,324.4 279.2,326.0 280.2,327.9 281.1,330.3 282.1,332.7 283.0,335.1 284.0,337.8 284.9,340.6 285.8,343.7 286.8,347.7 287.7,350.9 288.7,355.2 289.6,359.9 290.6,364.7 291.5,369.4 292.5,373.0 293.4,376.9 294.3,380.1 295.3,383.2 296.2,386.4 297.2,389.2 298.1,391.9 299.1,395.5 300.0,398.2 300.9,400.6 301.9,403.4 302.8,406.1 303.8,408.5 304.7,410.9 305.7,412.9 306.6,413.7 307.6,415.2 308.5,417.2 309.4,418.8 310.4,420.4 311.3,421.9 312.3,423.5 313.2,424.7 314.2,425.9 315.1,427.1 316.1,428.3 317.0,429.5 317.9,430.2 318.9,431.0 319.8,431.8 320.8,432.6 321.7,433.4 322.7,434.2 323.6,434.6 324.5,435.4 325.5,436.2 326.4,436.6 327.4,437.4 328.3,437.8 329.3,438.9 330.2,439.3 331.2,440.1 332.1,440.5 333.0,440.1 334.0,440.5 334.9,440.9 335.9,440.9 336.8,442.1 337.8,443.3 340.6,443.3 341.5,444.5 345.3,444.5 346.3,445.6 348.1,445.6 349.1,446.8 351.0,446.8 351.9,448.0 354.8,448.0 355.7,449.2 362.3,449.2 363.3,450.4 367.0,450.4 368.0,451.6 370.8,451.6 371.7,452.8 377.4,452.8 378.4,453.9 383.1,453.9 384.0,455.1 388.7,455.1" stroke="#2b9dbd"/>
<path d="M72.5,314.5 73.4,314.9 74.4,315.3 75.3,315.7 76.3,316.1 77.2,316.1 78.2,316.5 79.1,316.9 80.1,317.3 81.0,317.7 83.8,317.7 84.8,318.1 86.7,318.1 87.6,317.7 90.4,317.7 91.4,318.1 92.3,318.1 93.3,317.7 94.2,317.7 95.2,317.3 96.1,316.9 97.0,316.5 98.9,316.5 99.9,316.1 100.8,315.7 101.8,315.7 102.7,314.9 103.7,314.5 104.6,314.1 105.5,313.7 106.5,313.7 107.4,313.3 108.4,312.9 109.3,312.5 110.3,311.4 111.2,310.6 112.1,310.2 113.1,309.4 114.0,308.2 115.0,307.4 115.9,306.6 116.9,305.8 117.8,304.6 118.8,303.4 119.7,302.7 120.6,301.9 121.6,301.1 122.5,300.3 123.5,299.5 124.4,298.7 125.4,297.9 126.3,297.1 127.3,296.3 128.2,295.2 129.1,294.8 130.1,293.6 131.0,292.8 132.0,292.0 132.9,291.6 133.9,291.2 134.8,290.8 135.7,290.0 136.7,289.6 137.6,289.2 138.6,288.8 139.5,288.4 141.4,288.4 142.4,288.8 143.3,288.8 144.2,289.6 145.2,290.4 146.1,290.8 147.1,291.2 148.0,291.2 149.0,292.0 149.9,292.8 150.9,293.6 151.8,295.2 152.7,295.9 153.7,297.1 154.6,297.9 155.6,299.1 156.5,299.9 157.5,300.7 158.4,301.5 159.3,302.3 160.3,303.1 161.2,304.2 162.2,305.0 163.1,306.2 164.1,307.0 165.0,307.8 166.0,309.0 166.9,309.8 167.8,311.0 168.8,312.1 169.7,313.3 170.7,314.1 171.6,315.7 172.6,317.3 173.5,318.9 174.5,320.8 175.4,322.0 176.3,323.2 177.3,324.4 178.2,325.6 179.2,326.8 180.1,327.5 181.1,328.7 182.0,329.5 182.9,330.3 183.9,330.7 184.8,331.5 185.8,331.9 186.7,332.3 187.7,332.7 188.6,333.1 189.6,334.3 190.5,334.3 191.4,334.7 192.4,334.7 193.3,334.3 196.2,334.3 197.1,334.7 198.1,334.7 199.0,334.3 201.8,334.3 202.8,333.9 203.7,333.9 204.7,333.5 205.6,333.1 206.5,333.1 207.5,332.7 208.4,333.1 209.4,333.1 210.3,332.7 211.3,332.3 212.2,331.9 213.2,331.9 214.1,331.5 215.0,331.1 216.0,330.7 216.9,330.3 218.8,330.3 219.8,329.9 220.7,329.5 227.3,329.5 228.3,329.9 234.9,329.9 235.8,330.3 237.7,330.3 238.6,330.7 239.6,331.1 242.4,331.1 243.4,330.7 246.2,330.7 247.1,330.3 248.1,329.9 249.0,329.9 250.0,329.1 250.9,328.7 251.9,328.3 252.8,327.5 253.7,327.1 254.7,326.4 255.6,326.0 256.6,325.6 257.5,325.2 258.5,324.8 259.4,324.4 260.4,323.6 261.3,323.2 262.2,322.8 263.2,322.4 264.1,322.0 265.1,320.8 266.0,320.4 267.0,320.4 267.9,320.0 268.9,320.4 271.7,320.4 272.6,320.8 273.6,321.2 274.5,322.0 275.5,322.8 276.4,323.6 277.3,325.2 278.3,326.8 279.2,328.3 280.2,329.9 281.1,332.3 282.1,334.7 283.0,337.0 284.0,340.2 284.9,342.9 285.8,346.1 286.8,349.7 287.7,353.2 288.7,357.6 289.6,362.3 290.6,366.6 291.5,371.4 292.5,375.3 293.4,378.9 294.3,382.1 295.3,385.2 296.2,388.0 297.2,391.1 298.1,393.9 299.1,396.7 300.0,399.4 300.9,401.8 301.9,404.2 302.8,406.5 303.8,408.9 304.7,410.9 305.7,412.9 306.6,414.1 307.6,416.0 308.5,417.6 309.4,419.2 310.4,421.6 311.3,422.7 312.3,424.3 313.2,425.5 314.2,425.9 315.1,427.1 316.1,428.3 317.0,429.1 317.9,431.0 318.9,431.8 319.8,432.6 320.8,433.4 321.7,433.8 322.7,434.6 323.6,435.4 324.5,435.8 325.5,436.2 326.4,437.0 327.4,437.4 328.3,437.8 329.3,438.5 330.2,438.9 331.2,439.3 332.1,440.1 333.0,440.5 334.0,440.9 334.9,440.9 335.9,442.1 336.8,443.3 338.7,443.3 339.7,444.5 340.6,443.3 341.5,444.5 343.4,444.5 344.4,445.6 346.3,445.6 347.2,446.8 348.1,445.6 350.0,445.6 351.0,446.8 351.9,448.0 356.6,448.0 357.6,449.2 360.4,449.2 361.4,450.4 366.1,450.4 367.0,451.6 373.6,451.6 374.6,452.8 379.3,452.8 380.2,453.9 382.1,453.9 383.1,455.1 387.8,455.1 388.7,456.3" stroke="#f47d20"/>
<path d="M72.5,315.3 73.4,315.7 74.4,316.1 75.3,316.5 76.3,316.1 77.2,316.5 78.2,316.5 79.1,316.9 80.1,317.7 81.0,317.7 81.9,318.1 85.7,318.1 86.7,318.5 87.6,318.1 90.4,318.1 91.4,318.5 92.3,318.5 93.3,318.1 94.2,318.1 95.2,317.3 96.1,316.9 97.0,316.5 99.9,316.5 100.8,316.1 101.8,315.7 102.7,314.5 103.7,314.1 104.6,313.7 105.5,313.3 106.5,312.9 107.4,312.5 108.4,312.1 109.3,311.4 110.3,311.4 111.2,311.0 112.1,310.2 113.1,309.4 114.0,308.6 115.0,307.8 115.9,307.0 116.9,306.2 117.8,305.4 118.8,304.6 119.7,303.4 120.6,302.7 121.6,301.5 122.5,300.7 123.5,299.9 124.4,299.1 125.4,297.9 126.3,297.1 127.3,295.9 128.2,295.2 129.1,295.2 130.1,294.4 131.0,293.6 132.0,292.8 132.9,291.2 133.9,290.8 134.8,290.0 135.7,289.6 136.7,290.0 137.6,289.6 138.6,289.2 139.5,288.8 141.4,288.8 142.4,289.2 143.3,289.6 144.2,290.0 145.2,290.4 146.1,291.2 147.1,291.6 148.0,290.8 149.0,291.6 149.9,292.4 150.9,293.2 151.8,294.8 152.7,295.9 153.7,296.7 154.6,297.9 155.6,298.7 156.5,299.5 157.5,300.3 158.4,301.1 159.3,302.3 160.3,303.1 161.2,304.2 162.2,305.0 163.1,305.4 164.1,306.2 165.0,307.4 166.0,308.2 166.9,310.2 167.8,311.4 168.8,312.5 169.7,313.7 170.7,314.5 171.6,316.1 172.6,318.1 173.5,319.6 174.5,320.4 175.4,321.6 176.3,322.8 177.3,324.0 178.2,326.0 179.2,327.1 180.1,328.3 181.1,329.1 182.0,329.9 182.9,330.7 183.9,331.5 184.8,332.3 185.8,332.3 186.7,333.1 187.7,333.5 188.6,333.9 189.6,334.7 190.5,335.1 199.0,335.1 199.9,334.7 200.9,335.1 201.8,334.7 202.8,334.7 203.7,334.3 204.7,334.3 205.6,333.9 206.5,333.9 207.5,333.5 209.4,333.5 210.3,333.1 211.3,333.1 212.2,332.7 213.2,332.3 214.1,332.3 215.0,331.9 216.0,331.9 216.9,331.5 217.9,331.5 218.8,331.1 219.8,330.7 220.7,330.3 226.4,330.3 227.3,330.7 228.3,331.1 230.1,331.1 231.1,331.9 232.0,331.9 233.0,332.3 233.9,332.3 234.9,331.5 235.8,331.5 236.8,331.9 239.6,331.9 240.5,332.3 241.5,332.3 242.4,332.7 244.3,332.7 245.3,332.3 246.2,332.3 247.1,331.9 248.1,331.9 249.0,331.5 250.0,330.7 250.9,330.3 251.9,329.9 252.8,329.1 253.7,328.3 254.7,327.5 255.6,327.1 256.6,326.8 257.5,327.1 258.5,326.4 259.4,326.0 260.4,325.6 261.3,324.8 262.2,324.4 263.2,324.0 264.1,323.6 265.1,323.2 266.0,322.8 267.0,322.8 267.9,322.4 268.9,322.0 269.8,322.0 270.7,322.4 271.7,322.4 272.6,323.2 273.6,323.6 274.5,324.0 275.5,324.8 276.4,326.0 277.3,327.9 278.3,329.5 279.2,331.5 280.2,333.5 281.1,335.8 282.1,338.2 283.0,340.6 284.0,342.6 284.9,345.3 285.8,348.1 286.8,351.6 287.7,355.6 288.7,359.9 289.6,364.3 290.6,369.0 291.5,373.4 292.5,376.9 293.4,380.5 294.3,383.6 295.3,386.8 296.2,390.0 297.2,392.7 298.1,395.1 299.1,397.9 300.0,400.2 300.9,403.0 301.9,405.4 302.8,407.3 303.8,409.3 304.7,411.3 305.7,413.3 306.6,415.6 307.6,417.2 308.5,418.8 309.4,420.4 310.4,421.2 311.3,422.7 312.3,423.9 313.2,425.5 314.2,426.7 315.1,427.9 316.1,429.1 317.0,429.9 317.9,430.6 318.9,431.8 319.8,432.6 320.8,433.4 321.7,433.8 322.7,434.6 323.6,435.4 324.5,435.8 325.5,436.6 326.4,437.0 327.4,437.8 328.3,438.1 329.3,439.3 330.2,439.7 331.2,440.1 332.1,440.5 333.0,440.9 334.0,440.9 334.9,442.1 338.7,442.1 339.7,443.3 340.6,444.5 342.5,444.5 343.4,445.6 346.3,445.6 347.2,446.8 348.1,445.6 349.1,446.8 351.0,446.8 351.9,448.0 354.8,448.0 355.7,449.2 359.5,449.2 360.4,450.4 368.9,450.4 369.9,451.6 373.6,451.6 374.6,452.8 379.3,452.8 380.2,453.9 382.1,453.9 383.1,455.1 388.7,455.1" stroke="#1f6fae"/>
<path d="M72.5,314.5 73.4,314.9 74.4,315.3 75.3,315.7 76.3,316.1 77.2,316.1 78.2,316.5 79.1,316.9 80.1,317.7 81.0,317.7 81.9,318.1 82.9,318.1 83.8,317.7 86.7,317.7 87.6,318.5 93.3,318.5 94.2,318.1 95.2,317.7 96.1,317.3 97.0,316.9 98.9,316.9 99.9,316.5 100.8,316.1 101.8,316.1 102.7,315.3 103.7,314.9 104.6,314.5 105.5,313.7 106.5,313.3 107.4,312.9 108.4,312.5 109.3,311.7 110.3,311.4 111.2,311.0 112.1,310.2 113.1,309.4 114.0,308.6 115.0,307.8 115.9,307.0 116.9,305.8 117.8,305.4 118.8,304.6 119.7,303.4 120.6,302.7 121.6,301.5 122.5,300.7 123.5,299.9 124.4,299.1 125.4,298.7 126.3,297.9 127.3,296.7 128.2,295.9 129.1,294.8 130.1,294.0 131.0,293.2 132.0,292.4 132.9,292.0 133.9,291.2 134.8,290.8 135.7,290.4 136.7,289.6 137.6,289.2 138.6,288.8 139.5,288.8 140.5,288.4 141.4,288.8 142.4,288.8 143.3,289.2 144.2,289.6 145.2,290.0 146.1,290.4 147.1,290.8 148.0,292.0 149.0,292.8 149.9,293.6 150.9,294.4 151.8,295.6 152.7,296.3 153.7,297.5 154.6,298.3 155.6,298.7 156.5,299.5 157.5,300.7 158.4,301.5 159.3,301.9 160.3,303.1 161.2,303.8 162.2,304.6 163.1,305.8 164.1,306.6 165.0,307.8 166.0,308.6 166.9,309.8 167.8,310.6 168.8,311.7 169.7,313.3 170.7,314.5 171.6,316.1 172.6,317.7 173.5,319.2 174.5,320.8 175.4,322.4 176.3,323.6 177.3,324.8 178.2,326.4 179.2,327.5 180.1,328.3 181.1,329.5 182.0,330.7 182.9,331.5 183.9,332.3 184.8,332.7 185.8,333.5 186.7,333.9 187.7,334.3 188.6,334.7 189.6,335.1 190.5,335.4 194.3,335.4 195.2,335.8 199.0,335.8 199.9,335.4 202.8,335.4 203.7,335.1 205.6,335.1 206.5,334.7 207.5,334.7 208.4,334.3 209.4,333.9 210.3,333.9 211.3,333.5 213.2,333.5 214.1,333.1 215.0,333.1 216.0,332.7 216.9,332.7 217.9,332.3 219.8,332.3 220.7,331.9 226.4,331.9 227.3,332.3 229.2,332.3 230.1,332.7 231.1,332.3 233.0,332.3 233.9,332.7 235.8,332.7 236.8,333.1 237.7,333.1 238.6,333.5 241.5,333.5 242.4,333.9 243.4,333.5 245.3,333.5 246.2,332.3 247.1,331.9 248.1,331.9 249.0,331.5 250.0,331.9 250.9,331.5 251.9,331.1 252.8,330.7 253.7,329.9 254.7,329.5 255.6,329.1 256.6,328.7 257.5,327.9 258.5,327.5 259.4,327.1 260.4,326.8 261.3,326.8 262.2,326.4 263.2,326.0 264.1,326.0 265.1,325.2 266.0,324.8 267.9,324.8 268.9,324.0 269.8,324.0 270.7,324.4 271.7,324.4 272.6,325.2 273.6,325.6 274.5,326.0 275.5,327.1 276.4,328.3 277.3,330.3 278.3,331.9 279.2,333.9 280.2,335.8 281.1,338.2 282.1,340.6 283.0,342.9 284.0,345.7 284.9,348.5 285.8,351.2 286.8,354.4 287.7,358.0 288.7,361.9 289.6,366.6 290.6,371.0 291.5,375.3 292.5,378.9 293.4,382.1 294.3,385.2 295.3,388.4 296.2,391.1 297.2,393.5 298.1,396.3 299.1,398.6 300.0,401.0 300.9,403.4 301.9,405.8 302.8,407.7 303.8,410.1 304.7,412.1 305.7,413.7 306.6,415.6 307.6,417.6 308.5,419.2 309.4,420.4 310.4,421.9 311.3,423.1 312.3,424.7 313.2,425.9 314.2,427.9 315.1,429.1 316.1,429.9 317.0,431.0 317.9,431.0 318.9,431.8 319.8,432.6 320.8,433.4 321.7,433.4 322.7,434.2 323.6,435.0 324.5,435.8 325.5,436.6 326.4,437.0 327.4,437.8 328.3,438.1 329.3,439.3 330.2,439.7 331.2,440.1 332.1,440.5 333.0,440.9 334.0,442.1 336.8,442.1 337.8,443.3 339.7,443.3 340.6,444.5 342.5,444.5 343.4,445.6 347.2,445.6 348.1,446.8 351.9,446.8 352.9,448.0 357.6,448.0 358.5,449.2 359.5,450.4 366.1,450.4 367.0,451.6 370.8,451.6 371.7,452.8 377.4,452.8 378.4,453.9 385.0,453.9 385.9,455.1 386.9,455.1 387.8,456.3 388.7,456.3" stroke="#c8282d"/>
<path d="M72.5,314.9 73.4,315.3 74.4,315.7 75.3,315.7 76.3,316.1 77.2,316.5 78.2,316.9 79.1,316.9 80.1,317.3 81.0,317.7 82.9,317.7 83.8,318.5 86.7,318.5 87.6,318.1 88.5,318.1 89.5,318.5 90.4,318.5 91.4,318.1 93.3,318.1 94.2,317.7 95.2,317.3 96.1,317.3 97.0,316.9 98.0,316.5 98.9,315.7 99.9,315.3 100.8,315.3 101.8,314.9 102.7,314.9 103.7,314.5 104.6,314.1 105.5,313.7 106.5,313.3 107.4,312.9 108.4,312.5 109.3,311.7 110.3,311.0 111.2,310.6 112.1,309.8 113.1,309.0 114.0,309.0 115.0,308.2 115.9,307.4 116.9,306.6 117.8,305.8 118.8,304.6 119.7,303.8 120.6,303.1 121.6,301.9 122.5,301.1 123.5,299.9 124.4,299.1 125.4,298.3 126.3,297.5 127.3,296.7 128.2,295.9 129.1,294.4 130.1,293.6 131.0,292.8 132.0,292.0 132.9,291.6 133.9,291.2 134.8,290.8 135.7,290.0 136.7,288.8 137.6,288.4 138.6,288.4 139.5,288.0 140.5,288.0 141.4,288.4 142.4,288.4 143.3,288.8 144.2,289.6 145.2,290.0 146.1,290.4 147.1,290.8 148.0,291.6 149.0,292.4 149.9,293.2 150.9,294.0 151.8,294.8 152.7,295.9 153.7,296.7 154.6,297.9 155.6,298.7 156.5,299.5 157.5,300.3 158.4,301.1 159.3,302.7 160.3,303.4 161.2,304.6 162.2,305.4 163.1,305.8 164.1,307.0 165.0,307.8 166.0,309.0 166.9,309.8 167.8,311.0 168.8,312.1 169.7,313.3 170.7,314.9 171.6,316.5 172.6,318.5 173.5,320.0 174.5,320.8 175.4,322.4 176.3,323.6 177.3,324.8 178.2,326.0 179.2,327.5 180.1,328.3 181.1,329.5 182.0,331.1 182.9,331.9 183.9,332.7 184.8,333.1 185.8,333.5 186.7,333.9 187.7,334.7 188.6,335.1 189.6,335.4 190.5,335.8 191.4,336.2 192.4,336.2 193.3,335.8 194.3,335.8 195.2,336.2 196.2,336.2 197.1,336.6 199.9,336.6 200.9,335.8 204.7,335.8 205.6,335.4 206.5,335.4 207.5,335.1 208.4,335.1 209.4,334.7 210.3,334.7 211.3,334.3 212.2,334.7 213.2,334.3 214.1,334.3 215.0,333.9 216.0,334.3 216.9,334.3 217.9,333.9 218.8,333.9 219.8,332.7 222.6,332.7 223.5,333.1 226.4,333.1 227.3,332.7 228.3,332.7 229.2,333.1 230.1,333.1 231.1,333.5 233.0,333.5 233.9,333.9 236.8,333.9 237.7,334.3 238.6,333.9 239.6,333.9 240.5,334.3 241.5,334.3 242.4,334.7 243.4,334.7 244.3,334.3 245.3,334.3 246.2,333.9 247.1,333.5 248.1,333.1 249.0,332.7 250.0,333.5 250.9,333.1 251.9,332.7 252.8,332.3 253.7,331.1 254.7,330.7 255.6,330.3 256.6,329.9 257.5,329.9 258.5,329.5 259.4,329.1 260.4,328.7 261.3,328.3 262.2,327.9 263.2,327.5 264.1,327.5 265.1,327.1 266.0,326.8 270.7,326.8 271.7,327.1 272.6,327.1 273.6,327.5 274.5,328.3 275.5,329.1 276.4,331.5 277.3,333.5 278.3,335.4 279.2,337.4 280.2,339.0 281.1,341.4 282.1,343.7 283.0,346.1 284.0,348.5 284.9,351.2 285.8,354.0 286.8,357.2 287.7,360.3 288.7,364.3 289.6,368.6 290.6,373.0 291.5,377.3 292.5,380.9 293.4,384.0 294.3,386.8 295.3,389.6 296.2,391.9 297.2,394.7 298.1,397.1 299.1,399.8 300.0,402.2 300.9,404.6 301.9,406.9 302.8,408.9 303.8,410.9 304.7,412.9 305.7,414.4 306.6,416.0 307.6,418.0 308.5,419.2 309.4,420.8 310.4,422.7 311.3,423.9 312.3,425.1 313.2,426.7 314.2,427.5 315.1,428.7 316.1,429.9 317.0,430.6 317.9,431.8 318.9,432.6 319.8,433.4 320.8,434.2 321.7,434.6 322.7,435.0 323.6,435.8 324.5,436.6 325.5,437.0 326.4,437.4 327.4,438.1 328.3,438.5 329.3,439.3 330.2,440.1 331.2,440.5 332.1,440.9 334.0,440.9 334.9,442.1 335.9,442.1 336.8,443.3 337.8,443.3 338.7,444.5 340.6,444.5 341.5,445.6 345.3,445.6 346.3,446.8 350.0,446.8 351.0,448.0 355.7,448.0 356.6,449.2 361.4,449.2 362.3,450.4 366.1,450.4 367.0,451.6 370.8,451.6 371.7,452.8 376.5,452.8 377.4,453.9 378.4,452.8 381.2,452.8 382.1,455.1 388.7,455.1" stroke="#5a9e2f"/>
<path d="M72.5,315.3 73.4,315.7 74.4,316.1 75.3,316.5 76.3,316.5 77.2,316.9 78.2,316.9 79.1,317.3 81.0,317.3 81.9,317.7 84.8,317.7 85.7,318.1 86.7,318.1 87.6,318.9 90.4,318.9 91.4,318.1 93.3,318.1 94.2,317.7 95.2,317.7 96.1,317.3 97.0,316.9 98.0,316.9 98.9,316.1 99.9,316.1 100.8,315.7 101.8,315.3 102.7,314.9 103.7,314.5 104.6,314.1 105.5,313.7 106.5,313.7 107.4,313.3 108.4,312.5 109.3,312.1 110.3,311.7 111.2,311.4 112.1,310.6 113.1,309.8 114.0,308.6 115.0,307.8 115.9,307.0 116.9,306.2 117.8,304.6 118.8,303.8 119.7,303.1 120.6,302.3 121.6,301.5 122.5,300.7 123.5,299.9 124.4,298.7 125.4,298.3 126.3,297.5 127.3,296.3 128.2,295.6 129.1,294.0 130.1,293.2 131.0,292.4 132.0,291.6 132.9,292.0 133.9,291.2 134.8,290.8 135.7,290.4 136.7,289.2 137.6,288.8 138.6,288.4 139.5,288.4 140.5,288.8 141.4,288.8 142.4,289.2 143.3,289.6 144.2,289.6 145.2,290.0 146.1,290.4 147.1,291.2 148.0,291.6 149.0,292.4 149.9,293.2 150.9,294.0 151.8,294.8 152.7,295.6 153.7,296.7 154.6,297.5 155.6,299.1 156.5,299.9 157.5,301.1 158.4,301.9 159.3,302.7 160.3,303.4 161.2,304.2 162.2,305.4 163.1,306.6 164.1,307.4 165.0,308.6 166.0,309.8 166.9,310.2 167.8,311.4 168.8,312.5 169.7,313.7 170.7,315.3 171.6,316.9 172.6,318.9 173.5,320.4 174.5,321.6 175.4,322.8 176.3,324.0 177.3,325.6 178.2,327.1 179.2,328.3 180.1,329.5 181.1,330.7 182.0,331.5 182.9,332.3 183.9,332.7 184.8,333.5 185.8,333.5 186.7,334.3 187.7,334.7 188.6,335.1 189.6,335.8 190.5,336.2 191.4,336.2 192.4,336.6 193.3,336.2 194.3,336.6 199.9,336.6 200.9,337.0 202.8,337.0 203.7,336.6 204.7,337.0 205.6,337.0 206.5,336.6 207.5,336.6 208.4,335.8 209.4,335.4 213.2,335.4 214.1,335.1 215.0,335.1 216.0,334.7 216.9,334.3 218.8,334.3 219.8,335.1 221.7,335.1 222.6,334.7 226.4,334.7 227.3,335.1 229.2,335.1 230.1,335.4 231.1,335.1 233.0,335.1 233.9,335.4 234.9,334.7 235.8,335.1 237.7,335.1 238.6,335.4 241.5,335.4 242.4,335.8 244.3,335.8 245.3,335.4 246.2,335.1 247.1,335.1 248.1,334.7 249.0,334.3 250.0,333.9 250.9,333.5 251.9,333.1 252.8,332.7 253.7,332.7 254.7,332.3 255.6,331.9 256.6,331.9 257.5,331.1 258.5,330.7 259.4,330.7 260.4,330.3 261.3,329.9 262.2,329.5 263.2,329.5 264.1,329.1 265.1,329.5 267.9,329.5 268.9,329.1 270.7,329.1 271.7,329.5 272.6,329.5 273.6,329.9 274.5,330.7 275.5,331.9 276.4,333.9 277.3,335.4 278.3,337.8 279.2,339.8 280.2,341.8 281.1,344.1 282.1,346.5 283.0,348.9 284.0,351.2 284.9,354.0 285.8,356.8 286.8,359.5 287.7,363.1 288.7,367.0 289.6,371.0 290.6,375.3 291.5,378.9 292.5,382.1 293.4,385.2 294.3,388.0 295.3,391.1 296.2,393.9 297.2,396.3 298.1,398.6 299.1,401.0 300.0,403.4 300.9,405.8 301.9,408.1 302.8,410.5 303.8,412.5 304.7,414.4 305.7,416.4 306.6,417.2 307.6,418.8 308.5,420.4 309.4,421.9 310.4,423.5 311.3,424.7 312.3,426.3 313.2,427.5 314.2,428.7 315.1,429.5 316.1,430.6 317.0,431.4 317.9,431.4 318.9,432.2 319.8,433.0 320.8,433.8 321.7,434.6 322.7,435.4 323.6,435.8 324.5,436.6 325.5,437.8 326.4,438.5 327.4,438.9 328.3,439.7 329.3,439.3 330.2,439.7 331.2,440.1 332.1,440.5 333.0,440.9 334.0,442.1 335.9,442.1 336.8,443.3 338.7,443.3 339.7,444.5 343.4,444.5 344.4,445.6 345.3,446.8 349.1,446.8 350.0,448.0 353.8,448.0 354.8,449.2 362.3,449.2 363.3,450.4 365.1,450.4 366.1,451.6 370.8,451.6 371.7,452.8 377.4,452.8 378.4,453.9 385.0,453.9 385.9,455.1 387.8,455.1 388.7,456.3" stroke="#7a4aa3"/>
<path d="M72.5,315.3 73.4,315.7 74.4,315.7 75.3,316.1 76.3,316.9 77.2,316.9 78.2,317.3 79.1,317.7 80.1,317.3 81.0,317.7 86.7,317.7 87.6,318.5 88.5,318.9 90.4,318.9 91.4,318.5 92.3,318.5 93.3,318.1 94.2,318.1 95.2,317.3 96.1,316.9 97.0,316.9 98.0,316.5 98.9,316.9 99.9,316.5 100.8,316.1 101.8,315.7 102.7,315.7 103.7,315.3 104.6,314.9 105.5,314.1 106.5,313.7 107.4,313.3 108.4,312.9 109.3,312.5 110.3,311.4 111.2,311.0 112.1,310.2 113.1,309.4 114.0,308.6 115.0,307.8 115.9,307.0 116.9,306.2 117.8,305.4 118.8,304.6 119.7,303.4 120.6,302.7 121.6,301.9 122.5,300.7 123.5,299.9 124.4,299.1 125.4,297.9 126.3,297.1 127.3,296.3 128.2,295.2 129.1,294.4 130.1,293.6 131.0,292.8 132.0,292.0 132.9,292.0 133.9,291.6 134.8,291.2 135.7,290.4 136.7,289.6 137.6,289.2 138.6,288.8 141.4,288.8 142.4,289.2 143.3,289.2 144.2,289.6 145.2,290.0 146.1,290.4 147.1,290.8 148.0,291.6 149.0,292.4 149.9,293.2 150.9,294.4 151.8,295.2 152.7,296.3 153.7,297.1 154.6,298.3 155.6,299.1 156.5,299.9 157.5,300.7 158.4,301.9 159.3,303.1 160.3,303.8 161.2,305.0 162.2,305.8 163.1,306.2 164.1,307.4 165.0,308.2 166.0,309.4 166.9,310.6 167.8,311.7 168.8,312.9 169.7,314.1 170.7,315.3 171.6,316.9 172.6,318.9 173.5,320.4 174.5,322.4 175.4,323.6 176.3,324.8 177.3,326.4 178.2,327.1 179.2,328.3 180.1,329.5 181.1,330.7 182.0,331.9 182.9,332.7 183.9,333.5 184.8,334.3 185.8,334.7 186.7,335.1 187.7,335.8 188.6,336.2 189.6,335.8 190.5,336.2 191.4,336.6 192.4,336.6 193.3,337.4 199.9,337.4 200.9,337.8 203.7,337.8 204.7,337.4 205.6,337.0 207.5,337.0 208.4,337.4 209.4,337.4 210.3,337.0 211.3,337.0 212.2,336.6 213.2,336.6 214.1,336.2 216.0,336.2 216.9,335.8 218.8,335.8 219.8,335.4 221.7,335.4 222.6,335.1 223.5,335.4 227.3,335.4 228.3,335.8 233.9,335.8 234.9,336.2 235.8,336.2 236.8,336.6 244.3,336.6 245.3,336.2 246.2,336.6 247.1,336.2 248.1,335.8 249.0,335.8 250.0,335.4 250.9,335.1 251.9,334.7 252.8,334.7 253.7,333.9 254.7,333.5 255.6,333.5 256.6,333.1 257.5,333.1 258.5,332.7 259.4,332.3 260.4,332.3 261.3,331.5 262.2,331.5 263.2,331.1 264.1,331.1 265.1,330.7 266.0,330.3 267.0,330.3 267.9,330.7 269.8,330.7 270.7,331.1 271.7,331.5 272.6,332.3 273.6,333.1 274.5,333.9 275.5,334.7 276.4,336.6 277.3,338.2 278.3,340.6 279.2,342.6 280.2,344.5 281.1,346.9 282.1,349.3 283.0,351.6 284.0,354.0 284.9,356.4 285.8,359.1 286.8,361.9 287.7,365.1 288.7,368.6 289.6,372.6 290.6,376.9 291.5,381.3 292.5,384.4 293.4,387.6 294.3,390.4 295.3,392.7 296.2,395.1 297.2,397.5 298.1,399.8 299.1,401.8 300.0,404.2 300.9,406.1 301.9,408.1 302.8,410.5 303.8,412.5 304.7,414.4 305.7,416.0 306.6,417.6 307.6,419.2 308.5,420.8 309.4,422.3 310.4,423.1 311.3,424.3 312.3,425.5 313.2,426.7 314.2,427.9 315.1,429.1 316.1,429.9 317.0,431.0 317.9,431.8 318.9,432.6 319.8,433.4 320.8,434.2 321.7,435.0 322.7,435.8 323.6,436.2 324.5,437.0 325.5,437.8 326.4,438.5 327.4,438.9 328.3,439.3 329.3,439.7 330.2,440.1 331.2,440.5 332.1,440.9 333.0,442.1 334.9,442.1 335.9,443.3 338.7,443.3 339.7,444.5 341.5,444.5 342.5,445.6 346.3,445.6 347.2,446.8 350.0,446.8 351.0,448.0 357.6,448.0 358.5,449.2 361.4,449.2 362.3,450.4 364.2,450.4 365.1,451.6 369.9,451.6 370.8,452.8 376.5,452.8 377.4,453.9 378.4,452.8 379.3,453.9 384.0,453.9 385.0,455.1 387.8,455.1 388.7,456.3" stroke="#4fb0cc"/>
<path d="M72.5,315.7 73.4,316.1 74.4,316.5 75.3,316.9 76.3,316.9 77.2,317.3 78.2,317.7 80.1,317.7 81.0,318.1 81.9,318.1 82.9,318.5 83.8,317.7 84.8,317.7 85.7,318.1 86.7,318.1 87.6,318.9 90.4,318.9 91.4,318.1 93.3,318.1 94.2,317.7 95.2,317.3 96.1,317.3 97.0,316.9 98.0,316.5 98.9,316.9 99.9,316.5 100.8,316.1 101.8,315.7 102.7,315.3 103.7,314.9 104.6,314.5 105.5,314.1 106.5,313.7 107.4,313.3 108.4,312.9 109.3,312.1 110.3,311.7 111.2,311.0 112.1,310.2 113.1,309.8 114.0,308.6 115.0,307.8 115.9,307.0 116.9,306.2 117.8,305.4 118.8,304.6 119.7,303.4 120.6,302.7 121.6,301.5 122.5,300.7 123.5,299.9 124.4,298.7 125.4,297.9 126.3,297.1 127.3,296.3 128.2,295.6 129.1,294.8 130.1,294.0 131.0,293.2 132.0,292.4 132.9,291.6 133.9,291.2 134.8,290.4 135.7,290.0 136.7,289.6 137.6,289.2 138.6,288.8 142.4,288.8 143.3,289.2 144.2,290.0 145.2,290.4 146.1,291.2 147.1,291.6 148.0,291.6 149.0,292.4 149.9,293.2 150.9,294.0 151.8,295.2 152.7,296.3 153.7,297.1 154.6,297.9 155.6,299.1 156.5,300.3 157.5,301.1 158.4,301.9 159.3,301.9 160.3,303.1 161.2,303.8 162.2,304.6 163.1,306.6 164.1,307.8 165.0,308.6 166.0,309.8 166.9,311.0 167.8,311.7 168.8,313.3 169.7,314.5 170.7,315.7 171.6,317.3 172.6,318.9 173.5,320.4 174.5,322.8 175.4,324.0 176.3,325.6 177.3,326.8 178.2,327.5 179.2,329.1 180.1,330.3 181.1,331.1 182.0,332.3 182.9,333.5 183.9,333.9 184.8,334.7 185.8,335.1 186.7,335.4 187.7,336.2 188.6,336.6 189.6,336.6 190.5,337.0 191.4,337.4 193.3,337.4 194.3,337.8 204.7,337.8 205.6,337.4 214.1,337.4 215.0,337.0 216.0,336.6 217.9,336.6 218.8,336.2 219.8,337.0 220.7,336.6 225.4,336.6 226.4,337.0 227.3,336.2 228.3,336.2 229.2,336.6 230.1,336.6 231.1,337.0 233.9,337.0 234.9,337.4 235.8,337.4 236.8,337.8 244.3,337.8 245.3,337.4 246.2,338.2 247.1,337.8 248.1,337.4 249.0,337.4 250.0,336.6 250.9,336.2 251.9,336.2 252.8,335.8 253.7,335.8 254.7,335.4 255.6,335.4 256.6,335.1 257.5,334.3 258.5,334.3 259.4,333.9 260.4,333.5 262.2,333.5 263.2,333.1 264.1,333.1 265.1,332.3 267.0,332.3 267.9,332.7 268.9,333.1 269.8,333.1 270.7,333.5 271.7,333.9 272.6,334.7 273.6,335.4 274.5,336.2 275.5,337.4 276.4,338.6 277.3,340.6 278.3,342.9 279.2,344.9 280.2,347.7 281.1,350.1 282.1,352.4 283.0,354.8 284.0,356.8 284.9,359.1 285.8,361.5 286.8,364.7 287.7,367.4 288.7,371.0 289.6,374.9 290.6,379.3 291.5,382.8 292.5,386.0 293.4,389.2 294.3,391.5 295.3,394.7 296.2,397.1 297.2,399.4 298.1,401.4 299.1,403.0 300.0,405.4 300.9,407.3 301.9,409.3 302.8,411.3 303.8,413.3 304.7,414.8 305.7,416.4 306.6,418.4 307.6,419.6 308.5,421.2 309.4,422.3 310.4,423.5 311.3,424.7 312.3,426.3 313.2,427.5 314.2,429.1 315.1,430.2 316.1,431.0 317.0,432.2 317.9,432.2 318.9,433.0 319.8,433.8 320.8,434.6 321.7,435.4 322.7,436.2 323.6,437.0 324.5,437.4 325.5,437.8 326.4,438.1 327.4,438.9 328.3,439.3 329.3,439.7 330.2,440.1 331.2,440.9 333.0,440.9 334.0,442.1 335.9,442.1 336.8,443.3 337.8,443.3 338.7,444.5 341.5,444.5 342.5,445.6 344.4,445.6 345.3,446.8 348.1,446.8 349.1,448.0 354.8,448.0 355.7,449.2 358.5,449.2 359.5,450.4 365.1,450.4 366.1,451.6 373.6,451.6 374.6,452.8 379.3,452.8 380.2,453.9 381.2,453.9 382.1,455.1 388.7,455.1" stroke="#f6a05a"/>
<path d="M72.5,315.3 73.4,315.7 74.4,316.1 75.3,316.5 76.3,316.9 77.2,316.9 78.2,317.3 79.1,317.7 80.1,317.3 81.9,317.3 82.9,317.7 83.8,317.7 84.8,318.1 86.7,318.1 87.6,318.5 88.5,318.9 92.3,318.9 93.3,318.5 94.2,318.5 95.2,317.3 96.1,316.9 97.0,316.9 98.0,316.5 98.9,316.9 99.9,316.5 100.8,316.5 101.8,316.1 102.7,314.9 103.7,314.5 104.6,314.1 105.5,313.7 106.5,313.3 107.4,312.5 108.4,312.1 109.3,311.7 110.3,311.7 111.2,311.4 112.1,310.6 113.1,309.8 114.0,308.6 115.0,307.8 115.9,307.0 116.9,306.2 117.8,305.4 118.8,304.6 119.7,303.8 120.6,302.7 121.6,301.9 122.5,300.7 123.5,299.9 124.4,299.1 125.4,298.3 126.3,297.5 127.3,296.7 128.2,295.6 129.1,294.4 130.1,293.6 131.0,292.8 132.0,292.0 132.9,291.6 133.9,291.2 134.8,290.4 135.7,290.0 136.7,289.6 137.6,289.2 138.6,288.8 139.5,288.8 140.5,288.4 141.4,288.4 142.4,288.8 143.3,289.2 144.2,290.0 145.2,290.4 146.1,290.8 147.1,291.2 148.0,292.0 149.0,292.8 149.9,293.6 150.9,294.4 151.8,294.8 152.7,295.6 153.7,296.7 154.6,297.5 155.6,299.5 156.5,300.3 157.5,301.1 158.4,301.9 159.3,303.1 160.3,303.8 161.2,304.6 162.2,305.8 163.1,306.6 164.1,307.4 165.0,308.6 166.0,309.8 166.9,311.0 167.8,312.1 168.8,313.3 169.7,314.9 170.7,316.5 171.6,318.1 172.6,320.0 173.5,321.6 174.5,322.0 175.4,323.6 176.3,324.8 177.3,326.4 178.2,327.9 179.2,329.1 180.1,330.7 181.1,331.5 182.0,332.7 182.9,333.5 183.9,334.3 184.8,334.7 185.8,335.4 186.7,335.8 187.7,336.2 188.6,336.6 189.6,337.4 190.5,337.8 191.4,337.8 192.4,338.2 193.3,338.6 195.2,338.6 196.2,339.0 197.1,338.6 199.9,338.6 200.9,338.2 203.7,338.2 204.7,338.6 206.5,338.6 207.5,338.2 211.3,338.2 212.2,338.6 215.0,338.6 216.0,337.8 218.8,337.8 219.8,338.2 222.6,338.2 223.5,337.4 225.4,337.4 226.4,337.8 227.3,338.2 232.0,338.2 233.0,338.6 235.8,338.6 236.8,339.0 237.7,339.0 238.6,339.4 241.5,339.4 242.4,339.8 243.4,339.8 244.3,339.4 245.3,339.4 246.2,338.6 247.1,338.6 248.1,338.2 249.0,337.8 250.0,338.2 250.9,338.2 251.9,337.8 252.8,337.4 253.7,337.0 254.7,337.0 255.6,336.6 256.6,336.6 257.5,336.2 258.5,335.8 259.4,335.8 260.4,335.4 261.3,335.4 262.2,335.1 264.1,335.1 265.1,334.7 267.0,334.7 267.9,335.1 269.8,335.1 270.7,335.4 271.7,335.8 272.6,336.6 273.6,337.4 274.5,338.2 275.5,339.4 276.4,341.0 277.3,342.9 278.3,345.3 279.2,347.7 280.2,350.1 281.1,352.4 282.1,354.8 283.0,357.2 284.0,359.1 284.9,361.5 285.8,363.9 286.8,366.6 287.7,370.6 288.7,373.8 289.6,377.7 290.6,382.1 291.5,384.8 292.5,388.0 293.4,390.7 294.3,393.1 295.3,395.9 296.2,398.2 297.2,400.2 298.1,402.2 299.1,404.6 300.0,406.5 300.9,408.5 301.9,410.5 302.8,412.1 303.8,414.1 304.7,415.6 305.7,417.2 306.6,419.2 307.6,420.4 308.5,421.9 309.4,423.1 310.4,424.3 311.3,425.5 312.3,426.7 313.2,427.9 314.2,428.7 315.1,429.9 316.1,430.6 317.0,431.8 317.9,433.4 318.9,434.2 319.8,435.0 320.8,435.8 321.7,435.8 322.7,436.2 323.6,437.0 324.5,437.4 325.5,437.4 326.4,438.1 327.4,438.5 328.3,438.9 329.3,439.7 330.2,440.1 331.2,440.9 333.0,440.9 334.0,442.1 335.9,442.1 336.8,443.3 337.8,443.3 338.7,444.5 339.7,444.5 340.6,445.6 344.4,445.6 345.3,446.8 351.0,446.8 351.9,448.0 354.8,448.0 355.7,449.2 360.4,449.2 361.4,450.4 366.1,450.4 367.0,451.6 371.7,451.6 372.7,452.8 373.6,452.8 374.6,451.6 375.5,452.8 381.2,452.8 382.1,453.9 383.1,453.9 384.0,455.1 385.0,455.1 385.9,453.9 386.9,455.1 388.7,455.1" stroke="#7fa8d6"/>
<path d="M72.5,316.1 73.4,316.5 74.4,316.9 75.3,317.3 76.3,316.5 77.2,316.9 78.2,316.9 79.1,317.3 80.1,317.7 81.0,318.1 82.9,318.1 83.8,317.7 85.7,317.7 86.7,318.1 87.6,318.5 93.3,318.5 94.2,318.1 95.2,318.5 96.1,318.1 97.0,318.1 98.0,317.7 98.9,316.5 99.9,316.1 100.8,315.7 101.8,315.3 102.7,315.7 103.7,315.3 104.6,314.9 105.5,314.5 106.5,313.7 107.4,313.3 108.4,312.9 109.3,312.1 110.3,312.1 111.2,311.7 112.1,311.0 113.1,310.2 114.0,308.6 115.0,307.8 115.9,307.0 116.9,306.2 117.8,305.0 118.8,304.2 119.7,303.4 120.6,302.7 121.6,302.3 122.5,301.1 123.5,300.3 124.4,299.5 125.4,298.3 126.3,297.5 127.3,296.7 128.2,295.9 129.1,294.8 130.1,294.0 131.0,293.2 132.0,292.4 132.9,291.6 133.9,290.8 134.8,290.4 135.7,290.0 136.7,289.6 137.6,289.2 138.6,288.8 139.5,288.8 140.5,288.4 141.4,288.4 142.4,288.8 143.3,288.8 144.2,290.0 145.2,290.4 146.1,290.8 147.1,291.2 148.0,292.0 149.0,292.8 149.9,293.6 150.9,294.4 151.8,295.6 152.7,296.3 153.7,297.5 154.6,298.3 155.6,299.9 156.5,300.7 157.5,301.9 158.4,302.7 159.3,303.1 160.3,303.8 161.2,305.0 162.2,305.8 163.1,306.2 164.1,307.4 165.0,308.6 166.0,309.4 166.9,311.0 167.8,312.1 168.8,313.3 169.7,314.5 170.7,316.5 171.6,318.1 172.6,319.6 173.5,321.6 174.5,322.8 175.4,324.0 176.3,325.6 177.3,326.8 178.2,328.7 179.2,329.9 180.1,331.1 181.1,332.3 182.0,332.7 182.9,333.9 183.9,334.7 184.8,335.1 185.8,335.4 186.7,336.2 187.7,336.6 188.6,337.0 189.6,337.4 190.5,337.8 191.4,337.8 192.4,338.2 193.3,339.0 195.2,339.0 196.2,339.4 197.1,339.0 199.0,339.0 199.9,339.4 200.9,339.0 203.7,339.0 204.7,339.8 205.6,339.4 207.5,339.4 208.4,339.0 211.3,339.0 212.2,339.8 214.1,339.8 215.0,339.4 216.0,339.8 216.9,339.4 218.8,339.4 219.8,338.6 222.6,338.6 223.5,339.0 228.3,339.0 229.2,339.4 230.1,339.4 231.1,339.8 234.9,339.8 235.8,340.2 237.7,340.2 238.6,339.8 239.6,340.2 241.5,340.2 242.4,339.8 244.3,339.8 245.3,339.4 246.2,340.2 247.1,339.8 248.1,339.8 249.0,339.4 250.0,339.8 250.9,339.4 251.9,339.0 252.8,339.0 253.7,337.8 254.7,337.8 255.6,337.4 257.5,337.4 258.5,337.0 260.4,337.0 261.3,336.6 262.2,336.6 263.2,336.2 264.1,336.2 265.1,336.6 267.0,336.6 267.9,337.0 268.9,336.6 269.8,337.0 270.7,337.4 271.7,337.8 272.6,339.0 273.6,339.8 274.5,340.6 275.5,341.8 276.4,343.3 277.3,345.3 278.3,347.7 279.2,350.1 280.2,353.6 281.1,356.0 282.1,358.0 283.0,360.3 284.0,362.3 284.9,364.3 285.8,367.0 286.8,369.4 287.7,372.6 288.7,375.7 289.6,379.7 290.6,383.6 291.5,387.2 292.5,390.0 293.4,392.7 294.3,395.1 295.3,397.1 296.2,399.0 297.2,401.0 298.1,403.0 299.1,405.4 300.0,407.3 300.9,409.3 301.9,411.3 302.8,412.5 303.8,414.1 304.7,416.0 305.7,417.6 306.6,420.0 307.6,421.2 308.5,422.7 309.4,423.9 310.4,425.1 311.3,426.3 312.3,427.5 313.2,428.7 314.2,429.5 315.1,430.6 316.1,431.4 317.0,432.2 317.9,433.4 318.9,434.2 319.8,435.0 320.8,435.4 321.7,435.8 322.7,436.2 323.6,437.0 324.5,437.4 325.5,438.1 326.4,438.5 327.4,438.9 328.3,439.7 329.3,440.5 330.2,440.9 331.2,440.9 332.1,442.1 333.0,440.9 334.0,442.1 335.9,442.1 336.8,443.3 337.8,443.3 338.7,444.5 341.5,444.5 342.5,445.6 344.4,445.6 345.3,446.8 347.2,446.8 348.1,448.0 353.8,448.0 354.8,449.2 359.5,449.2 360.4,450.4 366.1,450.4 367.0,451.6 368.9,451.6 369.9,452.8 374.6,452.8 375.5,453.9 377.4,453.9 378.4,452.8 379.3,452.8 380.2,453.9 383.1,453.9 384.0,455.1 388.7,455.1" stroke="#e58a86"/>
<path d="M72.5,315.7 73.4,316.1 74.4,316.5 75.3,316.9 77.2,316.9 78.2,317.3 79.1,317.7 80.1,318.5 81.0,318.5 81.9,318.9 82.9,318.9 83.8,318.1 85.7,318.1 86.7,318.5 87.6,318.5 88.5,318.9 90.4,318.9 91.4,318.5 93.3,318.5 94.2,318.1 95.2,317.7 96.1,317.3 97.0,317.3 98.0,316.9 98.9,316.9 99.9,316.5 100.8,316.5 101.8,316.1 102.7,315.7 103.7,315.3 104.6,314.9 105.5,314.5 106.5,313.7 107.4,312.9 108.4,312.5 109.3,312.1 110.3,311.7 111.2,311.0 112.1,310.2 113.1,309.8 114.0,309.0 115.0,308.2 115.9,307.4 116.9,306.6 117.8,305.4 118.8,304.6 119.7,303.8 120.6,302.7 121.6,302.3 122.5,301.1 123.5,300.3 124.4,299.5 125.4,298.3 126.3,297.5 127.3,296.7 128.2,295.6 129.1,294.8 130.1,294.0 131.0,292.8 132.0,292.4 132.9,292.0 133.9,291.2 134.8,290.8 135.7,290.4 136.7,289.2 137.6,288.8 138.6,288.4 139.5,288.4 140.5,289.2 141.4,289.6 142.4,289.6 143.3,290.0 144.2,290.0 145.2,290.4 146.1,290.8 147.1,291.2 148.0,291.2 149.0,292.0 149.9,292.8 150.9,294.0 151.8,295.6 152.7,296.3 153.7,297.5 154.6,298.3 155.6,299.9 156.5,300.7 157.5,301.5 158.4,302.3 159.3,302.7 160.3,303.4 161.2,304.2 162.2,305.4 163.1,306.6 164.1,307.8 165.0,308.6 166.0,309.8 166.9,311.4 167.8,312.5 168.8,313.7 169.7,315.3 170.7,316.1 171.6,317.7 172.6,319.6 173.5,321.2 174.5,323.2 175.4,324.8 176.3,326.0 177.3,327.5 178.2,328.7 179.2,330.3 180.1,331.5 181.1,332.7 182.0,333.1 182.9,334.3 183.9,335.1 184.8,335.4 185.8,336.2 186.7,336.6 187.7,337.4 188.6,337.8 189.6,338.2 190.5,338.6 191.4,339.0 192.4,339.0 193.3,339.4 194.3,339.4 195.2,339.8 196.2,339.8 197.1,340.2 199.0,340.2 199.9,340.6 200.9,340.2 207.5,340.2 208.4,339.8 211.3,339.8 212.2,340.2 215.0,340.2 216.0,340.6 222.6,340.6 223.5,340.2 226.4,340.2 227.3,339.8 228.3,339.8 229.2,340.2 230.1,340.2 231.1,340.6 233.9,340.6 234.9,341.4 237.7,341.4 238.6,341.0 241.5,341.0 242.4,341.8 245.3,341.8 246.2,341.0 247.1,340.6 248.1,340.6 249.0,340.2 250.0,340.6 250.9,340.2 251.9,340.2 252.8,339.8 253.7,339.4 254.7,339.4 255.6,339.0 257.5,339.0 258.5,338.6 267.0,338.6 267.9,339.0 268.9,339.8 269.8,340.2 270.7,340.6 271.7,341.0 272.6,341.4 273.6,342.2 274.5,342.9 275.5,344.1 276.4,345.7 277.3,347.7 278.3,350.5 279.2,352.8 280.2,354.4 281.1,356.8 282.1,359.1 283.0,361.5 284.0,364.7 284.9,366.6 285.8,369.0 286.8,371.8 287.7,374.6 288.7,377.7 289.6,381.3 290.6,385.2 291.5,389.2 292.5,391.9 293.4,394.7 294.3,396.7 295.3,398.2 296.2,400.2 297.2,402.2 298.1,404.2 299.1,406.9 300.0,408.9 300.9,410.5 301.9,412.5 302.8,414.1 303.8,415.6 304.7,417.2 305.7,418.8 306.6,420.0 307.6,421.6 308.5,422.7 309.4,423.9 310.4,425.9 311.3,427.1 312.3,428.3 313.2,429.1 314.2,429.5 315.1,430.2 316.1,431.4 317.0,432.2 317.9,433.0 318.9,433.8 319.8,434.6 320.8,435.0 321.7,436.2 322.7,437.0 323.6,437.4 324.5,438.1 325.5,438.5 326.4,439.3 327.4,439.7 328.3,440.1 329.3,440.9 330.2,440.9 331.2,442.1 333.0,442.1 334.0,443.3 337.8,443.3 338.7,444.5 341.5,444.5 342.5,445.6 345.3,445.6 346.3,446.8 350.0,446.8 351.0,448.0 353.8,448.0 354.8,449.2 358.5,449.2 359.5,450.4 368.0,450.4 368.9,451.6 373.6,451.6 374.6,452.8 376.5,452.8 377.4,453.9 385.9,453.9 386.9,455.1 388.7,455.1" stroke="#a9c98a"/>
<path d="M72.5,315.7 73.4,316.1 74.4,316.5 76.3,316.5 77.2,316.9 78.2,317.3 79.1,317.3 80.1,318.1 81.0,318.1 81.9,318.5 82.9,318.5 83.8,318.1 84.8,318.5 86.7,318.5 87.6,318.9 90.4,318.9 91.4,318.1 92.3,318.1 93.3,317.7 94.2,317.7 95.2,318.1 96.1,317.7 97.0,317.3 98.0,317.3 98.9,316.9 99.9,316.9 100.8,316.5 101.8,316.1 102.7,315.7 103.7,315.3 104.6,314.9 105.5,314.5 106.5,313.7 107.4,312.9 108.4,312.5 109.3,312.1 110.3,311.4 111.2,311.0 112.1,310.2 113.1,309.4 114.0,309.4 115.0,308.6 115.9,307.8 116.9,306.6 117.8,305.4 118.8,304.6 119.7,303.8 120.6,302.7 121.6,302.3 122.5,301.5 123.5,300.7 124.4,299.9 125.4,298.7 126.3,297.9 127.3,297.1 128.2,295.9 129.1,295.6 130.1,294.4 131.0,293.6 132.0,292.8 132.9,292.4 133.9,291.6 134.8,291.2 135.7,290.8 136.7,290.0 137.6,289.6 138.6,289.2 141.4,289.2 142.4,289.6 143.3,290.0 144.2,289.6 145.2,290.4 146.1,290.8 147.1,291.2 148.0,291.6 149.0,292.4 149.9,293.2 150.9,294.4 151.8,295.6 152.7,296.3 153.7,297.5 154.6,298.7 155.6,299.9 156.5,300.7 157.5,301.5 158.4,302.3 159.3,302.7 160.3,303.8 161.2,304.6 162.2,305.8 163.1,307.4 164.1,308.6 165.0,309.8 166.0,310.6 166.9,311.7 167.8,312.9 168.8,314.1 169.7,315.7 170.7,316.5 171.6,318.1 172.6,319.6 173.5,321.6 174.5,323.2 175.4,324.4 176.3,326.0 177.3,327.1 178.2,328.3 179.2,329.9 180.1,331.1 181.1,332.3 182.0,333.5 182.9,334.7 183.9,335.4 184.8,335.8 185.8,337.0 186.7,337.4 187.7,337.8 188.6,338.2 189.6,338.6 190.5,339.0 191.4,339.4 193.3,339.4 194.3,339.8 195.2,339.8 196.2,340.2 197.1,340.6 198.1,340.6 199.0,341.0 203.7,341.0 204.7,341.4 211.3,341.4 212.2,341.0 218.8,341.0 219.8,341.4 220.7,341.4 221.7,341.8 233.9,341.8 234.9,342.6 241.5,342.6 242.4,343.3 243.4,343.3 244.3,342.9 245.3,342.9 246.2,342.6 247.1,342.6 248.1,342.2 249.0,342.2 250.0,341.4 250.9,341.4 251.9,341.0 252.8,341.0 253.7,340.6 256.6,340.6 257.5,341.0 259.4,341.0 260.4,340.6 264.1,340.6 265.1,340.2 266.0,340.6 267.0,340.6 267.9,341.0 268.9,341.8 269.8,342.2 270.7,342.6 271.7,342.9 272.6,343.7 273.6,344.5 274.5,345.7 275.5,346.9 276.4,348.5 277.3,350.5 278.3,353.2 279.2,355.6 280.2,358.4 281.1,360.7 282.1,363.1 283.0,365.1 284.0,367.0 284.9,369.4 285.8,371.4 286.8,374.2 287.7,376.9 288.7,379.7 289.6,383.2 290.6,387.2 291.5,391.1 292.5,393.9 293.4,396.3 294.3,398.2 295.3,400.2 296.2,402.2 297.2,403.8 298.1,405.8 299.1,407.7 300.0,409.3 300.9,411.3 301.9,412.9 302.8,414.8 303.8,416.8 304.7,418.4 305.7,419.6 306.6,421.2 307.6,422.3 308.5,423.5 309.4,425.1 310.4,425.5 311.3,426.7 312.3,427.9 313.2,429.1 314.2,430.6 315.1,431.8 316.1,432.6 317.0,433.4 317.9,433.4 318.9,434.2 319.8,434.6 320.8,435.4 321.7,436.2 322.7,437.0 323.6,437.4 324.5,438.1 325.5,438.5 326.4,439.3 327.4,439.7 328.3,440.1 329.3,440.5 330.2,440.9 331.2,440.9 332.1,442.1 334.0,442.1 334.9,443.3 337.8,443.3 338.7,444.5 339.7,444.5 340.6,445.6 344.4,445.6 345.3,446.8 349.1,446.8 350.0,448.0 351.0,448.0 351.9,446.8 352.9,448.0 355.7,448.0 356.6,449.2 358.5,449.2 359.5,450.4 365.1,450.4 366.1,451.6 371.7,451.6 372.7,452.8 381.2,452.8 382.1,455.1 388.7,455.1" stroke="#c0b0d8"/>
<path d="M72.5,316.1 73.4,316.1 74.4,316.5 75.3,316.9 76.3,317.3 77.2,317.3 78.2,317.7 79.1,318.1 81.9,318.1 82.9,318.5 83.8,318.1 84.8,318.5 86.7,318.5 87.6,319.2 90.4,319.2 91.4,318.5 92.3,318.5 93.3,318.1 96.1,318.1 97.0,317.7 98.0,317.3 98.9,316.5 99.9,316.5 100.8,316.1 101.8,315.7 102.7,315.7 103.7,315.3 104.6,314.9 105.5,314.1 106.5,313.7 107.4,312.9 108.4,312.5 109.3,312.1 110.3,311.7 111.2,311.0 112.1,310.2 113.1,309.8 114.0,308.6 115.0,307.8 115.9,307.0 116.9,306.2 117.8,305.4 118.8,304.6 119.7,303.8 120.6,303.1 121.6,302.3 122.5,301.5 123.5,300.7 124.4,299.5 125.4,298.3 126.3,297.5 127.3,296.7 128.2,295.6 129.1,294.8 130.1,294.0 131.0,293.2 132.0,292.4 132.9,291.2 133.9,290.8 134.8,290.0 135.7,289.6 136.7,290.4 137.6,290.0 138.6,289.6 139.5,289.6 140.5,289.2 142.4,289.2 143.3,289.6 144.2,289.6 145.2,290.0 146.1,290.4 147.1,291.2 148.0,292.4 149.0,293.2 149.9,294.0 150.9,294.8 151.8,295.6 152.7,296.7 153.7,297.5 154.6,298.7 155.6,298.7 156.5,299.9 157.5,300.7 158.4,301.5 159.3,302.7 160.3,303.8 161.2,304.6 162.2,305.8 163.1,307.4 164.1,308.2 165.0,309.4 166.0,310.6 166.9,311.0 167.8,312.1 168.8,313.3 169.7,314.9 170.7,316.5 171.6,318.1 172.6,320.0 173.5,321.6 174.5,323.2 175.4,324.8 176.3,326.0 177.3,327.5 178.2,329.1 179.2,330.3 180.1,331.5 181.1,332.7 182.0,333.9 182.9,334.7 183.9,335.4 184.8,336.2 185.8,337.0 186.7,337.8 187.7,338.2 188.6,338.6 189.6,339.0 190.5,339.4 191.4,339.8 193.3,339.8 194.3,340.2 195.2,340.2 196.2,340.6 197.1,341.0 198.1,341.0 199.0,341.4 199.9,341.4 200.9,341.0 203.7,341.0 204.7,341.8 207.5,341.8 208.4,342.6 211.3,342.6 212.2,342.2 222.6,342.2 223.5,342.6 226.4,342.6 227.3,342.9 229.2,342.9 230.1,343.3 231.1,342.6 233.0,342.6 233.9,342.9 234.9,343.3 235.8,343.7 237.7,343.7 238.6,343.3 241.5,343.3 242.4,343.7 247.1,343.7 248.1,343.3 249.0,343.3 250.0,342.6 250.9,342.2 252.8,342.2 253.7,342.9 256.6,342.9 257.5,342.6 259.4,342.6 260.4,342.2 261.3,341.8 263.2,341.8 264.1,342.2 265.1,342.6 266.0,342.6 267.0,342.9 267.9,343.3 268.9,343.3 269.8,343.7 270.7,344.1 271.7,344.9 272.6,346.1 273.6,346.9 274.5,348.1 275.5,349.3 276.4,351.2 277.3,353.2 278.3,356.0 279.2,358.8 280.2,360.7 281.1,363.1 282.1,365.5 283.0,367.4 284.0,370.2 284.9,372.2 285.8,374.6 286.8,376.9 287.7,379.3 288.7,382.1 289.6,385.6 290.6,389.6 291.5,393.1 292.5,395.9 293.4,397.9 294.3,400.2 295.3,401.8 296.2,403.8 297.2,405.4 298.1,406.9 299.1,408.5 300.0,410.1 300.9,412.1 301.9,413.7 302.8,415.2 303.8,416.8 304.7,418.4 305.7,420.0 306.6,421.2 307.6,422.7 308.5,423.9 309.4,425.1 310.4,426.7 311.3,427.9 312.3,428.7 313.2,429.9 314.2,430.6 315.1,431.4 316.1,432.2 317.0,433.0 317.9,434.6 318.9,435.0 319.8,435.8 320.8,436.6 321.7,436.6 322.7,437.4 323.6,437.8 324.5,438.5 325.5,438.9 326.4,439.3 327.4,440.1 328.3,440.5 329.3,440.9 330.2,442.1 333.0,442.1 334.0,443.3 335.9,443.3 336.8,444.5 338.7,444.5 339.7,445.6 346.3,445.6 347.2,446.8 350.0,446.8 351.0,448.0 354.8,448.0 355.7,449.2 361.4,449.2 362.3,450.4 368.0,450.4 368.9,451.6 373.6,451.6 374.6,452.8 377.4,452.8 378.4,453.9 383.1,453.9 384.0,455.1 385.0,455.1 385.9,456.3 388.7,456.3" stroke="#f4c3a0"/>
<path d="M72.5,315.7 73.4,316.1 74.4,316.5 75.3,316.5 76.3,317.3 77.2,317.7 78.2,317.7 79.1,318.1 80.1,317.7 81.0,317.7 81.9,318.1 84.8,318.1 85.7,318.5 86.7,318.5 87.6,318.9 88.5,319.2 90.4,319.2 91.4,318.5 92.3,318.5 93.3,318.1 94.2,318.1 95.2,317.7 96.1,317.3 97.0,317.3 98.0,316.9 98.9,316.9 99.9,316.5 100.8,316.5 101.8,316.1 102.7,316.1 103.7,315.7 104.6,315.3 105.5,314.9 106.5,313.3 107.4,312.9 108.4,312.5 109.3,311.7 110.3,311.7 111.2,311.4 112.1,310.6 113.1,309.8 114.0,309.0 115.0,308.2 115.9,307.4 116.9,306.6 117.8,305.4 118.8,304.6 119.7,303.8 120.6,303.1 121.6,302.3 122.5,301.5 123.5,300.3 124.4,299.5 125.4,298.3 126.3,297.5 127.3,296.7 128.2,295.6 129.1,294.8 130.1,294.0 131.0,293.2 132.0,292.4 132.9,291.6 133.9,290.8 134.8,290.4 135.7,290.0 136.7,289.6 137.6,289.2 138.6,288.8 139.5,288.8 140.5,289.2 141.4,289.2 142.4,289.6 143.3,290.0 144.2,290.0 145.2,290.4 146.1,290.8 147.1,291.6 148.0,291.6 149.0,292.4 149.9,293.2 150.9,294.4 151.8,295.6 152.7,296.7 153.7,297.9 154.6,298.7 155.6,298.7 156.5,299.5 157.5,300.3 158.4,301.5 159.3,303.4 160.3,304.2 161.2,305.4 162.2,306.2 163.1,307.4 164.1,308.2 165.0,309.4 166.0,310.6 166.9,311.4 167.8,312.5 168.8,313.7 169.7,315.3 170.7,316.9 171.6,318.5 172.6,320.4 173.5,322.0 174.5,323.6 175.4,325.2 176.3,326.8 177.3,327.9 178.2,329.5 179.2,330.7 180.1,332.3 181.1,333.5 182.0,334.3 182.9,335.1 183.9,335.8 184.8,336.6 185.8,337.0 186.7,337.8 187.7,338.2 188.6,338.6 189.6,339.0 190.5,339.4 191.4,339.8 192.4,340.2 193.3,340.6 194.3,341.0 195.2,341.0 196.2,341.4 198.1,341.4 199.0,341.8 201.8,341.8 202.8,342.2 206.5,342.2 207.5,342.6 208.4,343.7 211.3,343.7 212.2,343.3 217.9,343.3 218.8,343.7 219.8,343.3 220.7,343.7 230.1,343.7 231.1,344.1 233.9,344.1 234.9,344.5 238.6,344.5 239.6,344.9 241.5,344.9 242.4,344.1 245.3,344.1 246.2,344.9 247.1,344.5 249.0,344.5 250.0,344.1 250.9,343.7 252.8,343.7 253.7,343.3 256.6,343.3 257.5,343.7 260.4,343.7 261.3,344.5 264.1,344.5 265.1,344.1 266.0,344.5 267.0,344.9 267.9,345.3 268.9,345.7 269.8,346.1 270.7,346.9 271.7,347.7 272.6,348.1 273.6,349.3 274.5,350.5 275.5,351.6 276.4,353.2 277.3,355.6 278.3,358.4 279.2,361.1 280.2,363.9 281.1,366.3 282.1,368.6 283.0,370.6 284.0,373.0 284.9,374.9 285.8,376.9 286.8,379.3 287.7,381.3 288.7,384.0 289.6,387.6 290.6,391.1 291.5,394.7 292.5,397.1 293.4,399.4 294.3,401.4 295.3,403.0 296.2,405.0 297.2,406.5 298.1,408.1 299.1,409.7 300.0,411.3 300.9,412.9 301.9,414.4 302.8,416.0 303.8,417.6 304.7,419.2 305.7,420.4 306.6,421.9 307.6,423.1 308.5,424.7 309.4,425.9 310.4,427.1 311.3,427.9 312.3,429.1 313.2,430.2 314.2,431.0 315.1,431.8 316.1,432.6 317.0,433.4 317.9,434.6 318.9,435.4 319.8,435.8 320.8,436.6 321.7,437.4 322.7,437.8 323.6,438.5 324.5,438.9 325.5,438.9 326.4,439.3 327.4,439.7 328.3,440.1 329.3,440.9 330.2,442.1 332.1,442.1 333.0,443.3 335.9,443.3 336.8,444.5 339.7,444.5 340.6,445.6 343.4,445.6 344.4,446.8 348.1,446.8 349.1,448.0 352.9,448.0 353.8,449.2 354.8,449.2 355.7,448.0 356.6,449.2 358.5,449.2 359.5,450.4 366.1,450.4 367.0,451.6 368.9,451.6 369.9,452.8 377.4,452.8 378.4,453.9 383.1,453.9 384.0,455.1 388.7,455.1" stroke="#b7d0ea"/>
<path d="M72.5,316.1 73.4,316.5 74.4,316.5 75.3,316.9 76.3,317.3 77.2,317.3 78.2,317.7 79.1,317.7 80.1,318.1 81.0,318.1 81.9,318.5 84.8,318.5 85.7,318.9 92.3,318.9 93.3,318.5 94.2,318.5 95.2,318.1 96.1,318.1 97.0,317.7 98.0,317.3 98.9,317.3 99.9,316.9 100.8,316.5 101.8,316.1 102.7,315.7 103.7,315.3 104.6,314.9 105.5,314.5 106.5,314.1 107.4,313.3 108.4,312.9 109.3,312.5 110.3,311.7 111.2,311.4 112.1,310.6 113.1,309.8 114.0,309.0 115.0,308.2 115.9,307.4 116.9,306.6 117.8,305.8 118.8,304.6 119.7,303.8 120.6,303.1 121.6,301.9 122.5,301.1 123.5,300.3 124.4,299.5 125.4,298.7 126.3,297.9 127.3,296.7 128.2,295.9 129.1,295.2 130.1,294.4 131.0,293.2 132.0,292.4 132.9,292.0 133.9,291.2 134.8,290.8 135.7,290.4 136.7,290.0 137.6,289.6 138.6,289.2 139.5,288.8 140.5,288.8 141.4,289.2 142.4,289.2 143.3,289.6 144.2,290.0 145.2,290.4 146.1,290.8 147.1,291.2 148.0,292.0 149.0,292.8 149.9,293.6 150.9,294.4 151.8,295.6 152.7,296.7 153.7,297.5 154.6,298.7 155.6,299.5 156.5,300.3 157.5,301.5 158.4,302.3 159.3,303.1 160.3,304.2 161.2,305.0 162.2,306.2 163.1,307.0 164.1,308.2 165.0,309.4 166.0,310.6 166.9,311.4 167.8,312.9 168.8,314.1 169.7,315.3 170.7,316.9 171.6,318.9 172.6,320.4 173.5,322.0 174.5,323.6 175.4,325.2 176.3,326.8 177.3,327.9 178.2,329.5 179.2,330.7 180.1,331.9 181.1,333.1 182.0,334.3 182.9,335.1 183.9,335.8 184.8,336.6 185.8,337.4 186.7,337.8 187.7,338.6 188.6,339.0 189.6,339.4 190.5,339.8 191.4,339.8 192.4,340.2 193.3,340.6 194.3,341.0 195.2,341.0 196.2,341.4 197.1,341.4 198.1,341.8 199.9,341.8 200.9,342.2 203.7,342.2 204.7,342.6 209.4,342.6 210.3,342.9 215.0,342.9 216.0,343.3 221.7,343.3 222.6,343.7 227.3,343.7 228.3,344.1 232.0,344.1 233.0,344.5 238.6,344.5 239.6,344.9 244.3,344.9 245.3,344.5 248.1,344.5 249.0,344.1 250.9,344.1 251.9,343.7 263.2,343.7 264.1,344.1 265.1,344.1 266.0,344.5 267.0,344.9 267.9,345.3 268.9,345.7 269.8,346.1 270.7,346.5 271.7,347.3 272.6,348.1 273.6,349.3 274.5,350.5 275.5,351.6 276.4,353.6 277.3,356.0 278.3,358.4 279.2,361.1 280.2,363.9 281.1,366.6 282.1,368.6 283.0,371.0 284.0,373.0 284.9,374.9 285.8,376.9 286.8,379.3 287.7,381.7 288.7,384.4 289.6,387.6 290.6,391.5 291.5,394.7 292.5,397.5 293.4,399.4 294.3,401.4 295.3,403.4 296.2,405.0 297.2,406.5 298.1,408.1 299.1,409.7 300.0,411.3 300.9,412.9 301.9,414.4 302.8,416.0 303.8,417.6 304.7,419.2 305.7,420.8 306.6,421.9 307.6,423.1 308.5,424.3 309.4,425.5 310.4,426.7 311.3,427.9 312.3,429.1 313.2,430.2 314.2,431.0 315.1,431.8 316.1,433.0 317.0,433.4 317.9,434.2 318.9,435.0 319.8,435.8 320.8,436.2 321.7,437.0 322.7,437.4 323.6,438.1 324.5,438.5 325.5,438.9 326.4,439.7 327.4,440.1 328.3,440.5 329.3,440.9 330.2,442.1 332.1,442.1 333.0,443.3 335.9,443.3 336.8,444.5 339.7,444.5 340.6,445.6 343.4,445.6 344.4,446.8 348.1,446.8 349.1,448.0 353.8,448.0 354.8,449.2 359.5,449.2 360.4,450.4 366.1,450.4 367.0,451.6 371.7,451.6 372.7,452.8 377.4,452.8 378.4,453.9 384.0,453.9 385.0,455.1 388.7,455.1 389.7,457.1 402.9,457.1" stroke="#a9c9e8"/>
</g>
<g font-family='"Liberation Serif", "DejaVu Serif", serif' font-size="11.5" fill="#111" text-anchor="middle">
<text x="219.3" y="249.8">(<tspan font-weight="bold">a</tspan>)</text>
<text x="219.2" y="543">(<tspan font-weight="bold">b</tspan>)</text>
</g>
</svg>
</body></html>
